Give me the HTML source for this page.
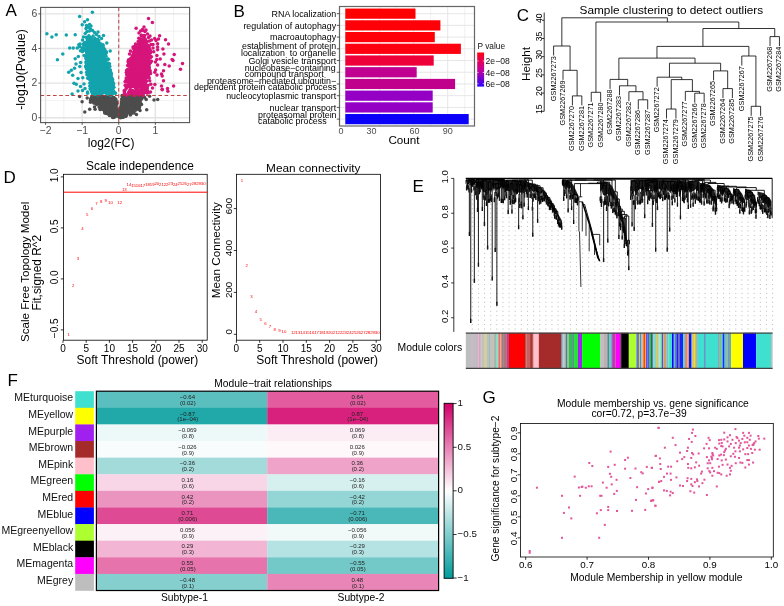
<!DOCTYPE html>
<html><head><meta charset="utf-8"><style>
html,body{margin:0;padding:0;background:#fff;width:784px;height:606px;overflow:hidden}
svg{display:block;font-family:"Liberation Sans", sans-serif;will-change:transform;filter:blur(0.35px)}
</style></head><body>
<svg width="784" height="606" viewBox="0 0 784 606">
<rect x="0" y="0" width="784" height="606" fill="#fff"/>
<text x="5.50" y="16.00" font-size="17" text-anchor="start" fill="#000" >A</text>
<text x="233.50" y="16.80" font-size="17" text-anchor="start" fill="#000" >B</text>
<text x="516.80" y="20.50" font-size="17" text-anchor="start" fill="#000" >C</text>
<text x="3.50" y="182.70" font-size="17" text-anchor="start" fill="#000" >D</text>
<text x="412.50" y="191.60" font-size="17" text-anchor="start" fill="#000" >E</text>
<text x="7.50" y="386.40" font-size="17" text-anchor="start" fill="#000" >F</text>
<text x="482.50" y="402.90" font-size="17" text-anchor="start" fill="#000" >G</text>
<line x1="345.50" y1="6.50" x2="345.50" y2="126.00" stroke="#e4e4e4" stroke-width="0.9" />
<line x1="362.53" y1="6.50" x2="362.53" y2="126.00" stroke="#e4e4e4" stroke-width="0.5" />
<line x1="379.56" y1="6.50" x2="379.56" y2="126.00" stroke="#e4e4e4" stroke-width="0.9" />
<line x1="396.59" y1="6.50" x2="396.59" y2="126.00" stroke="#e4e4e4" stroke-width="0.5" />
<line x1="413.62" y1="6.50" x2="413.62" y2="126.00" stroke="#e4e4e4" stroke-width="0.9" />
<line x1="430.65" y1="6.50" x2="430.65" y2="126.00" stroke="#e4e4e4" stroke-width="0.5" />
<line x1="447.68" y1="6.50" x2="447.68" y2="126.00" stroke="#e4e4e4" stroke-width="0.9" />
<line x1="464.71" y1="6.50" x2="464.71" y2="126.00" stroke="#e4e4e4" stroke-width="0.5" />
<line x1="339.50" y1="13.65" x2="474.50" y2="13.65" stroke="#e4e4e4" stroke-width="0.9" />
<line x1="339.50" y1="25.37" x2="474.50" y2="25.37" stroke="#e4e4e4" stroke-width="0.9" />
<line x1="339.50" y1="37.09" x2="474.50" y2="37.09" stroke="#e4e4e4" stroke-width="0.9" />
<line x1="339.50" y1="48.81" x2="474.50" y2="48.81" stroke="#e4e4e4" stroke-width="0.9" />
<line x1="339.50" y1="60.53" x2="474.50" y2="60.53" stroke="#e4e4e4" stroke-width="0.9" />
<line x1="339.50" y1="72.25" x2="474.50" y2="72.25" stroke="#e4e4e4" stroke-width="0.9" />
<line x1="339.50" y1="83.97" x2="474.50" y2="83.97" stroke="#e4e4e4" stroke-width="0.9" />
<line x1="339.50" y1="95.69" x2="474.50" y2="95.69" stroke="#e4e4e4" stroke-width="0.9" />
<line x1="339.50" y1="107.41" x2="474.50" y2="107.41" stroke="#e4e4e4" stroke-width="0.9" />
<line x1="339.50" y1="119.13" x2="474.50" y2="119.13" stroke="#e4e4e4" stroke-width="0.9" />
<rect x="345.30" y="8.55" width="70.20" height="10.20" fill="#ff0000" stroke="none" stroke-width="1" />
<rect x="345.30" y="20.27" width="95.10" height="10.20" fill="#ff0008" stroke="none" stroke-width="1" />
<rect x="345.30" y="31.99" width="89.50" height="10.20" fill="#ff0008" stroke="none" stroke-width="1" />
<rect x="345.30" y="43.71" width="115.60" height="10.20" fill="#ff0010" stroke="none" stroke-width="1" />
<rect x="345.30" y="55.43" width="88.40" height="10.20" fill="#ee0038" stroke="none" stroke-width="1" />
<rect x="345.30" y="67.15" width="71.40" height="10.20" fill="#bf0090" stroke="none" stroke-width="1" />
<rect x="345.30" y="78.87" width="109.80" height="10.20" fill="#c0008c" stroke="none" stroke-width="1" />
<rect x="345.30" y="90.59" width="87.40" height="10.20" fill="#9400c4" stroke="none" stroke-width="1" />
<rect x="345.30" y="102.31" width="87.40" height="10.20" fill="#9400c4" stroke="none" stroke-width="1" />
<rect x="345.30" y="114.03" width="123.40" height="10.20" fill="#0a00fa" stroke="none" stroke-width="1" />
<rect x="339.50" y="6.50" width="135.00" height="119.50" fill="none" stroke="#666" stroke-width="1.2" />
<line x1="336.80" y1="13.65" x2="339.50" y2="13.65" stroke="#333" stroke-width="0.8" />
<line x1="336.80" y1="25.37" x2="339.50" y2="25.37" stroke="#333" stroke-width="0.8" />
<line x1="336.80" y1="37.09" x2="339.50" y2="37.09" stroke="#333" stroke-width="0.8" />
<line x1="336.80" y1="48.81" x2="339.50" y2="48.81" stroke="#333" stroke-width="0.8" />
<line x1="336.80" y1="60.53" x2="339.50" y2="60.53" stroke="#333" stroke-width="0.8" />
<line x1="336.80" y1="72.25" x2="339.50" y2="72.25" stroke="#333" stroke-width="0.8" />
<line x1="336.80" y1="83.97" x2="339.50" y2="83.97" stroke="#333" stroke-width="0.8" />
<line x1="336.80" y1="95.69" x2="339.50" y2="95.69" stroke="#333" stroke-width="0.8" />
<line x1="336.80" y1="107.41" x2="339.50" y2="107.41" stroke="#333" stroke-width="0.8" />
<line x1="336.80" y1="119.13" x2="339.50" y2="119.13" stroke="#333" stroke-width="0.8" />
<text x="340.90" y="134.30" font-size="9" text-anchor="middle" fill="#4d4d4d" >0</text>
<text x="371.40" y="134.30" font-size="9" text-anchor="middle" fill="#4d4d4d" >30</text>
<text x="414.50" y="134.30" font-size="9" text-anchor="middle" fill="#4d4d4d" >60</text>
<text x="447.80" y="134.30" font-size="9" text-anchor="middle" fill="#4d4d4d" >90</text>
<text x="404.00" y="144.20" font-size="11.7" text-anchor="middle" fill="#000" >Count</text>
<text x="336.20" y="16.85" font-size="8.9" text-anchor="end" fill="#000" >RNA localization</text>
<text x="336.20" y="28.57" font-size="8.9" text-anchor="end" fill="#000" >regulation of autophagy</text>
<text x="336.20" y="40.29" font-size="8.9" text-anchor="end" fill="#000" >macroautophagy</text>
<text x="336.20" y="49.21" font-size="8.9" text-anchor="end" fill="#000" style="white-space:pre">establishment of protein</text>
<text x="336.20" y="55.61" font-size="8.9" text-anchor="end" fill="#000" style="white-space:pre">localization  to organelle</text>
<text x="336.20" y="63.73" font-size="8.9" text-anchor="end" fill="#000" >Golgi vesicle transport</text>
<text x="244.70" y="71.05" font-size="8.9" text-anchor="start" fill="#000" style="white-space:pre">nucleobase−containing</text>
<text x="244.70" y="76.85" font-size="8.9" text-anchor="start" fill="#000" style="white-space:pre">compound transport</text>
<text x="336.20" y="84.17" font-size="8.9" text-anchor="end" fill="#000" style="white-space:pre">proteasome−mediated ubiquitin−</text>
<text x="336.60" y="89.97" font-size="8.9" text-anchor="end" fill="#000" style="white-space:pre">dependent protein catabolic process</text>
<text x="336.20" y="98.89" font-size="8.9" text-anchor="end" fill="#000" >nucleocytoplasmic transport</text>
<text x="336.20" y="110.61" font-size="8.9" text-anchor="end" fill="#000" >nuclear transport</text>
<text x="258.10" y="117.93" font-size="8.9" text-anchor="start" fill="#000" style="white-space:pre">proteasomal protein</text>
<text x="258.10" y="123.73" font-size="8.9" text-anchor="start" fill="#000" style="white-space:pre">catabolic process</text>
<text x="477.50" y="49.40" font-size="8.3" text-anchor="start" fill="#111" >P value</text>
<defs><linearGradient id="pg" x1="0" y1="0" x2="0" y2="1"><stop offset="0" stop-color="#ff0010"/><stop offset="0.5" stop-color="#c8009a"/><stop offset="1" stop-color="#3000ff"/></linearGradient></defs>
<rect x="477.20" y="52.50" width="6.90" height="34.10" fill="url(#pg)" stroke="none" stroke-width="1" />
<line x1="477.20" y1="61.00" x2="478.60" y2="61.00" stroke="#fff" stroke-width="0.6" />
<line x1="482.70" y1="61.00" x2="484.10" y2="61.00" stroke="#fff" stroke-width="0.6" />
<text x="485.60" y="64.10" font-size="8.6" text-anchor="start" fill="#111" >2e−08</text>
<line x1="477.20" y1="72.50" x2="478.60" y2="72.50" stroke="#fff" stroke-width="0.6" />
<line x1="482.70" y1="72.50" x2="484.10" y2="72.50" stroke="#fff" stroke-width="0.6" />
<text x="485.60" y="75.60" font-size="8.6" text-anchor="start" fill="#111" >4e−08</text>
<line x1="477.20" y1="83.70" x2="478.60" y2="83.70" stroke="#fff" stroke-width="0.6" />
<line x1="482.70" y1="83.70" x2="484.10" y2="83.70" stroke="#fff" stroke-width="0.6" />
<text x="485.60" y="86.80" font-size="8.6" text-anchor="start" fill="#111" >6e−08</text>
<text x="671.40" y="13.90" font-size="11.8" text-anchor="middle" fill="#000" >Sample clustering to detect outliers</text>
<line x1="544.20" y1="12.50" x2="544.20" y2="111.30" stroke="#000" stroke-width="0.8" />
<line x1="542.00" y1="20.30" x2="544.20" y2="20.30" stroke="#000" stroke-width="0.8" />
<text transform="translate(541.90,18.30) rotate(-90)" font-size="8.6" text-anchor="middle" fill="#000" >40</text>
<line x1="542.00" y1="38.50" x2="544.20" y2="38.50" stroke="#000" stroke-width="0.8" />
<text transform="translate(541.90,36.50) rotate(-90)" font-size="8.6" text-anchor="middle" fill="#000" >35</text>
<line x1="542.00" y1="56.70" x2="544.20" y2="56.70" stroke="#000" stroke-width="0.8" />
<text transform="translate(541.90,54.70) rotate(-90)" font-size="8.6" text-anchor="middle" fill="#000" >30</text>
<line x1="542.00" y1="74.90" x2="544.20" y2="74.90" stroke="#000" stroke-width="0.8" />
<text transform="translate(541.90,72.90) rotate(-90)" font-size="8.6" text-anchor="middle" fill="#000" >25</text>
<line x1="542.00" y1="93.10" x2="544.20" y2="93.10" stroke="#000" stroke-width="0.8" />
<text transform="translate(541.90,91.10) rotate(-90)" font-size="8.6" text-anchor="middle" fill="#000" >20</text>
<line x1="542.00" y1="111.30" x2="544.20" y2="111.30" stroke="#000" stroke-width="0.8" />
<text transform="translate(541.90,109.30) rotate(-90)" font-size="8.6" text-anchor="middle" fill="#000" >15</text>
<text transform="translate(529.90,64.00) rotate(-90)" font-size="11.8" text-anchor="middle" fill="#000" >Height</text>
<line x1="561.83" y1="17.80" x2="561.83" y2="46.00" stroke="#000" stroke-width="0.8" />
<line x1="553.60" y1="46.00" x2="553.60" y2="55.50" stroke="#000" stroke-width="0.8" />
<text transform="translate(555.50,56.10) rotate(-90)" font-size="7.3" text-anchor="end" fill="#000" >GSM2267273</text>
<line x1="570.07" y1="46.00" x2="570.07" y2="70.30" stroke="#000" stroke-width="0.8" />
<line x1="563.01" y1="70.30" x2="563.01" y2="79.80" stroke="#000" stroke-width="0.8" />
<text transform="translate(564.91,80.40) rotate(-90)" font-size="7.3" text-anchor="end" fill="#000" >GSM2267269</text>
<line x1="577.12" y1="70.30" x2="577.12" y2="95.90" stroke="#000" stroke-width="0.8" />
<line x1="572.42" y1="95.90" x2="572.42" y2="105.40" stroke="#000" stroke-width="0.8" />
<text transform="translate(574.32,106.00) rotate(-90)" font-size="7.3" text-anchor="end" fill="#000" >GSM2267270</text>
<line x1="581.83" y1="95.90" x2="581.83" y2="105.40" stroke="#000" stroke-width="0.8" />
<text transform="translate(583.73,106.00) rotate(-90)" font-size="7.3" text-anchor="end" fill="#000" >GSM2267281</text>
<line x1="572.42" y1="95.90" x2="581.83" y2="95.90" stroke="#000" stroke-width="0.8" />
<line x1="563.01" y1="70.30" x2="577.12" y2="70.30" stroke="#000" stroke-width="0.8" />
<line x1="553.60" y1="46.00" x2="570.07" y2="46.00" stroke="#000" stroke-width="0.8" />
<line x1="667.38" y1="17.80" x2="667.38" y2="22.00" stroke="#000" stroke-width="0.8" />
<line x1="595.94" y1="22.00" x2="595.94" y2="92.30" stroke="#000" stroke-width="0.8" />
<line x1="591.24" y1="92.30" x2="591.24" y2="101.80" stroke="#000" stroke-width="0.8" />
<text transform="translate(593.14,102.40) rotate(-90)" font-size="7.3" text-anchor="end" fill="#000" >GSM2267271</text>
<line x1="600.65" y1="92.30" x2="600.65" y2="101.80" stroke="#000" stroke-width="0.8" />
<text transform="translate(602.55,102.40) rotate(-90)" font-size="7.3" text-anchor="end" fill="#000" >GSM2267280</text>
<line x1="591.24" y1="92.30" x2="600.65" y2="92.30" stroke="#000" stroke-width="0.8" />
<line x1="738.82" y1="22.00" x2="738.82" y2="28.50" stroke="#000" stroke-width="0.8" />
<line x1="702.91" y1="28.50" x2="702.91" y2="46.40" stroke="#000" stroke-width="0.8" />
<line x1="656.96" y1="46.40" x2="656.96" y2="58.10" stroke="#000" stroke-width="0.8" />
<line x1="618.88" y1="58.10" x2="618.88" y2="79.40" stroke="#000" stroke-width="0.8" />
<line x1="610.06" y1="79.40" x2="610.06" y2="88.90" stroke="#000" stroke-width="0.8" />
<text transform="translate(611.96,89.50) rotate(-90)" font-size="7.3" text-anchor="end" fill="#000" >GSM2267288</text>
<line x1="627.70" y1="79.40" x2="627.70" y2="85.80" stroke="#000" stroke-width="0.8" />
<line x1="619.47" y1="85.80" x2="619.47" y2="95.30" stroke="#000" stroke-width="0.8" />
<text transform="translate(621.37,95.90) rotate(-90)" font-size="7.3" text-anchor="end" fill="#000" >GSM2267283</text>
<line x1="635.94" y1="85.80" x2="635.94" y2="91.70" stroke="#000" stroke-width="0.8" />
<line x1="628.88" y1="91.70" x2="628.88" y2="101.20" stroke="#000" stroke-width="0.8" />
<text transform="translate(630.78,101.80) rotate(-90)" font-size="7.3" text-anchor="end" fill="#000" >GSM2267282</text>
<line x1="643.00" y1="91.70" x2="643.00" y2="99.80" stroke="#000" stroke-width="0.8" />
<line x1="638.29" y1="99.80" x2="638.29" y2="109.30" stroke="#000" stroke-width="0.8" />
<text transform="translate(640.19,109.90) rotate(-90)" font-size="7.3" text-anchor="end" fill="#000" >GSM2267286</text>
<line x1="647.70" y1="99.80" x2="647.70" y2="109.30" stroke="#000" stroke-width="0.8" />
<text transform="translate(649.60,109.90) rotate(-90)" font-size="7.3" text-anchor="end" fill="#000" >GSM2267287</text>
<line x1="638.29" y1="99.80" x2="647.70" y2="99.80" stroke="#000" stroke-width="0.8" />
<line x1="628.88" y1="91.70" x2="643.00" y2="91.70" stroke="#000" stroke-width="0.8" />
<line x1="619.47" y1="85.80" x2="635.94" y2="85.80" stroke="#000" stroke-width="0.8" />
<line x1="610.06" y1="79.40" x2="627.70" y2="79.40" stroke="#000" stroke-width="0.8" />
<line x1="695.04" y1="58.10" x2="695.04" y2="63.20" stroke="#000" stroke-width="0.8" />
<line x1="669.46" y1="63.20" x2="669.46" y2="77.20" stroke="#000" stroke-width="0.8" />
<line x1="657.11" y1="77.20" x2="657.11" y2="86.70" stroke="#000" stroke-width="0.8" />
<text transform="translate(659.01,87.30) rotate(-90)" font-size="7.3" text-anchor="end" fill="#000" >GSM2267272</text>
<line x1="681.81" y1="77.20" x2="681.81" y2="79.60" stroke="#000" stroke-width="0.8" />
<line x1="671.23" y1="79.60" x2="671.23" y2="109.00" stroke="#000" stroke-width="0.8" />
<line x1="666.52" y1="109.00" x2="666.52" y2="118.50" stroke="#000" stroke-width="0.8" />
<text transform="translate(668.42,119.10) rotate(-90)" font-size="7.3" text-anchor="end" fill="#000" >GSM2267274</text>
<line x1="675.93" y1="109.00" x2="675.93" y2="118.50" stroke="#000" stroke-width="0.8" />
<text transform="translate(677.83,119.10) rotate(-90)" font-size="7.3" text-anchor="end" fill="#000" >GSM2267279</text>
<line x1="666.52" y1="109.00" x2="675.93" y2="109.00" stroke="#000" stroke-width="0.8" />
<line x1="692.40" y1="79.60" x2="692.40" y2="91.40" stroke="#000" stroke-width="0.8" />
<line x1="685.34" y1="91.40" x2="685.34" y2="100.90" stroke="#000" stroke-width="0.8" />
<text transform="translate(687.24,101.50) rotate(-90)" font-size="7.3" text-anchor="end" fill="#000" >GSM2267277</text>
<line x1="699.46" y1="91.40" x2="699.46" y2="93.20" stroke="#000" stroke-width="0.8" />
<line x1="694.75" y1="93.20" x2="694.75" y2="102.70" stroke="#000" stroke-width="0.8" />
<text transform="translate(696.65,103.30) rotate(-90)" font-size="7.3" text-anchor="end" fill="#000" >GSM2267266</text>
<line x1="704.16" y1="93.20" x2="704.16" y2="102.70" stroke="#000" stroke-width="0.8" />
<text transform="translate(706.06,103.30) rotate(-90)" font-size="7.3" text-anchor="end" fill="#000" >GSM2267278</text>
<line x1="694.75" y1="93.20" x2="704.16" y2="93.20" stroke="#000" stroke-width="0.8" />
<line x1="685.34" y1="91.40" x2="699.46" y2="91.40" stroke="#000" stroke-width="0.8" />
<line x1="671.23" y1="79.60" x2="692.40" y2="79.60" stroke="#000" stroke-width="0.8" />
<line x1="657.11" y1="77.20" x2="681.81" y2="77.20" stroke="#000" stroke-width="0.8" />
<line x1="720.63" y1="63.20" x2="720.63" y2="70.90" stroke="#000" stroke-width="0.8" />
<line x1="713.57" y1="70.90" x2="713.57" y2="80.40" stroke="#000" stroke-width="0.8" />
<text transform="translate(715.47,81.00) rotate(-90)" font-size="7.3" text-anchor="end" fill="#000" >GSM2267265</text>
<line x1="727.68" y1="70.90" x2="727.68" y2="88.60" stroke="#000" stroke-width="0.8" />
<line x1="722.98" y1="88.60" x2="722.98" y2="98.10" stroke="#000" stroke-width="0.8" />
<text transform="translate(724.88,98.70) rotate(-90)" font-size="7.3" text-anchor="end" fill="#000" >GSM2267264</text>
<line x1="732.39" y1="88.60" x2="732.39" y2="98.10" stroke="#000" stroke-width="0.8" />
<text transform="translate(734.29,98.70) rotate(-90)" font-size="7.3" text-anchor="end" fill="#000" >GSM2267285</text>
<line x1="722.98" y1="88.60" x2="732.39" y2="88.60" stroke="#000" stroke-width="0.8" />
<line x1="713.57" y1="70.90" x2="727.68" y2="70.90" stroke="#000" stroke-width="0.8" />
<line x1="669.46" y1="63.20" x2="720.63" y2="63.20" stroke="#000" stroke-width="0.8" />
<line x1="618.88" y1="58.10" x2="695.04" y2="58.10" stroke="#000" stroke-width="0.8" />
<line x1="748.86" y1="46.40" x2="748.86" y2="56.00" stroke="#000" stroke-width="0.8" />
<line x1="741.80" y1="56.00" x2="741.80" y2="65.50" stroke="#000" stroke-width="0.8" />
<text transform="translate(743.70,66.10) rotate(-90)" font-size="7.3" text-anchor="end" fill="#000" >GSM2267267</text>
<line x1="755.91" y1="56.00" x2="755.91" y2="106.30" stroke="#000" stroke-width="0.8" />
<line x1="751.21" y1="106.30" x2="751.21" y2="115.80" stroke="#000" stroke-width="0.8" />
<text transform="translate(753.11,116.40) rotate(-90)" font-size="7.3" text-anchor="end" fill="#000" >GSM2267275</text>
<line x1="760.62" y1="106.30" x2="760.62" y2="115.80" stroke="#000" stroke-width="0.8" />
<text transform="translate(762.52,116.40) rotate(-90)" font-size="7.3" text-anchor="end" fill="#000" >GSM2267276</text>
<line x1="751.21" y1="106.30" x2="760.62" y2="106.30" stroke="#000" stroke-width="0.8" />
<line x1="741.80" y1="56.00" x2="755.91" y2="56.00" stroke="#000" stroke-width="0.8" />
<line x1="656.96" y1="46.40" x2="748.86" y2="46.40" stroke="#000" stroke-width="0.8" />
<line x1="774.74" y1="28.50" x2="774.74" y2="36.60" stroke="#000" stroke-width="0.8" />
<line x1="770.03" y1="36.60" x2="770.03" y2="46.10" stroke="#000" stroke-width="0.8" />
<text transform="translate(771.93,46.70) rotate(-90)" font-size="7.3" text-anchor="end" fill="#000" >GSM2267268</text>
<line x1="779.44" y1="36.60" x2="779.44" y2="46.10" stroke="#000" stroke-width="0.8" />
<text transform="translate(781.34,46.70) rotate(-90)" font-size="7.3" text-anchor="end" fill="#000" >GSM2267284</text>
<line x1="770.03" y1="36.60" x2="779.44" y2="36.60" stroke="#000" stroke-width="0.8" />
<line x1="702.91" y1="28.50" x2="774.74" y2="28.50" stroke="#000" stroke-width="0.8" />
<line x1="595.94" y1="22.00" x2="738.82" y2="22.00" stroke="#000" stroke-width="0.8" />
<line x1="561.83" y1="17.80" x2="667.38" y2="17.80" stroke="#000" stroke-width="0.8" />
<rect x="63.40" y="174.30" width="143.80" height="165.90" fill="none" stroke="#000" stroke-width="0.8" />
<text x="140.00" y="170.30" font-size="11.9" text-anchor="middle" fill="#000" >Scale independence</text>
<line x1="63.40" y1="192.20" x2="207.20" y2="192.20" stroke="#ff0000" stroke-width="1" />
<line x1="60.80" y1="176.90" x2="63.40" y2="176.90" stroke="#000" stroke-width="0.8" />
<text transform="translate(58.30,175.30) rotate(-90)" font-size="10.0" text-anchor="middle" fill="#000" >1.0</text>
<line x1="60.80" y1="227.90" x2="63.40" y2="227.90" stroke="#000" stroke-width="0.8" />
<text transform="translate(58.30,226.30) rotate(-90)" font-size="10.0" text-anchor="middle" fill="#000" >0.5</text>
<line x1="60.80" y1="278.90" x2="63.40" y2="278.90" stroke="#000" stroke-width="0.8" />
<text transform="translate(58.30,277.30) rotate(-90)" font-size="10.0" text-anchor="middle" fill="#000" >0.0</text>
<line x1="60.80" y1="329.90" x2="63.40" y2="329.90" stroke="#000" stroke-width="0.8" />
<text transform="translate(58.30,328.30) rotate(-90)" font-size="10.0" text-anchor="middle" fill="#000" >−0.5</text>
<line x1="63.00" y1="340.20" x2="63.00" y2="342.80" stroke="#000" stroke-width="0.8" />
<text x="63.00" y="351.80" font-size="10.0" text-anchor="middle" fill="#000" >0</text>
<line x1="86.20" y1="340.20" x2="86.20" y2="342.80" stroke="#000" stroke-width="0.8" />
<text x="86.20" y="351.80" font-size="10.0" text-anchor="middle" fill="#000" >5</text>
<line x1="109.40" y1="340.20" x2="109.40" y2="342.80" stroke="#000" stroke-width="0.8" />
<text x="109.40" y="351.80" font-size="10.0" text-anchor="middle" fill="#000" >10</text>
<line x1="132.60" y1="340.20" x2="132.60" y2="342.80" stroke="#000" stroke-width="0.8" />
<text x="132.60" y="351.80" font-size="10.0" text-anchor="middle" fill="#000" >15</text>
<line x1="155.80" y1="340.20" x2="155.80" y2="342.80" stroke="#000" stroke-width="0.8" />
<text x="155.80" y="351.80" font-size="10.0" text-anchor="middle" fill="#000" >20</text>
<line x1="179.00" y1="340.20" x2="179.00" y2="342.80" stroke="#000" stroke-width="0.8" />
<text x="179.00" y="351.80" font-size="10.0" text-anchor="middle" fill="#000" >25</text>
<line x1="202.20" y1="340.20" x2="202.20" y2="342.80" stroke="#000" stroke-width="0.8" />
<text x="202.20" y="351.80" font-size="10.0" text-anchor="middle" fill="#000" >30</text>
<text x="137.40" y="364.20" font-size="12.0" text-anchor="middle" fill="#000" >Soft Threshold (power)</text>
<text transform="translate(29.00,271.80) rotate(-90)" font-size="11.6" text-anchor="middle" fill="#000" >Scale Free Topology Model</text>
<text transform="translate(41.30,272.80) rotate(-90)" font-size="11.9" text-anchor="middle" fill="#000" >Fit,signed R^2</text>
<text x="68.64" y="336.00" font-size="4.3" text-anchor="middle" fill="#ff0000" >1</text>
<text x="73.28" y="286.70" font-size="4.3" text-anchor="middle" fill="#ff0000" >2</text>
<text x="77.92" y="259.90" font-size="4.3" text-anchor="middle" fill="#ff0000" >3</text>
<text x="82.56" y="230.00" font-size="4.3" text-anchor="middle" fill="#ff0000" >4</text>
<text x="87.20" y="216.20" font-size="4.3" text-anchor="middle" fill="#ff0000" >5</text>
<text x="91.84" y="210.40" font-size="4.3" text-anchor="middle" fill="#ff0000" >6</text>
<text x="96.48" y="205.10" font-size="4.3" text-anchor="middle" fill="#ff0000" >7</text>
<text x="101.12" y="203.20" font-size="4.3" text-anchor="middle" fill="#ff0000" >8</text>
<text x="105.76" y="202.20" font-size="4.3" text-anchor="middle" fill="#ff0000" >9</text>
<text x="110.40" y="204.10" font-size="4.3" text-anchor="middle" fill="#ff0000" >10</text>
<text x="119.68" y="204.10" font-size="4.3" text-anchor="middle" fill="#ff0000" >12</text>
<text x="124.32" y="191.30" font-size="4.3" text-anchor="middle" fill="#ff0000" >13</text>
<text x="128.96" y="185.90" font-size="4.3" text-anchor="middle" fill="#ff0000" >14</text>
<text x="133.60" y="187.30" font-size="4.3" text-anchor="middle" fill="#ff0000" >15</text>
<text x="138.24" y="186.90" font-size="4.3" text-anchor="middle" fill="#ff0000" >16</text>
<text x="142.88" y="186.50" font-size="4.3" text-anchor="middle" fill="#ff0000" >17</text>
<text x="147.52" y="185.60" font-size="4.3" text-anchor="middle" fill="#ff0000" >18</text>
<text x="152.16" y="185.90" font-size="4.3" text-anchor="middle" fill="#ff0000" >19</text>
<text x="156.80" y="185.40" font-size="4.3" text-anchor="middle" fill="#ff0000" >20</text>
<text x="161.44" y="186.20" font-size="4.3" text-anchor="middle" fill="#ff0000" >21</text>
<text x="166.08" y="185.90" font-size="4.3" text-anchor="middle" fill="#ff0000" >22</text>
<text x="170.72" y="185.20" font-size="4.3" text-anchor="middle" fill="#ff0000" >23</text>
<text x="175.36" y="185.50" font-size="4.3" text-anchor="middle" fill="#ff0000" >24</text>
<text x="180.00" y="184.60" font-size="4.3" text-anchor="middle" fill="#ff0000" >25</text>
<text x="184.64" y="184.90" font-size="4.3" text-anchor="middle" fill="#ff0000" >26</text>
<text x="189.28" y="185.60" font-size="4.3" text-anchor="middle" fill="#ff0000" >27</text>
<text x="193.92" y="185.40" font-size="4.3" text-anchor="middle" fill="#ff0000" >28</text>
<text x="198.56" y="185.20" font-size="4.3" text-anchor="middle" fill="#ff0000" >29</text>
<text x="203.20" y="185.20" font-size="4.3" text-anchor="middle" fill="#ff0000" >30</text>
<rect x="236.40" y="174.30" width="144.20" height="165.90" fill="none" stroke="#000" stroke-width="0.8" />
<text x="313.30" y="172.30" font-size="11.8" text-anchor="middle" fill="#000" >Mean connectivity</text>
<line x1="233.80" y1="334.30" x2="236.40" y2="334.30" stroke="#000" stroke-width="0.8" />
<text transform="translate(232.00,331.80) rotate(-90)" font-size="9.8" text-anchor="middle" fill="#000" >0</text>
<line x1="233.80" y1="292.40" x2="236.40" y2="292.40" stroke="#000" stroke-width="0.8" />
<text transform="translate(232.00,289.90) rotate(-90)" font-size="9.8" text-anchor="middle" fill="#000" >200</text>
<line x1="233.80" y1="250.50" x2="236.40" y2="250.50" stroke="#000" stroke-width="0.8" />
<text transform="translate(232.00,248.00) rotate(-90)" font-size="9.8" text-anchor="middle" fill="#000" >400</text>
<line x1="233.80" y1="208.60" x2="236.40" y2="208.60" stroke="#000" stroke-width="0.8" />
<text transform="translate(232.00,206.10) rotate(-90)" font-size="9.8" text-anchor="middle" fill="#000" >600</text>
<line x1="236.40" y1="340.20" x2="236.40" y2="342.80" stroke="#000" stroke-width="0.8" />
<text x="236.40" y="351.80" font-size="10.0" text-anchor="middle" fill="#000" >0</text>
<line x1="259.70" y1="340.20" x2="259.70" y2="342.80" stroke="#000" stroke-width="0.8" />
<text x="259.70" y="351.80" font-size="10.0" text-anchor="middle" fill="#000" >5</text>
<line x1="283.00" y1="340.20" x2="283.00" y2="342.80" stroke="#000" stroke-width="0.8" />
<text x="283.00" y="351.80" font-size="10.0" text-anchor="middle" fill="#000" >10</text>
<line x1="306.30" y1="340.20" x2="306.30" y2="342.80" stroke="#000" stroke-width="0.8" />
<text x="306.30" y="351.80" font-size="10.0" text-anchor="middle" fill="#000" >15</text>
<line x1="329.60" y1="340.20" x2="329.60" y2="342.80" stroke="#000" stroke-width="0.8" />
<text x="329.60" y="351.80" font-size="10.0" text-anchor="middle" fill="#000" >20</text>
<line x1="352.90" y1="340.20" x2="352.90" y2="342.80" stroke="#000" stroke-width="0.8" />
<text x="352.90" y="351.80" font-size="10.0" text-anchor="middle" fill="#000" >25</text>
<line x1="376.20" y1="340.20" x2="376.20" y2="342.80" stroke="#000" stroke-width="0.8" />
<text x="376.20" y="351.80" font-size="10.0" text-anchor="middle" fill="#000" >30</text>
<text x="317.20" y="364.20" font-size="12.0" text-anchor="middle" fill="#000" >Soft Threshold (power)</text>
<text transform="translate(220.00,250.20) rotate(-90)" font-size="11.7" text-anchor="middle" fill="#000" >Mean Connectivity</text>
<text x="242.06" y="182.30" font-size="4.3" text-anchor="middle" fill="#ff0000" >1</text>
<text x="246.72" y="267.00" font-size="4.3" text-anchor="middle" fill="#ff0000" >2</text>
<text x="251.38" y="298.00" font-size="4.3" text-anchor="middle" fill="#ff0000" >3</text>
<text x="256.04" y="313.10" font-size="4.3" text-anchor="middle" fill="#ff0000" >4</text>
<text x="260.70" y="321.10" font-size="4.3" text-anchor="middle" fill="#ff0000" >5</text>
<text x="265.36" y="325.40" font-size="4.3" text-anchor="middle" fill="#ff0000" >6</text>
<text x="270.02" y="328.30" font-size="4.3" text-anchor="middle" fill="#ff0000" >7</text>
<text x="274.68" y="330.50" font-size="4.3" text-anchor="middle" fill="#ff0000" >8</text>
<text x="279.34" y="331.50" font-size="4.3" text-anchor="middle" fill="#ff0000" >9</text>
<text x="284.00" y="332.70" font-size="4.3" text-anchor="middle" fill="#ff0000" >10</text>
<text x="293.32" y="334.40" font-size="4.3" text-anchor="middle" fill="#ff0000" >12</text>
<text x="297.98" y="334.40" font-size="4.3" text-anchor="middle" fill="#ff0000" >13</text>
<text x="302.64" y="334.40" font-size="4.3" text-anchor="middle" fill="#ff0000" >14</text>
<text x="307.30" y="334.40" font-size="4.3" text-anchor="middle" fill="#ff0000" >15</text>
<text x="311.96" y="334.40" font-size="4.3" text-anchor="middle" fill="#ff0000" >16</text>
<text x="316.62" y="334.40" font-size="4.3" text-anchor="middle" fill="#ff0000" >17</text>
<text x="321.28" y="334.40" font-size="4.3" text-anchor="middle" fill="#ff0000" >18</text>
<text x="325.94" y="334.40" font-size="4.3" text-anchor="middle" fill="#ff0000" >19</text>
<text x="330.60" y="334.40" font-size="4.3" text-anchor="middle" fill="#ff0000" >20</text>
<text x="335.26" y="334.40" font-size="4.3" text-anchor="middle" fill="#ff0000" >21</text>
<text x="339.92" y="334.40" font-size="4.3" text-anchor="middle" fill="#ff0000" >22</text>
<text x="344.58" y="334.40" font-size="4.3" text-anchor="middle" fill="#ff0000" >23</text>
<text x="349.24" y="334.40" font-size="4.3" text-anchor="middle" fill="#ff0000" >24</text>
<text x="353.90" y="334.40" font-size="4.3" text-anchor="middle" fill="#ff0000" >25</text>
<text x="358.56" y="334.40" font-size="4.3" text-anchor="middle" fill="#ff0000" >26</text>
<text x="363.22" y="334.40" font-size="4.3" text-anchor="middle" fill="#ff0000" >27</text>
<text x="367.88" y="334.40" font-size="4.3" text-anchor="middle" fill="#ff0000" >28</text>
<text x="372.54" y="334.40" font-size="4.3" text-anchor="middle" fill="#ff0000" >29</text>
<text x="377.20" y="334.40" font-size="4.3" text-anchor="middle" fill="#ff0000" >30</text>
<rect x="96.40" y="391.20" width="170.80" height="16.91" fill="#5cbfbf" stroke="none" stroke-width="1" />
<rect x="267.20" y="391.20" width="171.40" height="16.91" fill="#e25c9f" stroke="none" stroke-width="1" />
<rect x="75.20" y="391.20" width="18.70" height="16.91" fill="#40e0d0" stroke="none" stroke-width="1" />
<text x="73.20" y="401.30" font-size="10.5" text-anchor="end" fill="#111" >MEturquoise</text>
<text x="187.40" y="399.00" font-size="6.0" text-anchor="middle" fill="#222" >−0.64</text>
<text x="187.80" y="404.80" font-size="6.0" text-anchor="middle" fill="#222" >(0.02)</text>
<text x="357.30" y="399.00" font-size="6.0" text-anchor="middle" fill="#222" >0.64</text>
<text x="357.80" y="404.80" font-size="6.0" text-anchor="middle" fill="#222" >(0.02)</text>
<rect x="96.40" y="407.81" width="170.80" height="16.91" fill="#21a8a8" stroke="none" stroke-width="1" />
<rect x="267.20" y="407.81" width="171.40" height="16.91" fill="#d8217c" stroke="none" stroke-width="1" />
<rect x="75.20" y="407.81" width="18.70" height="16.91" fill="#ffff00" stroke="none" stroke-width="1" />
<text x="73.20" y="417.91" font-size="10.5" text-anchor="end" fill="#111" >MEyellow</text>
<text x="187.40" y="415.61" font-size="6.0" text-anchor="middle" fill="#222" >−0.87</text>
<text x="187.80" y="421.41" font-size="6.0" text-anchor="middle" fill="#222" >(1e−04)</text>
<text x="357.30" y="415.61" font-size="6.0" text-anchor="middle" fill="#222" >0.87</text>
<text x="357.80" y="421.41" font-size="6.0" text-anchor="middle" fill="#222" >(1e−04)</text>
<rect x="96.40" y="424.42" width="170.80" height="16.91" fill="#edf8f8" stroke="none" stroke-width="1" />
<rect x="267.20" y="424.42" width="171.40" height="16.91" fill="#fcedf5" stroke="none" stroke-width="1" />
<rect x="75.20" y="424.42" width="18.70" height="16.91" fill="#a020f0" stroke="none" stroke-width="1" />
<text x="73.20" y="434.52" font-size="10.5" text-anchor="end" fill="#111" >MEpurple</text>
<text x="187.40" y="432.22" font-size="6.0" text-anchor="middle" fill="#222" >−0.069</text>
<text x="187.80" y="438.02" font-size="6.0" text-anchor="middle" fill="#222" >(0.8)</text>
<text x="357.30" y="432.22" font-size="6.0" text-anchor="middle" fill="#222" >0.069</text>
<text x="357.80" y="438.02" font-size="6.0" text-anchor="middle" fill="#222" >(0.8)</text>
<rect x="96.40" y="441.03" width="170.80" height="16.91" fill="#f8fcfc" stroke="none" stroke-width="1" />
<rect x="267.20" y="441.03" width="171.40" height="16.91" fill="#fef8fb" stroke="none" stroke-width="1" />
<rect x="75.20" y="441.03" width="18.70" height="16.91" fill="#a52a2a" stroke="none" stroke-width="1" />
<text x="73.20" y="451.13" font-size="10.5" text-anchor="end" fill="#111" >MEbrown</text>
<text x="187.40" y="448.83" font-size="6.0" text-anchor="middle" fill="#222" >−0.026</text>
<text x="187.80" y="454.63" font-size="6.0" text-anchor="middle" fill="#222" >(0.9)</text>
<text x="357.30" y="448.83" font-size="6.0" text-anchor="middle" fill="#222" >0.026</text>
<text x="357.80" y="454.63" font-size="6.0" text-anchor="middle" fill="#222" >(0.9)</text>
<rect x="96.40" y="457.64" width="170.80" height="16.91" fill="#a3dbdb" stroke="none" stroke-width="1" />
<rect x="267.20" y="457.64" width="171.40" height="16.91" fill="#efa3c9" stroke="none" stroke-width="1" />
<rect x="75.20" y="457.64" width="18.70" height="16.91" fill="#ffc0cb" stroke="none" stroke-width="1" />
<text x="73.20" y="467.74" font-size="10.5" text-anchor="end" fill="#111" >MEpink</text>
<text x="187.40" y="465.44" font-size="6.0" text-anchor="middle" fill="#222" >−0.36</text>
<text x="187.80" y="471.24" font-size="6.0" text-anchor="middle" fill="#222" >(0.2)</text>
<text x="357.30" y="465.44" font-size="6.0" text-anchor="middle" fill="#222" >0.36</text>
<text x="357.80" y="471.24" font-size="6.0" text-anchor="middle" fill="#222" >(0.2)</text>
<rect x="96.40" y="474.25" width="170.80" height="16.91" fill="#f8d6e7" stroke="none" stroke-width="1" />
<rect x="267.20" y="474.25" width="171.40" height="16.91" fill="#d6efef" stroke="none" stroke-width="1" />
<rect x="75.20" y="474.25" width="18.70" height="16.91" fill="#00ff00" stroke="none" stroke-width="1" />
<text x="73.20" y="484.35" font-size="10.5" text-anchor="end" fill="#111" >MEgreen</text>
<text x="187.40" y="482.05" font-size="6.0" text-anchor="middle" fill="#222" >0.16</text>
<text x="187.80" y="487.85" font-size="6.0" text-anchor="middle" fill="#222" >(0.6)</text>
<text x="357.30" y="482.05" font-size="6.0" text-anchor="middle" fill="#222" >−0.16</text>
<text x="357.80" y="487.85" font-size="6.0" text-anchor="middle" fill="#222" >(0.6)</text>
<rect x="96.40" y="490.86" width="170.80" height="16.91" fill="#ec94c0" stroke="none" stroke-width="1" />
<rect x="267.20" y="490.86" width="171.40" height="16.91" fill="#94d5d5" stroke="none" stroke-width="1" />
<rect x="75.20" y="490.86" width="18.70" height="16.91" fill="#ff0000" stroke="none" stroke-width="1" />
<text x="73.20" y="500.96" font-size="10.5" text-anchor="end" fill="#111" >MEred</text>
<text x="187.40" y="498.66" font-size="6.0" text-anchor="middle" fill="#222" >0.42</text>
<text x="187.80" y="504.46" font-size="6.0" text-anchor="middle" fill="#222" >(0.2)</text>
<text x="357.30" y="498.66" font-size="6.0" text-anchor="middle" fill="#222" >−0.42</text>
<text x="357.80" y="504.46" font-size="6.0" text-anchor="middle" fill="#222" >(0.2)</text>
<rect x="96.40" y="507.47" width="170.80" height="16.91" fill="#df4a94" stroke="none" stroke-width="1" />
<rect x="267.20" y="507.47" width="171.40" height="16.91" fill="#4ab8b8" stroke="none" stroke-width="1" />
<rect x="75.20" y="507.47" width="18.70" height="16.91" fill="#0000ff" stroke="none" stroke-width="1" />
<text x="73.20" y="517.57" font-size="10.5" text-anchor="end" fill="#111" >MEblue</text>
<text x="187.40" y="515.27" font-size="6.0" text-anchor="middle" fill="#222" >0.71</text>
<text x="187.80" y="521.07" font-size="6.0" text-anchor="middle" fill="#222" >(0.006)</text>
<text x="357.30" y="515.27" font-size="6.0" text-anchor="middle" fill="#222" >−0.71</text>
<text x="357.80" y="521.07" font-size="6.0" text-anchor="middle" fill="#222" >(0.006)</text>
<rect x="96.40" y="524.08" width="170.80" height="16.91" fill="#fcf1f7" stroke="none" stroke-width="1" />
<rect x="267.20" y="524.08" width="171.40" height="16.91" fill="#f1f9f9" stroke="none" stroke-width="1" />
<rect x="75.20" y="524.08" width="18.70" height="16.91" fill="#adff2f" stroke="none" stroke-width="1" />
<text x="73.20" y="534.18" font-size="10.5" text-anchor="end" fill="#111" >MEgreenyellow</text>
<text x="187.40" y="531.88" font-size="6.0" text-anchor="middle" fill="#222" >0.056</text>
<text x="187.80" y="537.68" font-size="6.0" text-anchor="middle" fill="#222" >(0.9)</text>
<text x="357.30" y="531.88" font-size="6.0" text-anchor="middle" fill="#222" >−0.056</text>
<text x="357.80" y="537.68" font-size="6.0" text-anchor="middle" fill="#222" >(0.9)</text>
<rect x="96.40" y="540.69" width="170.80" height="16.91" fill="#f2b5d4" stroke="none" stroke-width="1" />
<rect x="267.20" y="540.69" width="171.40" height="16.91" fill="#b5e2e2" stroke="none" stroke-width="1" />
<rect x="75.20" y="540.69" width="18.70" height="16.91" fill="#000000" stroke="none" stroke-width="1" />
<text x="73.20" y="550.79" font-size="10.5" text-anchor="end" fill="#111" >MEblack</text>
<text x="187.40" y="548.49" font-size="6.0" text-anchor="middle" fill="#222" >0.29</text>
<text x="187.80" y="554.29" font-size="6.0" text-anchor="middle" fill="#222" >(0.3)</text>
<text x="357.30" y="548.49" font-size="6.0" text-anchor="middle" fill="#222" >−0.29</text>
<text x="357.80" y="554.29" font-size="6.0" text-anchor="middle" fill="#222" >(0.3)</text>
<rect x="96.40" y="557.30" width="170.80" height="16.91" fill="#e673ac" stroke="none" stroke-width="1" />
<rect x="267.20" y="557.30" width="171.40" height="16.91" fill="#73c8c8" stroke="none" stroke-width="1" />
<rect x="75.20" y="557.30" width="18.70" height="16.91" fill="#ff00ff" stroke="none" stroke-width="1" />
<text x="73.20" y="567.40" font-size="10.5" text-anchor="end" fill="#111" >MEmagenta</text>
<text x="187.40" y="565.10" font-size="6.0" text-anchor="middle" fill="#222" >0.55</text>
<text x="187.80" y="570.90" font-size="6.0" text-anchor="middle" fill="#222" >(0.05)</text>
<text x="357.30" y="565.10" font-size="6.0" text-anchor="middle" fill="#222" >−0.55</text>
<text x="357.80" y="570.90" font-size="6.0" text-anchor="middle" fill="#222" >(0.05)</text>
<rect x="96.40" y="573.91" width="170.80" height="16.91" fill="#85cfcf" stroke="none" stroke-width="1" />
<rect x="267.20" y="573.91" width="171.40" height="16.91" fill="#e985b7" stroke="none" stroke-width="1" />
<rect x="75.20" y="573.91" width="18.70" height="16.91" fill="#bebebe" stroke="none" stroke-width="1" />
<text x="73.20" y="584.01" font-size="10.5" text-anchor="end" fill="#111" >MEgrey</text>
<text x="187.40" y="581.71" font-size="6.0" text-anchor="middle" fill="#222" >−0.48</text>
<text x="187.80" y="587.51" font-size="6.0" text-anchor="middle" fill="#222" >(0.1)</text>
<text x="357.30" y="581.71" font-size="6.0" text-anchor="middle" fill="#222" >0.48</text>
<text x="357.80" y="587.51" font-size="6.0" text-anchor="middle" fill="#222" >(0.1)</text>
<rect x="96.40" y="391.20" width="342.20" height="199.32" fill="none" stroke="#000" stroke-width="1.2" />
<text x="273.00" y="387.30" font-size="10.3" text-anchor="middle" fill="#000" >Module−trait relationships</text>
<text x="184.40" y="601.40" font-size="10.3" text-anchor="middle" fill="#000" >Subtype-1</text>
<text x="361.00" y="601.40" font-size="10.3" text-anchor="middle" fill="#000" >Subtype-2</text>
<defs><linearGradient id="hg" x1="0" y1="0" x2="0" y2="1"><stop offset="0" stop-color="#d20069"/><stop offset="0.5" stop-color="#ffffff"/><stop offset="1" stop-color="#009b9b"/></linearGradient></defs>
<rect x="444.10" y="403.30" width="9.00" height="175.00" fill="url(#hg)" stroke="#000" stroke-width="0.9" />
<line x1="453.10" y1="403.60" x2="456.60" y2="403.60" stroke="#000" stroke-width="0.8" />
<text x="457.60" y="406.20" font-size="9.8" text-anchor="start" fill="#111" >1</text>
<line x1="453.10" y1="447.30" x2="456.60" y2="447.30" stroke="#000" stroke-width="0.8" />
<text x="457.60" y="449.90" font-size="9.8" text-anchor="start" fill="#111" >0.5</text>
<line x1="453.10" y1="490.80" x2="456.60" y2="490.80" stroke="#000" stroke-width="0.8" />
<text x="457.60" y="493.40" font-size="9.8" text-anchor="start" fill="#111" >0</text>
<line x1="453.10" y1="534.50" x2="456.60" y2="534.50" stroke="#000" stroke-width="0.8" />
<text x="457.60" y="537.10" font-size="9.8" text-anchor="start" fill="#111" >−0.5</text>
<line x1="453.10" y1="578.00" x2="456.60" y2="578.00" stroke="#000" stroke-width="0.8" />
<text x="457.60" y="580.60" font-size="9.8" text-anchor="start" fill="#111" >−1</text>
<text x="652.90" y="407.10" font-size="10.3" text-anchor="middle" fill="#000" >Module membership vs. gene significance</text>
<text x="639.10" y="417.10" font-size="10.3" text-anchor="middle" fill="#000" >cor=0.72, p=3.7e−39</text>
<rect x="528.70" y="550.00" width="2.00" height="2.00" fill="#e3559a" stroke="none" stroke-width="1" />
<rect x="528.70" y="551.80" width="2.00" height="2.00" fill="#e3559a" stroke="none" stroke-width="1" />
<rect x="535.90" y="486.70" width="2.00" height="2.00" fill="#e3559a" stroke="none" stroke-width="1" />
<rect x="561.00" y="494.80" width="2.00" height="2.00" fill="#e3559a" stroke="none" stroke-width="1" />
<rect x="561.00" y="536.80" width="2.00" height="2.00" fill="#e3559a" stroke="none" stroke-width="1" />
<rect x="562.90" y="511.90" width="2.00" height="2.00" fill="#e3559a" stroke="none" stroke-width="1" />
<rect x="568.00" y="506.50" width="2.00" height="2.00" fill="#e3559a" stroke="none" stroke-width="1" />
<rect x="570.30" y="517.40" width="2.00" height="2.00" fill="#e3559a" stroke="none" stroke-width="1" />
<rect x="573.70" y="475.60" width="2.00" height="2.00" fill="#e3559a" stroke="none" stroke-width="1" />
<rect x="577.90" y="486.50" width="2.00" height="2.00" fill="#e3559a" stroke="none" stroke-width="1" />
<rect x="579.10" y="494.80" width="2.00" height="2.00" fill="#e3559a" stroke="none" stroke-width="1" />
<rect x="580.70" y="486.00" width="2.00" height="2.00" fill="#e3559a" stroke="none" stroke-width="1" />
<rect x="581.40" y="485.60" width="2.00" height="2.00" fill="#e3559a" stroke="none" stroke-width="1" />
<rect x="584.80" y="486.70" width="2.00" height="2.00" fill="#e3559a" stroke="none" stroke-width="1" />
<rect x="587.80" y="485.30" width="2.00" height="2.00" fill="#e3559a" stroke="none" stroke-width="1" />
<rect x="590.60" y="485.30" width="2.00" height="2.00" fill="#e3559a" stroke="none" stroke-width="1" />
<rect x="588.30" y="462.00" width="2.00" height="2.00" fill="#e3559a" stroke="none" stroke-width="1" />
<rect x="591.30" y="465.00" width="2.00" height="2.00" fill="#e3559a" stroke="none" stroke-width="1" />
<rect x="595.90" y="512.30" width="2.00" height="2.00" fill="#e3559a" stroke="none" stroke-width="1" />
<rect x="598.20" y="536.80" width="2.00" height="2.00" fill="#e3559a" stroke="none" stroke-width="1" />
<rect x="599.20" y="494.80" width="2.00" height="2.00" fill="#e3559a" stroke="none" stroke-width="1" />
<rect x="600.50" y="494.80" width="2.00" height="2.00" fill="#e3559a" stroke="none" stroke-width="1" />
<rect x="599.80" y="509.10" width="2.00" height="2.00" fill="#e3559a" stroke="none" stroke-width="1" />
<rect x="601.90" y="481.60" width="2.00" height="2.00" fill="#e3559a" stroke="none" stroke-width="1" />
<rect x="603.80" y="523.90" width="2.00" height="2.00" fill="#e3559a" stroke="none" stroke-width="1" />
<rect x="605.60" y="486.70" width="2.00" height="2.00" fill="#e3559a" stroke="none" stroke-width="1" />
<rect x="607.20" y="465.90" width="2.00" height="2.00" fill="#e3559a" stroke="none" stroke-width="1" />
<rect x="607.20" y="505.90" width="2.00" height="2.00" fill="#e3559a" stroke="none" stroke-width="1" />
<rect x="607.20" y="509.10" width="2.00" height="2.00" fill="#e3559a" stroke="none" stroke-width="1" />
<rect x="608.90" y="472.80" width="2.00" height="2.00" fill="#e3559a" stroke="none" stroke-width="1" />
<rect x="609.60" y="450.60" width="2.00" height="2.00" fill="#e3559a" stroke="none" stroke-width="1" />
<rect x="610.20" y="475.80" width="2.00" height="2.00" fill="#e3559a" stroke="none" stroke-width="1" />
<rect x="610.70" y="483.40" width="2.00" height="2.00" fill="#e3559a" stroke="none" stroke-width="1" />
<rect x="613.20" y="492.90" width="2.00" height="2.00" fill="#e3559a" stroke="none" stroke-width="1" />
<rect x="613.70" y="463.80" width="2.00" height="2.00" fill="#e3559a" stroke="none" stroke-width="1" />
<rect x="615.60" y="478.80" width="2.00" height="2.00" fill="#e3559a" stroke="none" stroke-width="1" />
<rect x="615.80" y="489.90" width="2.00" height="2.00" fill="#e3559a" stroke="none" stroke-width="1" />
<rect x="616.00" y="510.00" width="2.00" height="2.00" fill="#e3559a" stroke="none" stroke-width="1" />
<rect x="624.10" y="459.00" width="2.00" height="2.00" fill="#e3559a" stroke="none" stroke-width="1" />
<rect x="624.10" y="467.70" width="2.00" height="2.00" fill="#e3559a" stroke="none" stroke-width="1" />
<rect x="626.90" y="456.70" width="2.00" height="2.00" fill="#e3559a" stroke="none" stroke-width="1" />
<rect x="629.40" y="477.00" width="2.00" height="2.00" fill="#e3559a" stroke="none" stroke-width="1" />
<rect x="631.00" y="509.80" width="2.00" height="2.00" fill="#e3559a" stroke="none" stroke-width="1" />
<rect x="634.50" y="467.50" width="2.00" height="2.00" fill="#e3559a" stroke="none" stroke-width="1" />
<rect x="635.00" y="498.90" width="2.00" height="2.00" fill="#e3559a" stroke="none" stroke-width="1" />
<rect x="636.10" y="486.20" width="2.00" height="2.00" fill="#e3559a" stroke="none" stroke-width="1" />
<rect x="640.30" y="471.20" width="2.00" height="2.00" fill="#e3559a" stroke="none" stroke-width="1" />
<rect x="641.70" y="472.40" width="2.00" height="2.00" fill="#e3559a" stroke="none" stroke-width="1" />
<rect x="644.20" y="508.90" width="2.00" height="2.00" fill="#e3559a" stroke="none" stroke-width="1" />
<rect x="644.90" y="492.50" width="2.00" height="2.00" fill="#e3559a" stroke="none" stroke-width="1" />
<rect x="645.80" y="465.90" width="2.00" height="2.00" fill="#e3559a" stroke="none" stroke-width="1" />
<rect x="647.20" y="488.10" width="2.00" height="2.00" fill="#e3559a" stroke="none" stroke-width="1" />
<rect x="650.00" y="499.80" width="2.00" height="2.00" fill="#e3559a" stroke="none" stroke-width="1" />
<rect x="651.80" y="499.20" width="2.00" height="2.00" fill="#e3559a" stroke="none" stroke-width="1" />
<rect x="650.70" y="466.80" width="2.00" height="2.00" fill="#e3559a" stroke="none" stroke-width="1" />
<rect x="651.40" y="486.90" width="2.00" height="2.00" fill="#e3559a" stroke="none" stroke-width="1" />
<rect x="654.40" y="504.70" width="2.00" height="2.00" fill="#e3559a" stroke="none" stroke-width="1" />
<rect x="654.60" y="455.00" width="2.00" height="2.00" fill="#e3559a" stroke="none" stroke-width="1" />
<rect x="657.60" y="426.90" width="2.00" height="2.00" fill="#e3559a" stroke="none" stroke-width="1" />
<rect x="658.10" y="480.90" width="2.00" height="2.00" fill="#e3559a" stroke="none" stroke-width="1" />
<rect x="657.58" y="426.75" width="2.00" height="2.00" fill="#e3559a" stroke="none" stroke-width="1" />
<rect x="691.88" y="428.56" width="2.00" height="2.00" fill="#e3559a" stroke="none" stroke-width="1" />
<rect x="734.42" y="428.07" width="2.00" height="2.00" fill="#e3559a" stroke="none" stroke-width="1" />
<rect x="691.05" y="431.86" width="2.00" height="2.00" fill="#e3559a" stroke="none" stroke-width="1" />
<rect x="694.35" y="435.00" width="2.00" height="2.00" fill="#e3559a" stroke="none" stroke-width="1" />
<rect x="723.21" y="431.70" width="2.00" height="2.00" fill="#e3559a" stroke="none" stroke-width="1" />
<rect x="742.17" y="431.86" width="2.00" height="2.00" fill="#e3559a" stroke="none" stroke-width="1" />
<rect x="747.94" y="431.86" width="2.00" height="2.00" fill="#e3559a" stroke="none" stroke-width="1" />
<rect x="671.76" y="436.81" width="2.00" height="2.00" fill="#e3559a" stroke="none" stroke-width="1" />
<rect x="688.08" y="437.96" width="2.00" height="2.00" fill="#e3559a" stroke="none" stroke-width="1" />
<rect x="707.54" y="436.81" width="2.00" height="2.00" fill="#e3559a" stroke="none" stroke-width="1" />
<rect x="708.70" y="439.12" width="2.00" height="2.00" fill="#e3559a" stroke="none" stroke-width="1" />
<rect x="728.98" y="434.17" width="2.00" height="2.00" fill="#e3559a" stroke="none" stroke-width="1" />
<rect x="726.51" y="436.32" width="2.00" height="2.00" fill="#e3559a" stroke="none" stroke-width="1" />
<rect x="735.58" y="435.99" width="2.00" height="2.00" fill="#e3559a" stroke="none" stroke-width="1" />
<rect x="717.93" y="439.12" width="2.00" height="2.00" fill="#e3559a" stroke="none" stroke-width="1" />
<rect x="720.24" y="438.79" width="2.00" height="2.00" fill="#e3559a" stroke="none" stroke-width="1" />
<rect x="723.21" y="438.46" width="2.00" height="2.00" fill="#e3559a" stroke="none" stroke-width="1" />
<rect x="741.35" y="437.96" width="2.00" height="2.00" fill="#e3559a" stroke="none" stroke-width="1" />
<rect x="746.30" y="436.81" width="2.00" height="2.00" fill="#e3559a" stroke="none" stroke-width="1" />
<rect x="748.77" y="438.79" width="2.00" height="2.00" fill="#e3559a" stroke="none" stroke-width="1" />
<rect x="757.34" y="435.00" width="2.00" height="2.00" fill="#e3559a" stroke="none" stroke-width="1" />
<rect x="763.28" y="437.63" width="2.00" height="2.00" fill="#e3559a" stroke="none" stroke-width="1" />
<rect x="757.84" y="437.63" width="2.00" height="2.00" fill="#e3559a" stroke="none" stroke-width="1" />
<rect x="674.56" y="444.07" width="2.00" height="2.00" fill="#e3559a" stroke="none" stroke-width="1" />
<rect x="690.72" y="440.93" width="2.00" height="2.00" fill="#e3559a" stroke="none" stroke-width="1" />
<rect x="705.56" y="442.91" width="2.00" height="2.00" fill="#e3559a" stroke="none" stroke-width="1" />
<rect x="718.26" y="442.58" width="2.00" height="2.00" fill="#e3559a" stroke="none" stroke-width="1" />
<rect x="720.73" y="442.09" width="2.00" height="2.00" fill="#e3559a" stroke="none" stroke-width="1" />
<rect x="729.80" y="442.91" width="2.00" height="2.00" fill="#e3559a" stroke="none" stroke-width="1" />
<rect x="734.75" y="442.09" width="2.00" height="2.00" fill="#e3559a" stroke="none" stroke-width="1" />
<rect x="739.70" y="442.09" width="2.00" height="2.00" fill="#e3559a" stroke="none" stroke-width="1" />
<rect x="743.82" y="441.26" width="2.00" height="2.00" fill="#e3559a" stroke="none" stroke-width="1" />
<rect x="752.07" y="443.74" width="2.00" height="2.00" fill="#e3559a" stroke="none" stroke-width="1" />
<rect x="754.54" y="440.44" width="2.00" height="2.00" fill="#e3559a" stroke="none" stroke-width="1" />
<rect x="746.30" y="441.26" width="2.00" height="2.00" fill="#e3559a" stroke="none" stroke-width="1" />
<rect x="663.84" y="446.70" width="2.00" height="2.00" fill="#e3559a" stroke="none" stroke-width="1" />
<rect x="686.93" y="446.70" width="2.00" height="2.00" fill="#e3559a" stroke="none" stroke-width="1" />
<rect x="703.09" y="447.36" width="2.00" height="2.00" fill="#e3559a" stroke="none" stroke-width="1" />
<rect x="708.04" y="447.36" width="2.00" height="2.00" fill="#e3559a" stroke="none" stroke-width="1" />
<rect x="714.14" y="446.70" width="2.00" height="2.00" fill="#e3559a" stroke="none" stroke-width="1" />
<rect x="715.79" y="447.86" width="2.00" height="2.00" fill="#e3559a" stroke="none" stroke-width="1" />
<rect x="720.24" y="445.06" width="2.00" height="2.00" fill="#e3559a" stroke="none" stroke-width="1" />
<rect x="721.56" y="445.39" width="2.00" height="2.00" fill="#e3559a" stroke="none" stroke-width="1" />
<rect x="724.86" y="447.86" width="2.00" height="2.00" fill="#e3559a" stroke="none" stroke-width="1" />
<rect x="728.16" y="445.39" width="2.00" height="2.00" fill="#e3559a" stroke="none" stroke-width="1" />
<rect x="733.10" y="446.70" width="2.00" height="2.00" fill="#e3559a" stroke="none" stroke-width="1" />
<rect x="738.05" y="446.70" width="2.00" height="2.00" fill="#e3559a" stroke="none" stroke-width="1" />
<rect x="742.17" y="448.35" width="2.00" height="2.00" fill="#e3559a" stroke="none" stroke-width="1" />
<rect x="746.30" y="447.03" width="2.00" height="2.00" fill="#e3559a" stroke="none" stroke-width="1" />
<rect x="749.92" y="447.86" width="2.00" height="2.00" fill="#e3559a" stroke="none" stroke-width="1" />
<rect x="753.88" y="448.68" width="2.00" height="2.00" fill="#e3559a" stroke="none" stroke-width="1" />
<rect x="758.66" y="448.68" width="2.00" height="2.00" fill="#e3559a" stroke="none" stroke-width="1" />
<rect x="679.01" y="451.65" width="2.00" height="2.00" fill="#e3559a" stroke="none" stroke-width="1" />
<rect x="686.10" y="450.00" width="2.00" height="2.00" fill="#e3559a" stroke="none" stroke-width="1" />
<rect x="691.05" y="451.98" width="2.00" height="2.00" fill="#e3559a" stroke="none" stroke-width="1" />
<rect x="692.21" y="453.30" width="2.00" height="2.00" fill="#e3559a" stroke="none" stroke-width="1" />
<rect x="697.65" y="452.48" width="2.00" height="2.00" fill="#e3559a" stroke="none" stroke-width="1" />
<rect x="711.66" y="453.30" width="2.00" height="2.00" fill="#e3559a" stroke="none" stroke-width="1" />
<rect x="718.26" y="454.46" width="2.00" height="2.00" fill="#e3559a" stroke="none" stroke-width="1" />
<rect x="719.91" y="453.63" width="2.00" height="2.00" fill="#e3559a" stroke="none" stroke-width="1" />
<rect x="722.88" y="454.13" width="2.00" height="2.00" fill="#e3559a" stroke="none" stroke-width="1" />
<rect x="732.28" y="452.81" width="2.00" height="2.00" fill="#e3559a" stroke="none" stroke-width="1" />
<rect x="734.42" y="450.33" width="2.00" height="2.00" fill="#e3559a" stroke="none" stroke-width="1" />
<rect x="738.87" y="450.33" width="2.00" height="2.00" fill="#e3559a" stroke="none" stroke-width="1" />
<rect x="744.32" y="453.14" width="2.00" height="2.00" fill="#e3559a" stroke="none" stroke-width="1" />
<rect x="747.12" y="453.14" width="2.00" height="2.00" fill="#e3559a" stroke="none" stroke-width="1" />
<rect x="751.24" y="451.98" width="2.00" height="2.00" fill="#e3559a" stroke="none" stroke-width="1" />
<rect x="654.94" y="454.78" width="2.00" height="2.00" fill="#e3559a" stroke="none" stroke-width="1" />
<rect x="658.89" y="457.42" width="2.00" height="2.00" fill="#e3559a" stroke="none" stroke-width="1" />
<rect x="676.21" y="460.23" width="2.00" height="2.00" fill="#e3559a" stroke="none" stroke-width="1" />
<rect x="681.16" y="458.08" width="2.00" height="2.00" fill="#e3559a" stroke="none" stroke-width="1" />
<rect x="683.30" y="456.10" width="2.00" height="2.00" fill="#e3559a" stroke="none" stroke-width="1" />
<rect x="690.23" y="456.93" width="2.00" height="2.00" fill="#e3559a" stroke="none" stroke-width="1" />
<rect x="705.89" y="456.10" width="2.00" height="2.00" fill="#e3559a" stroke="none" stroke-width="1" />
<rect x="708.04" y="459.40" width="2.00" height="2.00" fill="#e3559a" stroke="none" stroke-width="1" />
<rect x="710.84" y="456.93" width="2.00" height="2.00" fill="#e3559a" stroke="none" stroke-width="1" />
<rect x="716.61" y="458.08" width="2.00" height="2.00" fill="#e3559a" stroke="none" stroke-width="1" />
<rect x="720.73" y="459.40" width="2.00" height="2.00" fill="#e3559a" stroke="none" stroke-width="1" />
<rect x="724.86" y="458.58" width="2.00" height="2.00" fill="#e3559a" stroke="none" stroke-width="1" />
<rect x="729.80" y="455.28" width="2.00" height="2.00" fill="#e3559a" stroke="none" stroke-width="1" />
<rect x="733.93" y="455.77" width="2.00" height="2.00" fill="#e3559a" stroke="none" stroke-width="1" />
<rect x="738.05" y="456.93" width="2.00" height="2.00" fill="#e3559a" stroke="none" stroke-width="1" />
<rect x="746.30" y="459.07" width="2.00" height="2.00" fill="#e3559a" stroke="none" stroke-width="1" />
<rect x="747.94" y="459.07" width="2.00" height="2.00" fill="#e3559a" stroke="none" stroke-width="1" />
<rect x="659.22" y="463.03" width="2.00" height="2.00" fill="#e3559a" stroke="none" stroke-width="1" />
<rect x="686.93" y="463.03" width="2.00" height="2.00" fill="#e3559a" stroke="none" stroke-width="1" />
<rect x="695.17" y="461.38" width="2.00" height="2.00" fill="#e3559a" stroke="none" stroke-width="1" />
<rect x="698.14" y="464.68" width="2.00" height="2.00" fill="#e3559a" stroke="none" stroke-width="1" />
<rect x="706.72" y="462.21" width="2.00" height="2.00" fill="#e3559a" stroke="none" stroke-width="1" />
<rect x="709.19" y="462.21" width="2.00" height="2.00" fill="#e3559a" stroke="none" stroke-width="1" />
<rect x="721.56" y="463.85" width="2.00" height="2.00" fill="#e3559a" stroke="none" stroke-width="1" />
<rect x="726.51" y="463.53" width="2.00" height="2.00" fill="#e3559a" stroke="none" stroke-width="1" />
<rect x="730.63" y="464.84" width="2.00" height="2.00" fill="#e3559a" stroke="none" stroke-width="1" />
<rect x="734.75" y="462.21" width="2.00" height="2.00" fill="#e3559a" stroke="none" stroke-width="1" />
<rect x="739.37" y="461.55" width="2.00" height="2.00" fill="#e3559a" stroke="none" stroke-width="1" />
<rect x="741.35" y="461.88" width="2.00" height="2.00" fill="#e3559a" stroke="none" stroke-width="1" />
<rect x="747.94" y="463.53" width="2.00" height="2.00" fill="#e3559a" stroke="none" stroke-width="1" />
<rect x="752.07" y="461.55" width="2.00" height="2.00" fill="#e3559a" stroke="none" stroke-width="1" />
<rect x="650.98" y="466.82" width="2.00" height="2.00" fill="#e3559a" stroke="none" stroke-width="1" />
<rect x="659.72" y="467.98" width="2.00" height="2.00" fill="#e3559a" stroke="none" stroke-width="1" />
<rect x="667.14" y="465.67" width="2.00" height="2.00" fill="#e3559a" stroke="none" stroke-width="1" />
<rect x="670.11" y="465.67" width="2.00" height="2.00" fill="#e3559a" stroke="none" stroke-width="1" />
<rect x="687.26" y="466.82" width="2.00" height="2.00" fill="#e3559a" stroke="none" stroke-width="1" />
<rect x="690.23" y="467.32" width="2.00" height="2.00" fill="#e3559a" stroke="none" stroke-width="1" />
<rect x="693.85" y="466.33" width="2.00" height="2.00" fill="#e3559a" stroke="none" stroke-width="1" />
<rect x="706.72" y="467.32" width="2.00" height="2.00" fill="#e3559a" stroke="none" stroke-width="1" />
<rect x="708.37" y="470.12" width="2.00" height="2.00" fill="#e3559a" stroke="none" stroke-width="1" />
<rect x="711.34" y="466.82" width="2.00" height="2.00" fill="#e3559a" stroke="none" stroke-width="1" />
<rect x="712.98" y="470.12" width="2.00" height="2.00" fill="#e3559a" stroke="none" stroke-width="1" />
<rect x="717.93" y="465.67" width="2.00" height="2.00" fill="#e3559a" stroke="none" stroke-width="1" />
<rect x="728.98" y="466.82" width="2.00" height="2.00" fill="#e3559a" stroke="none" stroke-width="1" />
<rect x="744.32" y="466.49" width="2.00" height="2.00" fill="#e3559a" stroke="none" stroke-width="1" />
<rect x="665.99" y="472.59" width="2.00" height="2.00" fill="#e3559a" stroke="none" stroke-width="1" />
<rect x="669.61" y="472.59" width="2.00" height="2.00" fill="#e3559a" stroke="none" stroke-width="1" />
<rect x="700.12" y="472.59" width="2.00" height="2.00" fill="#e3559a" stroke="none" stroke-width="1" />
<rect x="700.95" y="470.62" width="2.00" height="2.00" fill="#e3559a" stroke="none" stroke-width="1" />
<rect x="709.19" y="471.44" width="2.00" height="2.00" fill="#e3559a" stroke="none" stroke-width="1" />
<rect x="711.34" y="474.74" width="2.00" height="2.00" fill="#e3559a" stroke="none" stroke-width="1" />
<rect x="716.61" y="471.77" width="2.00" height="2.00" fill="#e3559a" stroke="none" stroke-width="1" />
<rect x="718.26" y="472.10" width="2.00" height="2.00" fill="#e3559a" stroke="none" stroke-width="1" />
<rect x="720.24" y="473.42" width="2.00" height="2.00" fill="#e3559a" stroke="none" stroke-width="1" />
<rect x="725.68" y="474.74" width="2.00" height="2.00" fill="#e3559a" stroke="none" stroke-width="1" />
<rect x="729.80" y="469.79" width="2.00" height="2.00" fill="#e3559a" stroke="none" stroke-width="1" />
<rect x="728.98" y="473.42" width="2.00" height="2.00" fill="#e3559a" stroke="none" stroke-width="1" />
<rect x="663.02" y="475.89" width="2.00" height="2.00" fill="#e3559a" stroke="none" stroke-width="1" />
<rect x="675.39" y="476.39" width="2.00" height="2.00" fill="#e3559a" stroke="none" stroke-width="1" />
<rect x="686.60" y="477.21" width="2.00" height="2.00" fill="#e3559a" stroke="none" stroke-width="1" />
<rect x="690.23" y="477.87" width="2.00" height="2.00" fill="#e3559a" stroke="none" stroke-width="1" />
<rect x="696.00" y="478.37" width="2.00" height="2.00" fill="#e3559a" stroke="none" stroke-width="1" />
<rect x="696.33" y="480.02" width="2.00" height="2.00" fill="#e3559a" stroke="none" stroke-width="1" />
<rect x="703.42" y="478.70" width="2.00" height="2.00" fill="#e3559a" stroke="none" stroke-width="1" />
<rect x="658.07" y="480.84" width="2.00" height="2.00" fill="#e3559a" stroke="none" stroke-width="1" />
<rect x="660.21" y="480.02" width="2.00" height="2.00" fill="#e3559a" stroke="none" stroke-width="1" />
<rect x="669.94" y="478.86" width="2.00" height="2.00" fill="#e3559a" stroke="none" stroke-width="1" />
<rect x="686.10" y="480.02" width="2.00" height="2.00" fill="#e3559a" stroke="none" stroke-width="1" />
<rect x="693.85" y="481.17" width="2.00" height="2.00" fill="#e3559a" stroke="none" stroke-width="1" />
<rect x="701.44" y="482.16" width="2.00" height="2.00" fill="#e3559a" stroke="none" stroke-width="1" />
<rect x="679.01" y="484.47" width="2.00" height="2.00" fill="#e3559a" stroke="none" stroke-width="1" />
<rect x="681.98" y="484.96" width="2.00" height="2.00" fill="#e3559a" stroke="none" stroke-width="1" />
<rect x="690.23" y="483.31" width="2.00" height="2.00" fill="#e3559a" stroke="none" stroke-width="1" />
<rect x="691.55" y="484.96" width="2.00" height="2.00" fill="#e3559a" stroke="none" stroke-width="1" />
<rect x="697.98" y="485.46" width="2.00" height="2.00" fill="#e3559a" stroke="none" stroke-width="1" />
<rect x="715.79" y="485.46" width="2.00" height="2.00" fill="#e3559a" stroke="none" stroke-width="1" />
<rect x="651.47" y="486.61" width="2.00" height="2.00" fill="#e3559a" stroke="none" stroke-width="1" />
<rect x="663.02" y="489.42" width="2.00" height="2.00" fill="#e3559a" stroke="none" stroke-width="1" />
<rect x="665.82" y="489.91" width="2.00" height="2.00" fill="#e3559a" stroke="none" stroke-width="1" />
<rect x="669.61" y="490.73" width="2.00" height="2.00" fill="#e3559a" stroke="none" stroke-width="1" />
<rect x="671.76" y="492.05" width="2.00" height="2.00" fill="#e3559a" stroke="none" stroke-width="1" />
<rect x="669.12" y="494.36" width="2.00" height="2.00" fill="#e3559a" stroke="none" stroke-width="1" />
<rect x="689.40" y="490.24" width="2.00" height="2.00" fill="#e3559a" stroke="none" stroke-width="1" />
<rect x="693.20" y="491.56" width="2.00" height="2.00" fill="#e3559a" stroke="none" stroke-width="1" />
<rect x="705.89" y="494.03" width="2.00" height="2.00" fill="#e3559a" stroke="none" stroke-width="1" />
<rect x="650.65" y="499.80" width="2.00" height="2.00" fill="#e3559a" stroke="none" stroke-width="1" />
<rect x="652.30" y="499.31" width="2.00" height="2.00" fill="#e3559a" stroke="none" stroke-width="1" />
<rect x="654.44" y="504.75" width="2.00" height="2.00" fill="#e3559a" stroke="none" stroke-width="1" />
<rect x="711.34" y="451.98" width="2.00" height="2.00" fill="#e3559a" stroke="none" stroke-width="1" />
<rect x="710.35" y="455.61" width="2.00" height="2.00" fill="#e3559a" stroke="none" stroke-width="1" />
<rect x="711.01" y="458.25" width="2.00" height="2.00" fill="#e3559a" stroke="none" stroke-width="1" />
<rect x="712.16" y="454.46" width="2.00" height="2.00" fill="#e3559a" stroke="none" stroke-width="1" />
<rect x="751.57" y="444.07" width="2.00" height="2.00" fill="#e3559a" stroke="none" stroke-width="1" />
<rect x="752.56" y="443.41" width="2.00" height="2.00" fill="#e3559a" stroke="none" stroke-width="1" />
<rect x="753.22" y="442.09" width="2.00" height="2.00" fill="#e3559a" stroke="none" stroke-width="1" />
<rect x="723.21" y="451.16" width="2.00" height="2.00" fill="#e3559a" stroke="none" stroke-width="1" />
<rect x="724.03" y="449.51" width="2.00" height="2.00" fill="#e3559a" stroke="none" stroke-width="1" />
<rect x="731.45" y="438.79" width="2.00" height="2.00" fill="#e3559a" stroke="none" stroke-width="1" />
<rect x="736.40" y="437.14" width="2.00" height="2.00" fill="#e3559a" stroke="none" stroke-width="1" />
<rect x="738.05" y="439.61" width="2.00" height="2.00" fill="#e3559a" stroke="none" stroke-width="1" />
<rect x="743.33" y="434.67" width="2.00" height="2.00" fill="#e3559a" stroke="none" stroke-width="1" />
<rect x="749.59" y="434.67" width="2.00" height="2.00" fill="#e3559a" stroke="none" stroke-width="1" />
<rect x="726.51" y="440.44" width="2.00" height="2.00" fill="#e3559a" stroke="none" stroke-width="1" />
<rect x="738.87" y="444.56" width="2.00" height="2.00" fill="#e3559a" stroke="none" stroke-width="1" />
<rect x="747.94" y="444.56" width="2.00" height="2.00" fill="#e3559a" stroke="none" stroke-width="1" />
<rect x="520.40" y="423.50" width="252.90" height="133.50" fill="none" stroke="#000" stroke-width="0.8" />
<line x1="517.60" y1="537.80" x2="520.40" y2="537.80" stroke="#000" stroke-width="0.8" />
<text transform="translate(516.80,538.40) rotate(-90)" font-size="9.8" text-anchor="middle" fill="#000" >0.4</text>
<line x1="517.60" y1="516.80" x2="520.40" y2="516.80" stroke="#000" stroke-width="0.8" />
<text transform="translate(516.80,517.40) rotate(-90)" font-size="9.8" text-anchor="middle" fill="#000" >0.5</text>
<line x1="517.60" y1="495.80" x2="520.40" y2="495.80" stroke="#000" stroke-width="0.8" />
<text transform="translate(516.80,496.40) rotate(-90)" font-size="9.8" text-anchor="middle" fill="#000" >0.6</text>
<line x1="517.60" y1="474.80" x2="520.40" y2="474.80" stroke="#000" stroke-width="0.8" />
<text transform="translate(516.80,475.40) rotate(-90)" font-size="9.8" text-anchor="middle" fill="#000" >0.7</text>
<line x1="517.60" y1="453.80" x2="520.40" y2="453.80" stroke="#000" stroke-width="0.8" />
<text transform="translate(516.80,454.40) rotate(-90)" font-size="9.8" text-anchor="middle" fill="#000" >0.8</text>
<line x1="517.60" y1="432.80" x2="520.40" y2="432.80" stroke="#000" stroke-width="0.8" />
<text transform="translate(516.80,433.40) rotate(-90)" font-size="9.8" text-anchor="middle" fill="#000" >0.9</text>
<line x1="525.70" y1="557.00" x2="525.70" y2="559.80" stroke="#000" stroke-width="0.8" />
<text x="525.70" y="568.20" font-size="9.8" text-anchor="middle" fill="#000" >0.6</text>
<line x1="587.10" y1="557.00" x2="587.10" y2="559.80" stroke="#000" stroke-width="0.8" />
<text x="587.10" y="568.20" font-size="9.8" text-anchor="middle" fill="#000" >0.7</text>
<line x1="648.50" y1="557.00" x2="648.50" y2="559.80" stroke="#000" stroke-width="0.8" />
<text x="648.50" y="568.20" font-size="9.8" text-anchor="middle" fill="#000" >0.8</text>
<line x1="709.90" y1="557.00" x2="709.90" y2="559.80" stroke="#000" stroke-width="0.8" />
<text x="709.90" y="568.20" font-size="9.8" text-anchor="middle" fill="#000" >0.9</text>
<line x1="771.30" y1="557.00" x2="771.30" y2="559.80" stroke="#000" stroke-width="0.8" />
<text x="771.30" y="568.20" font-size="9.8" text-anchor="middle" fill="#000" >1.0</text>
<text x="656.30" y="580.90" font-size="10.3" text-anchor="middle" fill="#000" >Module Membership in yellow module</text>
<text transform="translate(498.60,488.50) rotate(-90)" font-size="10.2" text-anchor="middle" fill="#000" >Gene significance for subtype−2</text>
<g>
<clipPath id="aclip"><rect x="40.6" y="7.4" width="149.0" height="115.19999999999999"/></clipPath>
<g clip-path="url(#aclip)">
<line x1="63.85" y1="7.40" x2="63.85" y2="122.60" stroke="#f0f0f0" stroke-width="0.9" />
<line x1="100.45" y1="7.40" x2="100.45" y2="122.60" stroke="#f0f0f0" stroke-width="0.9" />
<line x1="137.05" y1="7.40" x2="137.05" y2="122.60" stroke="#f0f0f0" stroke-width="0.9" />
<line x1="173.65" y1="7.40" x2="173.65" y2="122.60" stroke="#f0f0f0" stroke-width="0.9" />
<line x1="40.60" y1="100.40" x2="189.60" y2="100.40" stroke="#f0f0f0" stroke-width="0.9" />
<line x1="40.60" y1="65.80" x2="189.60" y2="65.80" stroke="#f0f0f0" stroke-width="0.9" />
<line x1="40.60" y1="31.20" x2="189.60" y2="31.20" stroke="#f0f0f0" stroke-width="0.9" />
<line x1="45.55" y1="7.40" x2="45.55" y2="122.60" stroke="#e3e3e3" stroke-width="1.4" />
<line x1="82.15" y1="7.40" x2="82.15" y2="122.60" stroke="#e3e3e3" stroke-width="1.4" />
<line x1="118.75" y1="7.40" x2="118.75" y2="122.60" stroke="#e3e3e3" stroke-width="1.4" />
<line x1="155.35" y1="7.40" x2="155.35" y2="122.60" stroke="#e3e3e3" stroke-width="1.4" />
<line x1="40.60" y1="117.70" x2="189.60" y2="117.70" stroke="#e3e3e3" stroke-width="1.4" />
<line x1="40.60" y1="83.10" x2="189.60" y2="83.10" stroke="#e3e3e3" stroke-width="1.4" />
<line x1="40.60" y1="48.50" x2="189.60" y2="48.50" stroke="#e3e3e3" stroke-width="1.4" />
<line x1="40.60" y1="13.90" x2="189.60" y2="13.90" stroke="#e3e3e3" stroke-width="1.4" />
<polygon points="95.1,97.1 116.1,97.1 118.1,109.0 118.6,109.0 121.5,97.1 140.0,97.1 139.5,100.5 138.1,105.4 134.7,110.3 130.2,113.2 124.4,115.7 118.3,116.9 112.7,115.7 106.8,112.7 101.0,106.4 97.1,104.5 94.6,101.5" fill="#4d4d4d"/>
<g fill="#4d4d4d"><circle cx="103.2" cy="108.2" r="1.75"/><circle cx="110.3" cy="109.6" r="1.75"/><circle cx="123.9" cy="97.0" r="1.75"/><circle cx="104.3" cy="101.0" r="1.75"/><circle cx="135.2" cy="106.6" r="1.75"/><circle cx="124.6" cy="99.0" r="1.75"/><circle cx="124.4" cy="115.7" r="1.75"/><circle cx="118.4" cy="112.8" r="1.75"/><circle cx="126.4" cy="97.0" r="1.75"/><circle cx="131.0" cy="109.3" r="1.75"/><circle cx="106.6" cy="96.2" r="1.75"/><circle cx="136.7" cy="106.5" r="1.75"/><circle cx="111.6" cy="114.2" r="1.75"/><circle cx="114.2" cy="117.3" r="1.75"/><circle cx="137.4" cy="97.8" r="1.75"/><circle cx="97.8" cy="100.6" r="1.75"/><circle cx="124.0" cy="102.5" r="1.75"/><circle cx="109.2" cy="109.1" r="1.75"/><circle cx="121.7" cy="116.6" r="1.75"/><circle cx="126.3" cy="99.3" r="1.75"/><circle cx="138.8" cy="108.8" r="1.75"/><circle cx="128.6" cy="100.4" r="1.75"/><circle cx="134.9" cy="108.9" r="1.75"/><circle cx="105.7" cy="97.0" r="1.75"/><circle cx="112.4" cy="99.0" r="1.75"/><circle cx="106.2" cy="113.4" r="1.75"/><circle cx="137.1" cy="96.5" r="1.75"/><circle cx="123.3" cy="96.5" r="1.75"/><circle cx="128.9" cy="103.2" r="1.75"/><circle cx="107.0" cy="97.3" r="1.75"/><circle cx="122.5" cy="96.2" r="1.75"/><circle cx="101.0" cy="105.0" r="1.75"/><circle cx="123.1" cy="99.1" r="1.75"/><circle cx="138.4" cy="104.3" r="1.75"/><circle cx="115.1" cy="107.6" r="1.75"/><circle cx="124.9" cy="109.4" r="1.75"/><circle cx="120.4" cy="109.9" r="1.75"/><circle cx="113.5" cy="112.3" r="1.75"/><circle cx="103.2" cy="102.5" r="1.75"/><circle cx="112.7" cy="109.0" r="1.75"/><circle cx="124.3" cy="96.9" r="1.75"/><circle cx="124.0" cy="106.4" r="1.75"/><circle cx="126.8" cy="103.7" r="1.75"/><circle cx="128.3" cy="112.7" r="1.75"/><circle cx="91.7" cy="96.9" r="1.75"/><circle cx="103.9" cy="106.1" r="1.75"/><circle cx="122.1" cy="103.0" r="1.75"/><circle cx="109.9" cy="102.8" r="1.75"/><circle cx="110.2" cy="109.4" r="1.75"/><circle cx="106.5" cy="104.3" r="1.75"/><circle cx="131.7" cy="96.1" r="1.75"/><circle cx="120.9" cy="112.6" r="1.75"/><circle cx="107.1" cy="100.7" r="1.75"/><circle cx="133.4" cy="101.1" r="1.75"/><circle cx="100.5" cy="105.6" r="1.75"/><circle cx="127.8" cy="97.9" r="1.75"/><circle cx="107.7" cy="103.3" r="1.75"/><circle cx="135.0" cy="105.7" r="1.75"/><circle cx="136.2" cy="99.4" r="1.75"/><circle cx="108.5" cy="110.7" r="1.75"/><circle cx="137.8" cy="106.0" r="1.75"/><circle cx="102.5" cy="98.3" r="1.75"/><circle cx="100.3" cy="102.0" r="1.75"/><circle cx="133.6" cy="110.5" r="1.75"/><circle cx="133.6" cy="103.5" r="1.75"/><circle cx="97.4" cy="102.3" r="1.75"/><circle cx="132.9" cy="101.8" r="1.75"/><circle cx="109.0" cy="105.2" r="1.75"/><circle cx="112.9" cy="105.0" r="1.75"/><circle cx="139.7" cy="99.1" r="1.75"/><circle cx="113.7" cy="117.6" r="1.75"/><circle cx="140.0" cy="100.7" r="1.75"/><circle cx="130.3" cy="115.0" r="1.75"/><circle cx="125.9" cy="107.6" r="1.75"/><circle cx="105.9" cy="103.4" r="1.75"/><circle cx="102.6" cy="97.1" r="1.75"/><circle cx="121.9" cy="102.2" r="1.75"/><circle cx="133.8" cy="96.6" r="1.75"/><circle cx="138.5" cy="108.9" r="1.75"/><circle cx="99.7" cy="102.5" r="1.75"/><circle cx="125.9" cy="107.7" r="1.75"/><circle cx="112.6" cy="117.4" r="1.75"/><circle cx="123.2" cy="103.5" r="1.75"/><circle cx="116.0" cy="113.7" r="1.75"/><circle cx="109.3" cy="100.1" r="1.75"/><circle cx="119.0" cy="114.5" r="1.75"/><circle cx="134.5" cy="95.7" r="1.75"/><circle cx="124.1" cy="115.6" r="1.75"/><circle cx="93.2" cy="101.8" r="1.75"/><circle cx="104.8" cy="107.8" r="1.75"/><circle cx="113.1" cy="106.5" r="1.75"/><circle cx="132.0" cy="95.5" r="1.75"/><circle cx="93.4" cy="98.5" r="1.75"/><circle cx="97.2" cy="97.1" r="1.75"/><circle cx="107.4" cy="102.8" r="1.75"/><circle cx="109.3" cy="110.6" r="1.75"/><circle cx="121.8" cy="103.9" r="1.75"/><circle cx="100.7" cy="103.2" r="1.75"/><circle cx="128.7" cy="104.4" r="1.75"/><circle cx="94.8" cy="99.7" r="1.75"/><circle cx="110.4" cy="109.6" r="1.75"/><circle cx="132.3" cy="104.4" r="1.75"/><circle cx="133.3" cy="110.0" r="1.75"/><circle cx="113.5" cy="104.2" r="1.75"/><circle cx="117.0" cy="111.9" r="1.75"/><circle cx="113.0" cy="111.7" r="1.75"/><circle cx="115.1" cy="101.2" r="1.75"/><circle cx="119.1" cy="111.7" r="1.75"/><circle cx="113.2" cy="116.0" r="1.75"/><circle cx="140.5" cy="104.2" r="1.75"/><circle cx="104.5" cy="106.3" r="1.75"/><circle cx="125.9" cy="116.2" r="1.75"/><circle cx="132.8" cy="111.1" r="1.75"/><circle cx="129.7" cy="108.6" r="1.75"/><circle cx="90.8" cy="98.8" r="1.75"/><circle cx="131.8" cy="96.5" r="1.75"/><circle cx="95.4" cy="97.8" r="1.75"/><circle cx="137.5" cy="99.7" r="1.75"/><circle cx="126.5" cy="115.0" r="1.75"/><circle cx="133.2" cy="96.3" r="1.75"/><circle cx="131.5" cy="107.4" r="1.75"/><circle cx="128.7" cy="98.0" r="1.75"/><circle cx="93.8" cy="103.1" r="1.75"/><circle cx="120.6" cy="114.8" r="1.75"/><circle cx="103.4" cy="99.7" r="1.75"/><circle cx="103.8" cy="109.9" r="1.75"/><circle cx="130.7" cy="104.7" r="1.75"/><circle cx="110.1" cy="104.7" r="1.75"/><circle cx="109.2" cy="105.2" r="1.75"/><circle cx="130.4" cy="99.2" r="1.75"/><circle cx="127.4" cy="113.1" r="1.75"/><circle cx="126.5" cy="107.5" r="1.75"/><circle cx="116.3" cy="110.5" r="1.75"/><circle cx="138.4" cy="99.0" r="1.75"/><circle cx="139.4" cy="107.6" r="1.75"/><circle cx="114.2" cy="112.3" r="1.75"/><circle cx="100.4" cy="101.7" r="1.75"/><circle cx="101.1" cy="109.1" r="1.75"/><circle cx="107.3" cy="100.9" r="1.75"/><circle cx="106.3" cy="111.9" r="1.75"/><circle cx="112.6" cy="115.4" r="1.75"/><circle cx="121.7" cy="101.7" r="1.75"/><circle cx="102.1" cy="96.0" r="1.75"/><circle cx="116.1" cy="104.4" r="1.75"/><circle cx="99.7" cy="103.9" r="1.75"/><circle cx="107.7" cy="113.5" r="1.75"/><circle cx="116.1" cy="109.5" r="1.75"/><circle cx="115.5" cy="114.9" r="1.75"/><circle cx="134.4" cy="108.5" r="1.75"/><circle cx="116.2" cy="112.3" r="1.75"/><circle cx="136.2" cy="104.8" r="1.75"/><circle cx="115.5" cy="100.8" r="1.75"/><circle cx="136.1" cy="101.1" r="1.75"/><circle cx="100.6" cy="101.5" r="1.75"/><circle cx="107.2" cy="105.4" r="1.75"/><circle cx="129.4" cy="97.5" r="1.75"/><circle cx="106.1" cy="103.8" r="1.75"/><circle cx="121.5" cy="111.2" r="1.75"/><circle cx="113.8" cy="106.8" r="1.75"/><circle cx="101.7" cy="109.1" r="1.75"/><circle cx="141.5" cy="104.6" r="1.75"/><circle cx="105.2" cy="111.0" r="1.75"/><circle cx="139.0" cy="97.8" r="1.75"/><circle cx="140.8" cy="104.2" r="1.75"/><circle cx="131.7" cy="113.1" r="1.75"/><circle cx="106.3" cy="111.2" r="1.75"/><circle cx="125.4" cy="114.3" r="1.75"/><circle cx="104.7" cy="113.1" r="1.75"/><circle cx="116.9" cy="103.7" r="1.75"/><circle cx="128.8" cy="111.3" r="1.75"/><circle cx="125.0" cy="110.2" r="1.75"/><circle cx="125.5" cy="98.4" r="1.75"/><circle cx="140.3" cy="98.8" r="1.75"/><circle cx="108.2" cy="112.3" r="1.75"/><circle cx="122.4" cy="108.4" r="1.75"/><circle cx="125.1" cy="106.2" r="1.75"/><circle cx="107.2" cy="99.6" r="1.75"/><circle cx="130.8" cy="108.2" r="1.75"/><circle cx="130.0" cy="103.9" r="1.75"/><circle cx="104.7" cy="104.4" r="1.75"/><circle cx="137.1" cy="96.5" r="1.75"/><circle cx="131.6" cy="103.8" r="1.75"/><circle cx="108.3" cy="104.9" r="1.75"/><circle cx="119.4" cy="113.5" r="1.75"/><circle cx="109.3" cy="115.2" r="1.75"/><circle cx="96.5" cy="101.8" r="1.75"/><circle cx="95.8" cy="98.1" r="1.75"/><circle cx="132.1" cy="112.4" r="1.75"/><circle cx="100.4" cy="99.9" r="1.75"/><circle cx="112.7" cy="112.8" r="1.75"/><circle cx="134.1" cy="112.9" r="1.75"/><circle cx="122.1" cy="98.9" r="1.75"/><circle cx="111.8" cy="100.0" r="1.75"/><circle cx="101.3" cy="101.3" r="1.75"/><circle cx="132.2" cy="96.2" r="1.75"/><circle cx="141.2" cy="104.4" r="1.75"/><circle cx="120.0" cy="109.1" r="1.75"/><circle cx="127.2" cy="102.5" r="1.75"/><circle cx="136.4" cy="106.8" r="1.75"/><circle cx="122.6" cy="112.4" r="1.75"/><circle cx="125.8" cy="107.0" r="1.75"/><circle cx="100.8" cy="107.8" r="1.75"/><circle cx="125.0" cy="105.9" r="1.75"/><circle cx="120.7" cy="117.8" r="1.75"/><circle cx="138.1" cy="98.7" r="1.75"/><circle cx="132.8" cy="110.0" r="1.75"/><circle cx="103.0" cy="97.3" r="1.75"/><circle cx="119.3" cy="117.2" r="1.75"/><circle cx="127.6" cy="98.6" r="1.75"/><circle cx="136.3" cy="109.5" r="1.75"/><circle cx="130.0" cy="103.5" r="1.75"/><circle cx="136.5" cy="105.7" r="1.75"/><circle cx="130.9" cy="106.8" r="1.75"/><circle cx="96.3" cy="96.5" r="1.75"/><circle cx="94.7" cy="100.2" r="1.75"/><circle cx="99.1" cy="107.1" r="1.75"/><circle cx="127.8" cy="108.0" r="1.75"/><circle cx="113.0" cy="110.6" r="1.75"/><circle cx="106.8" cy="106.3" r="1.75"/><circle cx="130.9" cy="104.9" r="1.75"/><circle cx="128.9" cy="104.0" r="1.75"/><circle cx="110.3" cy="107.8" r="1.75"/><circle cx="122.4" cy="100.7" r="1.75"/><circle cx="90.6" cy="100.4" r="1.75"/><circle cx="132.3" cy="98.8" r="1.75"/><circle cx="115.1" cy="100.1" r="1.75"/><circle cx="101.7" cy="99.5" r="1.75"/><circle cx="112.1" cy="99.4" r="1.75"/><circle cx="92.0" cy="98.1" r="1.75"/><circle cx="99.5" cy="106.9" r="1.75"/><circle cx="93.7" cy="96.0" r="1.75"/><circle cx="114.4" cy="105.0" r="1.75"/><circle cx="128.1" cy="96.7" r="1.75"/><circle cx="112.0" cy="104.7" r="1.75"/><circle cx="102.2" cy="97.7" r="1.75"/><circle cx="115.8" cy="99.3" r="1.75"/><circle cx="123.7" cy="103.6" r="1.75"/><circle cx="97.1" cy="96.7" r="1.75"/><circle cx="129.4" cy="101.9" r="1.75"/><circle cx="132.6" cy="106.3" r="1.75"/><circle cx="140.3" cy="102.5" r="1.75"/><circle cx="103.8" cy="101.7" r="1.75"/><circle cx="134.0" cy="110.2" r="1.75"/><circle cx="108.9" cy="97.7" r="1.75"/><circle cx="122.1" cy="95.6" r="1.75"/><circle cx="92.1" cy="97.6" r="1.75"/><circle cx="99.6" cy="96.4" r="1.75"/><circle cx="138.6" cy="100.2" r="1.75"/><circle cx="140.7" cy="96.3" r="1.75"/><circle cx="106.8" cy="109.6" r="1.75"/><circle cx="141.0" cy="97.5" r="1.75"/><circle cx="96.6" cy="104.6" r="1.75"/><circle cx="108.3" cy="111.3" r="1.75"/><circle cx="140.1" cy="99.6" r="1.75"/><circle cx="130.0" cy="112.6" r="1.75"/><circle cx="135.1" cy="108.4" r="1.75"/><circle cx="139.8" cy="104.0" r="1.75"/><circle cx="112.6" cy="100.8" r="1.75"/><circle cx="132.1" cy="106.7" r="1.75"/><circle cx="104.9" cy="99.5" r="1.75"/><circle cx="129.0" cy="109.6" r="1.75"/><circle cx="128.4" cy="104.5" r="1.75"/><circle cx="128.5" cy="96.0" r="1.75"/><circle cx="115.4" cy="113.2" r="1.75"/><circle cx="126.7" cy="97.8" r="1.75"/><circle cx="124.8" cy="116.0" r="1.75"/><circle cx="137.1" cy="106.0" r="1.75"/><circle cx="108.3" cy="104.1" r="1.75"/><circle cx="141.5" cy="97.9" r="1.75"/><circle cx="103.4" cy="96.6" r="1.75"/><circle cx="102.3" cy="108.6" r="1.75"/><circle cx="112.9" cy="113.7" r="1.75"/><circle cx="122.8" cy="113.9" r="1.75"/><circle cx="100.0" cy="97.3" r="1.75"/><circle cx="134.6" cy="98.1" r="1.75"/><circle cx="123.4" cy="110.5" r="1.75"/><circle cx="109.0" cy="109.6" r="1.75"/><circle cx="114.3" cy="98.1" r="1.75"/><circle cx="135.1" cy="109.3" r="1.75"/><circle cx="134.0" cy="100.3" r="1.75"/><circle cx="129.4" cy="97.3" r="1.75"/><circle cx="109.0" cy="106.8" r="1.75"/><circle cx="129.8" cy="105.4" r="1.75"/><circle cx="125.1" cy="109.6" r="1.75"/><circle cx="101.9" cy="103.7" r="1.75"/><circle cx="113.5" cy="97.5" r="1.75"/><circle cx="102.1" cy="99.4" r="1.75"/><circle cx="123.2" cy="117.2" r="1.75"/><circle cx="131.8" cy="105.0" r="1.75"/><circle cx="100.4" cy="97.7" r="1.75"/><circle cx="129.1" cy="102.4" r="1.75"/><circle cx="118.2" cy="110.4" r="1.75"/><circle cx="105.2" cy="105.6" r="1.75"/><circle cx="108.9" cy="112.8" r="1.75"/><circle cx="130.4" cy="102.2" r="1.75"/><circle cx="96.0" cy="102.5" r="1.75"/><circle cx="112.5" cy="97.3" r="1.75"/><circle cx="110.4" cy="99.3" r="1.75"/><circle cx="107.2" cy="106.3" r="1.75"/><circle cx="109.7" cy="115.4" r="1.75"/><circle cx="105.7" cy="106.3" r="1.75"/><circle cx="106.4" cy="101.2" r="1.75"/><circle cx="133.6" cy="95.7" r="1.75"/><circle cx="93.2" cy="100.3" r="1.75"/><circle cx="131.6" cy="106.4" r="1.75"/><circle cx="142.8" cy="96.3" r="1.75"/><circle cx="100.4" cy="95.8" r="1.75"/><circle cx="113.6" cy="103.4" r="1.75"/><circle cx="95.5" cy="102.8" r="1.75"/><circle cx="112.8" cy="101.6" r="1.75"/><circle cx="124.0" cy="111.2" r="1.75"/><circle cx="103.7" cy="98.7" r="1.75"/><circle cx="131.0" cy="113.9" r="1.75"/><circle cx="117.7" cy="114.9" r="1.75"/><circle cx="99.5" cy="95.9" r="1.75"/><circle cx="124.8" cy="116.4" r="1.75"/><circle cx="138.9" cy="106.4" r="1.75"/><circle cx="134.0" cy="109.5" r="1.75"/><circle cx="112.6" cy="107.6" r="1.75"/><circle cx="99.6" cy="99.8" r="1.75"/><circle cx="109.3" cy="106.1" r="1.75"/><circle cx="133.4" cy="106.0" r="1.75"/><circle cx="141.7" cy="99.1" r="1.75"/><circle cx="107.3" cy="107.7" r="1.75"/><circle cx="112.5" cy="115.3" r="1.75"/><circle cx="123.2" cy="96.2" r="1.75"/><circle cx="121.2" cy="108.3" r="1.75"/><circle cx="116.5" cy="102.0" r="1.75"/><circle cx="110.3" cy="107.5" r="1.75"/><circle cx="124.9" cy="100.0" r="1.75"/><circle cx="139.7" cy="99.7" r="1.75"/><circle cx="111.0" cy="114.8" r="1.75"/><circle cx="107.4" cy="101.8" r="1.75"/><circle cx="107.4" cy="104.6" r="1.75"/><circle cx="105.6" cy="98.6" r="1.75"/><circle cx="94.7" cy="100.9" r="1.75"/><circle cx="101.2" cy="97.4" r="1.75"/><circle cx="118.6" cy="112.8" r="1.75"/><circle cx="135.3" cy="110.2" r="1.75"/><circle cx="134.2" cy="95.6" r="1.75"/><circle cx="94.2" cy="101.7" r="1.75"/><circle cx="116.3" cy="101.7" r="1.75"/><circle cx="126.5" cy="110.6" r="1.75"/><circle cx="98.1" cy="96.8" r="1.75"/><circle cx="131.1" cy="99.6" r="1.75"/><circle cx="137.2" cy="96.6" r="1.75"/><circle cx="110.9" cy="98.0" r="1.75"/><circle cx="105.5" cy="98.6" r="1.75"/><circle cx="98.3" cy="98.5" r="1.75"/><circle cx="94.6" cy="100.0" r="1.75"/><circle cx="116.4" cy="111.9" r="1.75"/><circle cx="107.2" cy="96.0" r="1.75"/><circle cx="108.9" cy="112.9" r="1.75"/><circle cx="132.3" cy="108.8" r="1.75"/><circle cx="115.3" cy="108.0" r="1.75"/><circle cx="114.1" cy="108.0" r="1.75"/><circle cx="135.0" cy="100.2" r="1.75"/><circle cx="122.2" cy="117.2" r="1.75"/><circle cx="135.8" cy="99.7" r="1.75"/><circle cx="99.5" cy="101.7" r="1.75"/><circle cx="101.3" cy="96.7" r="1.75"/><circle cx="137.1" cy="98.2" r="1.75"/><circle cx="127.1" cy="107.7" r="1.75"/><circle cx="131.4" cy="97.7" r="1.75"/><circle cx="107.8" cy="107.3" r="1.75"/><circle cx="110.4" cy="102.9" r="1.75"/><circle cx="109.6" cy="109.5" r="1.75"/><circle cx="104.9" cy="98.4" r="1.75"/><circle cx="117.2" cy="112.6" r="1.75"/><circle cx="108.7" cy="110.5" r="1.75"/><circle cx="114.7" cy="106.6" r="1.75"/><circle cx="118.9" cy="115.9" r="1.75"/><circle cx="114.1" cy="109.9" r="1.75"/><circle cx="110.1" cy="100.5" r="1.75"/><circle cx="119.8" cy="116.1" r="1.75"/><circle cx="113.5" cy="115.7" r="1.75"/><circle cx="128.5" cy="103.9" r="1.75"/><circle cx="106.6" cy="107.3" r="1.75"/><circle cx="111.8" cy="104.2" r="1.75"/><circle cx="125.3" cy="115.9" r="1.75"/><circle cx="121.7" cy="98.9" r="1.75"/><circle cx="102.2" cy="104.1" r="1.75"/><circle cx="123.3" cy="98.8" r="1.75"/><circle cx="94.9" cy="103.0" r="1.75"/><circle cx="105.6" cy="96.2" r="1.75"/><circle cx="119.3" cy="117.0" r="1.75"/><circle cx="119.0" cy="112.7" r="1.75"/><circle cx="139.3" cy="105.8" r="1.75"/><circle cx="126.9" cy="98.3" r="1.75"/><circle cx="137.5" cy="104.3" r="1.75"/><circle cx="115.9" cy="116.2" r="1.75"/><circle cx="105.8" cy="99.9" r="1.75"/><circle cx="134.5" cy="109.5" r="1.75"/><circle cx="95.0" cy="96.2" r="1.75"/><circle cx="109.3" cy="95.7" r="1.75"/><circle cx="135.0" cy="99.8" r="1.75"/><circle cx="105.1" cy="104.6" r="1.75"/><circle cx="124.1" cy="110.9" r="1.75"/><circle cx="113.8" cy="97.8" r="1.75"/><circle cx="94.0" cy="95.7" r="1.75"/><circle cx="116.1" cy="105.3" r="1.75"/><circle cx="108.2" cy="105.3" r="1.75"/><circle cx="121.6" cy="116.1" r="1.75"/><circle cx="101.3" cy="104.6" r="1.75"/><circle cx="95.1" cy="100.9" r="1.75"/><circle cx="115.5" cy="115.5" r="1.75"/><circle cx="123.6" cy="103.8" r="1.75"/><circle cx="101.4" cy="96.9" r="1.75"/><circle cx="113.6" cy="102.8" r="1.75"/><circle cx="140.6" cy="98.3" r="1.75"/><circle cx="139.3" cy="104.8" r="1.75"/><circle cx="101.8" cy="99.8" r="1.75"/><circle cx="111.0" cy="115.3" r="1.75"/><circle cx="135.0" cy="96.8" r="1.75"/><circle cx="111.9" cy="104.6" r="1.75"/><circle cx="100.0" cy="101.3" r="1.75"/><circle cx="104.6" cy="111.7" r="1.75"/><circle cx="108.7" cy="98.1" r="1.75"/><circle cx="102.3" cy="105.8" r="1.75"/><circle cx="127.9" cy="100.5" r="1.75"/></g>
<g fill="#4d4d4d"><circle cx="79.6" cy="96.6" r="1.75"/><circle cx="82.1" cy="101.8" r="1.75"/><circle cx="84.8" cy="112.1" r="1.75"/><circle cx="89.7" cy="109.2" r="1.75"/><circle cx="91.1" cy="98.9" r="1.75"/><circle cx="90.5" cy="102.3" r="1.75"/><circle cx="94.5" cy="106.9" r="1.75"/><circle cx="95.1" cy="109.2" r="1.75"/><circle cx="146.7" cy="109.8" r="1.75"/><circle cx="146.2" cy="99.5" r="1.75"/><circle cx="149.6" cy="96.3" r="1.75"/><circle cx="154.0" cy="100.1" r="1.75"/><circle cx="157.7" cy="99.5" r="1.75"/><circle cx="136.4" cy="114.4" r="1.75"/><circle cx="87.2" cy="98.0" r="1.75"/><circle cx="92.5" cy="97.5" r="1.75"/><circle cx="144.6" cy="97.6" r="1.75"/><circle cx="140.0" cy="110.5" r="1.75"/><circle cx="100.0" cy="109.5" r="1.75"/></g>
<polygon points="93.5,88.5 112.2,88.5 111.5,84.9 110.0,77.7 108.4,70.1 106.8,62.5 105.5,56.1 103.2,50.1 100.0,44.9 96.0,42.9 93.2,40.1 90.8,39.3 89.0,40.5 87.4,43.3 86.6,46.1 84.4,50.3 86.0,56.6 87.0,61.9 88.0,68.2 89.2,75.6 91.2,83.0" fill="#13a3ad"/>
<g fill="#13a3ad"><circle cx="89.7" cy="40.3" r="1.75"/><circle cx="95.2" cy="43.5" r="1.75"/><circle cx="113.4" cy="83.2" r="1.75"/><circle cx="100.1" cy="51.0" r="1.75"/><circle cx="87.5" cy="40.5" r="1.75"/><circle cx="110.3" cy="83.6" r="1.75"/><circle cx="92.3" cy="72.6" r="1.75"/><circle cx="106.9" cy="86.6" r="1.75"/><circle cx="102.5" cy="75.3" r="1.75"/><circle cx="99.1" cy="44.9" r="1.75"/><circle cx="97.9" cy="39.5" r="1.75"/><circle cx="113.9" cy="87.2" r="1.75"/><circle cx="100.5" cy="52.5" r="1.75"/><circle cx="112.1" cy="86.2" r="1.75"/><circle cx="99.1" cy="59.5" r="1.75"/><circle cx="102.3" cy="60.5" r="1.75"/><circle cx="87.1" cy="52.8" r="1.75"/><circle cx="91.2" cy="66.9" r="1.75"/><circle cx="97.9" cy="55.1" r="1.75"/><circle cx="95.8" cy="46.5" r="1.75"/><circle cx="103.5" cy="51.0" r="1.75"/><circle cx="93.8" cy="79.9" r="1.75"/><circle cx="92.6" cy="68.3" r="1.75"/><circle cx="83.6" cy="48.1" r="1.75"/><circle cx="108.1" cy="71.8" r="1.75"/><circle cx="89.7" cy="54.4" r="1.75"/><circle cx="87.7" cy="62.2" r="1.75"/><circle cx="112.6" cy="92.7" r="1.75"/><circle cx="107.0" cy="93.0" r="1.75"/><circle cx="95.7" cy="92.0" r="1.75"/><circle cx="103.0" cy="84.3" r="1.75"/><circle cx="91.7" cy="45.8" r="1.75"/><circle cx="96.9" cy="42.4" r="1.75"/><circle cx="94.7" cy="93.2" r="1.75"/><circle cx="91.6" cy="40.0" r="1.75"/><circle cx="88.7" cy="37.6" r="1.75"/><circle cx="83.4" cy="44.4" r="1.75"/><circle cx="85.7" cy="66.5" r="1.75"/><circle cx="108.4" cy="59.2" r="1.75"/><circle cx="89.9" cy="59.3" r="1.75"/><circle cx="90.1" cy="88.7" r="1.75"/><circle cx="82.6" cy="49.6" r="1.75"/><circle cx="89.9" cy="46.8" r="1.75"/><circle cx="86.4" cy="37.2" r="1.75"/><circle cx="108.9" cy="79.8" r="1.75"/><circle cx="112.7" cy="90.9" r="1.75"/><circle cx="93.2" cy="74.4" r="1.75"/><circle cx="109.2" cy="73.5" r="1.75"/><circle cx="109.8" cy="66.5" r="1.75"/><circle cx="104.2" cy="76.2" r="1.75"/><circle cx="115.2" cy="93.1" r="1.75"/><circle cx="83.6" cy="44.3" r="1.75"/><circle cx="103.5" cy="69.0" r="1.75"/><circle cx="107.4" cy="91.0" r="1.75"/><circle cx="109.6" cy="82.2" r="1.75"/><circle cx="104.8" cy="54.3" r="1.75"/><circle cx="112.4" cy="81.6" r="1.75"/><circle cx="97.9" cy="66.4" r="1.75"/><circle cx="102.1" cy="64.1" r="1.75"/><circle cx="86.3" cy="56.3" r="1.75"/><circle cx="108.1" cy="66.2" r="1.75"/><circle cx="100.4" cy="57.4" r="1.75"/><circle cx="89.6" cy="63.9" r="1.75"/><circle cx="96.6" cy="86.8" r="1.75"/><circle cx="92.0" cy="85.4" r="1.75"/><circle cx="96.2" cy="83.1" r="1.75"/><circle cx="87.6" cy="43.2" r="1.75"/><circle cx="98.7" cy="54.8" r="1.75"/><circle cx="100.3" cy="89.6" r="1.75"/><circle cx="92.3" cy="67.5" r="1.75"/><circle cx="98.4" cy="78.0" r="1.75"/><circle cx="90.0" cy="86.1" r="1.75"/><circle cx="93.9" cy="81.2" r="1.75"/><circle cx="105.0" cy="71.5" r="1.75"/><circle cx="92.4" cy="90.1" r="1.75"/><circle cx="97.7" cy="90.1" r="1.75"/><circle cx="92.1" cy="87.4" r="1.75"/><circle cx="108.8" cy="71.7" r="1.75"/><circle cx="96.8" cy="42.7" r="1.75"/><circle cx="84.4" cy="42.9" r="1.75"/><circle cx="101.5" cy="55.6" r="1.75"/><circle cx="95.5" cy="91.6" r="1.75"/><circle cx="87.7" cy="74.2" r="1.75"/><circle cx="92.8" cy="52.5" r="1.75"/><circle cx="109.3" cy="83.6" r="1.75"/><circle cx="101.8" cy="64.5" r="1.75"/><circle cx="101.4" cy="91.7" r="1.75"/><circle cx="107.9" cy="93.6" r="1.75"/><circle cx="104.9" cy="79.8" r="1.75"/><circle cx="102.9" cy="85.1" r="1.75"/><circle cx="92.0" cy="91.1" r="1.75"/><circle cx="95.6" cy="70.8" r="1.75"/><circle cx="92.2" cy="48.2" r="1.75"/><circle cx="92.8" cy="72.5" r="1.75"/><circle cx="95.4" cy="58.6" r="1.75"/><circle cx="87.9" cy="67.2" r="1.75"/><circle cx="105.6" cy="71.8" r="1.75"/><circle cx="94.1" cy="92.5" r="1.75"/><circle cx="102.5" cy="53.2" r="1.75"/><circle cx="84.7" cy="49.9" r="1.75"/><circle cx="112.5" cy="81.8" r="1.75"/><circle cx="86.7" cy="48.7" r="1.75"/><circle cx="91.9" cy="92.3" r="1.75"/><circle cx="105.1" cy="67.6" r="1.75"/><circle cx="99.7" cy="43.7" r="1.75"/><circle cx="92.5" cy="41.5" r="1.75"/><circle cx="91.5" cy="88.7" r="1.75"/><circle cx="105.9" cy="79.0" r="1.75"/><circle cx="104.2" cy="92.6" r="1.75"/><circle cx="112.0" cy="78.2" r="1.75"/><circle cx="100.9" cy="76.7" r="1.75"/><circle cx="106.6" cy="68.0" r="1.75"/><circle cx="98.9" cy="43.5" r="1.75"/><circle cx="83.9" cy="44.3" r="1.75"/><circle cx="95.1" cy="76.0" r="1.75"/><circle cx="94.9" cy="60.0" r="1.75"/><circle cx="86.8" cy="43.6" r="1.75"/><circle cx="110.9" cy="84.6" r="1.75"/><circle cx="89.6" cy="68.0" r="1.75"/><circle cx="98.0" cy="78.2" r="1.75"/><circle cx="113.5" cy="91.6" r="1.75"/><circle cx="94.7" cy="86.1" r="1.75"/><circle cx="110.4" cy="70.1" r="1.75"/><circle cx="103.9" cy="89.2" r="1.75"/><circle cx="103.4" cy="49.7" r="1.75"/><circle cx="111.3" cy="74.7" r="1.75"/><circle cx="92.2" cy="89.1" r="1.75"/><circle cx="103.2" cy="54.9" r="1.75"/><circle cx="110.4" cy="88.8" r="1.75"/><circle cx="112.5" cy="88.3" r="1.75"/><circle cx="104.3" cy="77.0" r="1.75"/><circle cx="102.5" cy="66.4" r="1.75"/><circle cx="98.8" cy="67.6" r="1.75"/><circle cx="102.2" cy="49.4" r="1.75"/><circle cx="88.5" cy="38.4" r="1.75"/><circle cx="108.6" cy="89.9" r="1.75"/><circle cx="110.8" cy="72.3" r="1.75"/><circle cx="98.1" cy="42.9" r="1.75"/><circle cx="94.0" cy="88.7" r="1.75"/><circle cx="107.5" cy="84.2" r="1.75"/><circle cx="91.8" cy="57.9" r="1.75"/><circle cx="95.8" cy="94.0" r="1.75"/><circle cx="107.7" cy="87.1" r="1.75"/><circle cx="91.9" cy="76.5" r="1.75"/><circle cx="108.9" cy="77.3" r="1.75"/><circle cx="96.7" cy="44.8" r="1.75"/><circle cx="107.7" cy="59.0" r="1.75"/><circle cx="103.3" cy="85.8" r="1.75"/><circle cx="92.6" cy="72.1" r="1.75"/><circle cx="90.4" cy="65.4" r="1.75"/><circle cx="82.5" cy="50.2" r="1.75"/><circle cx="91.5" cy="90.2" r="1.75"/><circle cx="87.3" cy="39.7" r="1.75"/><circle cx="104.7" cy="88.8" r="1.75"/><circle cx="98.8" cy="41.0" r="1.75"/><circle cx="93.3" cy="62.0" r="1.75"/><circle cx="90.0" cy="85.9" r="1.75"/><circle cx="91.8" cy="68.9" r="1.75"/><circle cx="104.4" cy="89.8" r="1.75"/><circle cx="87.7" cy="78.2" r="1.75"/><circle cx="87.8" cy="46.7" r="1.75"/><circle cx="92.9" cy="94.4" r="1.75"/><circle cx="102.6" cy="56.4" r="1.75"/><circle cx="104.7" cy="85.9" r="1.75"/><circle cx="85.1" cy="46.3" r="1.75"/><circle cx="86.3" cy="63.4" r="1.75"/><circle cx="100.5" cy="67.2" r="1.75"/><circle cx="94.1" cy="79.7" r="1.75"/><circle cx="110.6" cy="80.6" r="1.75"/><circle cx="89.1" cy="48.7" r="1.75"/><circle cx="101.4" cy="46.0" r="1.75"/><circle cx="103.2" cy="55.2" r="1.75"/><circle cx="94.1" cy="77.5" r="1.75"/><circle cx="93.6" cy="94.4" r="1.75"/><circle cx="88.9" cy="35.7" r="1.75"/><circle cx="106.9" cy="91.7" r="1.75"/><circle cx="92.1" cy="78.2" r="1.75"/><circle cx="95.1" cy="42.6" r="1.75"/><circle cx="94.5" cy="62.5" r="1.75"/><circle cx="93.9" cy="61.5" r="1.75"/><circle cx="108.7" cy="79.0" r="1.75"/><circle cx="96.0" cy="41.1" r="1.75"/><circle cx="91.8" cy="68.3" r="1.75"/><circle cx="87.8" cy="71.8" r="1.75"/><circle cx="102.3" cy="70.9" r="1.75"/><circle cx="96.7" cy="83.2" r="1.75"/><circle cx="87.8" cy="51.6" r="1.75"/><circle cx="96.6" cy="53.3" r="1.75"/><circle cx="93.5" cy="75.6" r="1.75"/><circle cx="100.4" cy="93.0" r="1.75"/><circle cx="93.1" cy="67.1" r="1.75"/><circle cx="100.4" cy="56.5" r="1.75"/><circle cx="97.8" cy="41.3" r="1.75"/><circle cx="106.2" cy="70.7" r="1.75"/><circle cx="102.5" cy="67.4" r="1.75"/><circle cx="90.6" cy="37.5" r="1.75"/><circle cx="98.0" cy="87.3" r="1.75"/><circle cx="88.8" cy="63.1" r="1.75"/><circle cx="91.3" cy="76.5" r="1.75"/><circle cx="91.5" cy="59.6" r="1.75"/><circle cx="111.1" cy="86.0" r="1.75"/><circle cx="110.8" cy="92.8" r="1.75"/><circle cx="113.4" cy="90.8" r="1.75"/><circle cx="99.5" cy="60.1" r="1.75"/><circle cx="104.7" cy="72.8" r="1.75"/><circle cx="99.2" cy="67.8" r="1.75"/><circle cx="96.6" cy="42.3" r="1.75"/><circle cx="92.8" cy="54.9" r="1.75"/><circle cx="91.1" cy="70.1" r="1.75"/><circle cx="100.4" cy="60.1" r="1.75"/><circle cx="92.1" cy="56.1" r="1.75"/><circle cx="107.8" cy="66.3" r="1.75"/><circle cx="100.1" cy="49.2" r="1.75"/><circle cx="98.2" cy="74.1" r="1.75"/><circle cx="100.4" cy="69.7" r="1.75"/><circle cx="101.3" cy="45.9" r="1.75"/><circle cx="106.7" cy="92.7" r="1.75"/><circle cx="97.2" cy="54.5" r="1.75"/><circle cx="92.0" cy="53.5" r="1.75"/><circle cx="91.9" cy="53.4" r="1.75"/><circle cx="88.8" cy="63.8" r="1.75"/><circle cx="91.6" cy="56.7" r="1.75"/><circle cx="104.5" cy="53.4" r="1.75"/><circle cx="111.5" cy="83.0" r="1.75"/><circle cx="92.9" cy="85.3" r="1.75"/><circle cx="87.6" cy="39.9" r="1.75"/><circle cx="100.8" cy="47.7" r="1.75"/><circle cx="95.2" cy="48.9" r="1.75"/><circle cx="96.8" cy="79.0" r="1.75"/><circle cx="91.6" cy="39.5" r="1.75"/><circle cx="107.1" cy="68.3" r="1.75"/><circle cx="93.6" cy="76.0" r="1.75"/><circle cx="107.8" cy="69.2" r="1.75"/><circle cx="98.5" cy="91.6" r="1.75"/><circle cx="96.5" cy="78.9" r="1.75"/><circle cx="95.1" cy="39.3" r="1.75"/><circle cx="94.9" cy="47.0" r="1.75"/><circle cx="82.4" cy="51.6" r="1.75"/><circle cx="85.9" cy="62.1" r="1.75"/><circle cx="107.1" cy="80.6" r="1.75"/><circle cx="104.7" cy="88.7" r="1.75"/><circle cx="95.2" cy="90.2" r="1.75"/><circle cx="112.1" cy="94.3" r="1.75"/><circle cx="110.3" cy="77.7" r="1.75"/><circle cx="96.6" cy="78.1" r="1.75"/><circle cx="103.1" cy="90.8" r="1.75"/><circle cx="91.4" cy="54.6" r="1.75"/><circle cx="103.3" cy="75.4" r="1.75"/><circle cx="89.8" cy="45.3" r="1.75"/><circle cx="98.1" cy="87.9" r="1.75"/><circle cx="93.8" cy="59.9" r="1.75"/><circle cx="96.0" cy="85.9" r="1.75"/><circle cx="108.0" cy="62.9" r="1.75"/><circle cx="86.4" cy="56.1" r="1.75"/><circle cx="90.7" cy="78.1" r="1.75"/><circle cx="101.1" cy="74.6" r="1.75"/><circle cx="109.0" cy="93.7" r="1.75"/><circle cx="93.6" cy="65.3" r="1.75"/><circle cx="107.7" cy="82.4" r="1.75"/><circle cx="112.7" cy="79.7" r="1.75"/><circle cx="104.7" cy="49.6" r="1.75"/><circle cx="103.1" cy="45.5" r="1.75"/><circle cx="109.9" cy="85.6" r="1.75"/><circle cx="101.4" cy="50.8" r="1.75"/><circle cx="96.8" cy="78.4" r="1.75"/><circle cx="103.6" cy="47.8" r="1.75"/><circle cx="102.8" cy="44.7" r="1.75"/><circle cx="93.6" cy="69.3" r="1.75"/><circle cx="101.5" cy="77.5" r="1.75"/><circle cx="90.2" cy="39.9" r="1.75"/><circle cx="106.2" cy="88.0" r="1.75"/><circle cx="94.8" cy="46.7" r="1.75"/><circle cx="90.1" cy="64.1" r="1.75"/><circle cx="94.9" cy="38.3" r="1.75"/><circle cx="111.0" cy="73.3" r="1.75"/><circle cx="111.8" cy="86.0" r="1.75"/><circle cx="106.7" cy="84.7" r="1.75"/><circle cx="105.9" cy="60.3" r="1.75"/><circle cx="109.9" cy="90.5" r="1.75"/><circle cx="85.2" cy="42.9" r="1.75"/><circle cx="87.4" cy="62.0" r="1.75"/><circle cx="101.1" cy="49.2" r="1.75"/><circle cx="103.7" cy="50.6" r="1.75"/><circle cx="101.1" cy="88.2" r="1.75"/><circle cx="91.4" cy="91.0" r="1.75"/><circle cx="108.5" cy="91.5" r="1.75"/><circle cx="95.0" cy="67.4" r="1.75"/><circle cx="104.1" cy="71.7" r="1.75"/><circle cx="92.1" cy="39.0" r="1.75"/><circle cx="97.5" cy="39.8" r="1.75"/><circle cx="99.9" cy="51.1" r="1.75"/><circle cx="110.2" cy="81.3" r="1.75"/><circle cx="101.7" cy="50.6" r="1.75"/><circle cx="95.3" cy="70.8" r="1.75"/><circle cx="87.1" cy="64.2" r="1.75"/><circle cx="115.3" cy="93.3" r="1.75"/><circle cx="93.1" cy="36.0" r="1.75"/><circle cx="88.8" cy="78.8" r="1.75"/><circle cx="97.6" cy="66.6" r="1.75"/><circle cx="85.9" cy="44.6" r="1.75"/><circle cx="94.2" cy="65.6" r="1.75"/><circle cx="92.9" cy="90.2" r="1.75"/><circle cx="105.5" cy="80.5" r="1.75"/><circle cx="109.5" cy="63.8" r="1.75"/><circle cx="90.5" cy="40.9" r="1.75"/><circle cx="104.3" cy="80.0" r="1.75"/><circle cx="112.8" cy="90.5" r="1.75"/><circle cx="99.0" cy="64.1" r="1.75"/><circle cx="94.5" cy="67.5" r="1.75"/><circle cx="102.4" cy="71.6" r="1.75"/><circle cx="87.0" cy="65.3" r="1.75"/><circle cx="87.6" cy="57.6" r="1.75"/><circle cx="87.7" cy="53.7" r="1.75"/><circle cx="103.3" cy="58.5" r="1.75"/><circle cx="87.3" cy="62.8" r="1.75"/><circle cx="104.7" cy="52.5" r="1.75"/><circle cx="90.9" cy="60.8" r="1.75"/><circle cx="98.6" cy="49.8" r="1.75"/><circle cx="108.4" cy="81.4" r="1.75"/><circle cx="106.8" cy="59.8" r="1.75"/><circle cx="94.4" cy="55.4" r="1.75"/><circle cx="94.2" cy="69.5" r="1.75"/><circle cx="95.0" cy="41.9" r="1.75"/><circle cx="97.9" cy="94.8" r="1.75"/><circle cx="108.1" cy="78.2" r="1.75"/><circle cx="94.1" cy="82.8" r="1.75"/><circle cx="86.6" cy="72.3" r="1.75"/><circle cx="99.3" cy="81.5" r="1.75"/><circle cx="105.2" cy="51.2" r="1.75"/><circle cx="107.3" cy="94.2" r="1.75"/><circle cx="98.8" cy="94.3" r="1.75"/><circle cx="86.2" cy="59.1" r="1.75"/><circle cx="109.4" cy="82.6" r="1.75"/><circle cx="100.8" cy="90.7" r="1.75"/><circle cx="110.0" cy="88.0" r="1.75"/><circle cx="103.5" cy="49.9" r="1.75"/><circle cx="107.0" cy="78.1" r="1.75"/><circle cx="90.4" cy="57.8" r="1.75"/><circle cx="96.3" cy="50.3" r="1.75"/><circle cx="91.1" cy="89.2" r="1.75"/><circle cx="85.8" cy="58.0" r="1.75"/><circle cx="108.5" cy="66.1" r="1.75"/><circle cx="97.0" cy="88.2" r="1.75"/><circle cx="99.4" cy="51.6" r="1.75"/><circle cx="93.6" cy="51.1" r="1.75"/><circle cx="103.4" cy="61.1" r="1.75"/><circle cx="99.5" cy="73.9" r="1.75"/><circle cx="111.3" cy="76.9" r="1.75"/><circle cx="91.8" cy="74.9" r="1.75"/><circle cx="105.5" cy="89.9" r="1.75"/><circle cx="94.9" cy="66.7" r="1.75"/><circle cx="92.8" cy="72.2" r="1.75"/><circle cx="94.5" cy="86.1" r="1.75"/><circle cx="93.5" cy="47.5" r="1.75"/><circle cx="102.7" cy="70.8" r="1.75"/><circle cx="96.1" cy="61.6" r="1.75"/><circle cx="104.1" cy="65.0" r="1.75"/><circle cx="101.9" cy="58.7" r="1.75"/><circle cx="111.3" cy="88.9" r="1.75"/><circle cx="108.9" cy="80.1" r="1.75"/><circle cx="87.0" cy="49.7" r="1.75"/><circle cx="95.3" cy="56.5" r="1.75"/><circle cx="99.2" cy="62.8" r="1.75"/><circle cx="87.1" cy="55.3" r="1.75"/><circle cx="94.1" cy="56.0" r="1.75"/><circle cx="100.8" cy="68.2" r="1.75"/><circle cx="97.7" cy="61.1" r="1.75"/><circle cx="102.6" cy="63.8" r="1.75"/><circle cx="95.7" cy="86.4" r="1.75"/><circle cx="86.1" cy="67.6" r="1.75"/><circle cx="91.9" cy="72.9" r="1.75"/><circle cx="109.9" cy="73.9" r="1.75"/><circle cx="101.3" cy="91.3" r="1.75"/><circle cx="96.7" cy="72.9" r="1.75"/><circle cx="87.0" cy="67.4" r="1.75"/><circle cx="89.8" cy="82.9" r="1.75"/><circle cx="86.9" cy="74.8" r="1.75"/><circle cx="113.5" cy="84.7" r="1.75"/><circle cx="99.2" cy="52.4" r="1.75"/><circle cx="96.7" cy="78.8" r="1.75"/><circle cx="87.4" cy="38.3" r="1.75"/><circle cx="107.2" cy="84.6" r="1.75"/><circle cx="84.7" cy="42.4" r="1.75"/><circle cx="105.2" cy="54.9" r="1.75"/><circle cx="103.8" cy="62.8" r="1.75"/><circle cx="98.9" cy="94.4" r="1.75"/><circle cx="102.2" cy="93.0" r="1.75"/><circle cx="104.6" cy="82.7" r="1.75"/><circle cx="106.0" cy="73.8" r="1.75"/><circle cx="95.9" cy="65.1" r="1.75"/><circle cx="100.8" cy="86.0" r="1.75"/><circle cx="98.5" cy="68.8" r="1.75"/><circle cx="99.5" cy="75.5" r="1.75"/><circle cx="101.6" cy="58.3" r="1.75"/><circle cx="91.4" cy="87.1" r="1.75"/><circle cx="93.8" cy="77.8" r="1.75"/><circle cx="89.0" cy="59.8" r="1.75"/><circle cx="94.3" cy="88.0" r="1.75"/><circle cx="90.0" cy="79.7" r="1.75"/><circle cx="97.0" cy="45.1" r="1.75"/><circle cx="104.4" cy="83.6" r="1.75"/><circle cx="86.5" cy="69.1" r="1.75"/><circle cx="89.5" cy="48.1" r="1.75"/><circle cx="101.0" cy="44.1" r="1.75"/><circle cx="90.8" cy="80.4" r="1.75"/><circle cx="90.7" cy="52.4" r="1.75"/><circle cx="108.7" cy="68.6" r="1.75"/><circle cx="109.6" cy="87.4" r="1.75"/><circle cx="95.1" cy="61.9" r="1.75"/><circle cx="91.4" cy="87.3" r="1.75"/><circle cx="95.2" cy="91.1" r="1.75"/><circle cx="103.3" cy="82.4" r="1.75"/><circle cx="98.3" cy="89.3" r="1.75"/><circle cx="91.8" cy="55.9" r="1.75"/><circle cx="88.2" cy="45.6" r="1.75"/><circle cx="98.4" cy="79.0" r="1.75"/><circle cx="88.2" cy="64.0" r="1.75"/><circle cx="96.5" cy="94.4" r="1.75"/><circle cx="98.6" cy="83.8" r="1.75"/><circle cx="103.5" cy="66.6" r="1.75"/><circle cx="99.8" cy="72.3" r="1.75"/><circle cx="93.6" cy="74.7" r="1.75"/><circle cx="95.3" cy="70.0" r="1.75"/><circle cx="106.3" cy="53.0" r="1.75"/><circle cx="107.9" cy="84.7" r="1.75"/><circle cx="96.3" cy="44.1" r="1.75"/><circle cx="87.3" cy="63.1" r="1.75"/><circle cx="109.1" cy="85.9" r="1.75"/><circle cx="88.8" cy="78.1" r="1.75"/><circle cx="101.4" cy="50.8" r="1.75"/><circle cx="110.7" cy="88.1" r="1.75"/><circle cx="95.3" cy="42.3" r="1.75"/><circle cx="89.7" cy="50.0" r="1.75"/><circle cx="95.1" cy="78.5" r="1.75"/><circle cx="88.3" cy="53.4" r="1.75"/><circle cx="83.8" cy="49.8" r="1.75"/><circle cx="107.4" cy="73.3" r="1.75"/><circle cx="102.3" cy="89.2" r="1.75"/><circle cx="82.6" cy="51.3" r="1.75"/><circle cx="103.5" cy="56.1" r="1.75"/><circle cx="105.0" cy="91.9" r="1.75"/><circle cx="96.5" cy="54.7" r="1.75"/><circle cx="96.6" cy="79.2" r="1.75"/><circle cx="110.0" cy="72.8" r="1.75"/><circle cx="109.0" cy="74.9" r="1.75"/><circle cx="92.9" cy="42.0" r="1.75"/><circle cx="102.5" cy="47.5" r="1.75"/><circle cx="94.0" cy="67.6" r="1.75"/><circle cx="88.8" cy="48.3" r="1.75"/><circle cx="84.1" cy="55.4" r="1.75"/><circle cx="90.8" cy="42.3" r="1.75"/><circle cx="102.6" cy="79.6" r="1.75"/><circle cx="88.7" cy="52.3" r="1.75"/><circle cx="94.4" cy="91.2" r="1.75"/><circle cx="105.6" cy="68.6" r="1.75"/><circle cx="97.5" cy="68.6" r="1.75"/><circle cx="101.6" cy="93.6" r="1.75"/><circle cx="89.1" cy="45.0" r="1.75"/><circle cx="103.4" cy="62.8" r="1.75"/><circle cx="82.0" cy="47.7" r="1.75"/><circle cx="102.5" cy="64.0" r="1.75"/><circle cx="87.5" cy="37.5" r="1.75"/><circle cx="89.8" cy="65.4" r="1.75"/><circle cx="101.5" cy="80.8" r="1.75"/><circle cx="87.0" cy="60.3" r="1.75"/><circle cx="107.7" cy="74.9" r="1.75"/><circle cx="98.0" cy="73.4" r="1.75"/><circle cx="108.8" cy="87.9" r="1.75"/><circle cx="105.1" cy="61.4" r="1.75"/><circle cx="95.2" cy="57.4" r="1.75"/><circle cx="107.5" cy="93.4" r="1.75"/><circle cx="91.0" cy="40.1" r="1.75"/><circle cx="94.3" cy="87.3" r="1.75"/><circle cx="93.2" cy="63.3" r="1.75"/><circle cx="96.4" cy="93.9" r="1.75"/><circle cx="107.0" cy="89.2" r="1.75"/><circle cx="109.6" cy="94.4" r="1.75"/><circle cx="105.2" cy="82.0" r="1.75"/><circle cx="99.0" cy="75.7" r="1.75"/><circle cx="114.0" cy="92.3" r="1.75"/><circle cx="98.6" cy="59.7" r="1.75"/><circle cx="95.1" cy="92.6" r="1.75"/><circle cx="104.6" cy="83.1" r="1.75"/><circle cx="97.0" cy="55.5" r="1.75"/><circle cx="94.2" cy="65.5" r="1.75"/><circle cx="106.0" cy="56.3" r="1.75"/><circle cx="96.3" cy="81.1" r="1.75"/><circle cx="88.4" cy="75.6" r="1.75"/><circle cx="110.7" cy="95.2" r="1.75"/><circle cx="99.8" cy="71.8" r="1.75"/><circle cx="91.6" cy="83.7" r="1.75"/><circle cx="103.8" cy="65.4" r="1.75"/><circle cx="98.1" cy="52.4" r="1.75"/><circle cx="92.6" cy="94.6" r="1.75"/><circle cx="85.9" cy="66.1" r="1.75"/><circle cx="91.6" cy="47.1" r="1.75"/><circle cx="101.0" cy="47.3" r="1.75"/><circle cx="101.0" cy="64.9" r="1.75"/><circle cx="105.3" cy="80.6" r="1.75"/><circle cx="93.4" cy="69.9" r="1.75"/><circle cx="94.7" cy="75.8" r="1.75"/><circle cx="97.3" cy="77.1" r="1.75"/><circle cx="98.7" cy="56.6" r="1.75"/><circle cx="99.2" cy="86.1" r="1.75"/><circle cx="93.4" cy="88.4" r="1.75"/><circle cx="103.9" cy="82.0" r="1.75"/><circle cx="106.5" cy="51.9" r="1.75"/><circle cx="93.7" cy="45.2" r="1.75"/><circle cx="108.6" cy="64.1" r="1.75"/><circle cx="96.5" cy="91.9" r="1.75"/><circle cx="104.1" cy="88.7" r="1.75"/><circle cx="92.7" cy="53.7" r="1.75"/><circle cx="108.8" cy="75.5" r="1.75"/><circle cx="108.0" cy="78.0" r="1.75"/><circle cx="95.4" cy="41.2" r="1.75"/><circle cx="108.3" cy="87.5" r="1.75"/><circle cx="99.9" cy="53.6" r="1.75"/><circle cx="88.2" cy="69.5" r="1.75"/><circle cx="98.1" cy="80.7" r="1.75"/><circle cx="91.2" cy="64.6" r="1.75"/></g>
<g fill="#13a3ad"><circle cx="46.9" cy="33.7" r="1.75"/><circle cx="51.9" cy="37.1" r="1.75"/><circle cx="56.2" cy="34.7" r="1.75"/><circle cx="66.3" cy="35.1" r="1.75"/><circle cx="75.2" cy="34.7" r="1.75"/><circle cx="79.6" cy="16.5" r="1.75"/><circle cx="87.5" cy="19.8" r="1.75"/><circle cx="92.4" cy="12.3" r="1.75"/><circle cx="82.2" cy="24.8" r="1.75"/><circle cx="69.7" cy="48.1" r="1.75"/><circle cx="73.2" cy="48.1" r="1.75"/><circle cx="77.2" cy="48.1" r="1.75"/><circle cx="62.8" cy="54.1" r="1.75"/><circle cx="57.4" cy="59.8" r="1.75"/><circle cx="75.2" cy="58.8" r="1.75"/><circle cx="71.3" cy="70.3" r="1.75"/><circle cx="68.7" cy="72.3" r="1.75"/><circle cx="72.7" cy="75.3" r="1.75"/><circle cx="74.0" cy="83.2" r="1.75"/><circle cx="76.2" cy="84.2" r="1.75"/><circle cx="72.1" cy="94.1" r="1.75"/><circle cx="87.5" cy="92.1" r="1.75"/><circle cx="80.6" cy="62.4" r="1.75"/><circle cx="87.6" cy="93.2" r="1.75"/><circle cx="92.2" cy="90.3" r="1.75"/><circle cx="84.6" cy="21.8" r="1.75"/><circle cx="86.5" cy="25.5" r="1.75"/><circle cx="89.6" cy="24.5" r="1.75"/><circle cx="91.0" cy="26.0" r="1.75"/><circle cx="78.8" cy="44.8" r="1.75"/><circle cx="80.5" cy="50.8" r="1.75"/><circle cx="78.3" cy="56.5" r="1.75"/><circle cx="79.8" cy="66.5" r="1.75"/><circle cx="81.0" cy="72.5" r="1.75"/><circle cx="82.8" cy="77.8" r="1.75"/><circle cx="84.0" cy="84.0" r="1.75"/><circle cx="85.0" cy="88.5" r="1.75"/><circle cx="76.0" cy="64.0" r="1.75"/><circle cx="74.5" cy="68.2" r="1.75"/><circle cx="78.0" cy="78.5" r="1.75"/><circle cx="80.5" cy="86.5" r="1.75"/><circle cx="82.5" cy="90.5" r="1.75"/><circle cx="78.0" cy="91.0" r="1.75"/><circle cx="98.0" cy="32.0" r="1.75"/><circle cx="103.5" cy="35.5" r="1.75"/><circle cx="106.8" cy="43.0" r="1.75"/><circle cx="110.2" cy="51.0" r="1.75"/></g>
<g fill="#13a3ad"><circle cx="86.0" cy="28.5" r="1.75"/><circle cx="88.5" cy="27.5" r="1.75"/><circle cx="90.5" cy="29.0" r="1.75"/><circle cx="92.5" cy="30.5" r="1.75"/><circle cx="94.5" cy="32.5" r="1.75"/><circle cx="87.0" cy="31.5" r="1.75"/><circle cx="89.5" cy="31.0" r="1.75"/><circle cx="85.2" cy="33.5" r="1.75"/><circle cx="96.5" cy="34.5" r="1.75"/><circle cx="99.0" cy="36.5" r="1.75"/><circle cx="101.5" cy="38.5" r="1.75"/><circle cx="83.5" cy="37.0" r="1.75"/><circle cx="82.5" cy="40.0" r="1.75"/><circle cx="80.0" cy="44.0" r="1.75"/><circle cx="79.5" cy="46.5" r="1.75"/></g>
<polygon points="126.7,88.0 146.6,88.0 146.9,82.0 148.1,75.6 148.9,69.2 149.3,62.8 149.8,57.2 149.3,52.4 147.7,48.8 145.8,45.2 145.3,40.4 143.7,38.4 141.3,38.0 139.7,39.6 138.9,42.8 137.8,46.4 135.4,48.0 134.3,51.2 134.1,55.2 131.3,57.6 130.1,61.4 129.0,69.9 127.9,78.3" fill="#d6157a"/>
<g fill="#d6157a"><circle cx="141.3" cy="79.4" r="1.75"/><circle cx="146.3" cy="91.9" r="1.75"/><circle cx="144.7" cy="90.6" r="1.75"/><circle cx="150.6" cy="73.6" r="1.75"/><circle cx="136.9" cy="48.4" r="1.75"/><circle cx="139.0" cy="68.9" r="1.75"/><circle cx="131.4" cy="90.3" r="1.75"/><circle cx="145.4" cy="43.0" r="1.75"/><circle cx="146.3" cy="41.7" r="1.75"/><circle cx="141.1" cy="40.9" r="1.75"/><circle cx="131.7" cy="93.1" r="1.75"/><circle cx="138.9" cy="75.4" r="1.75"/><circle cx="129.2" cy="91.8" r="1.75"/><circle cx="143.3" cy="93.4" r="1.75"/><circle cx="149.1" cy="51.7" r="1.75"/><circle cx="132.0" cy="70.7" r="1.75"/><circle cx="133.1" cy="52.4" r="1.75"/><circle cx="147.0" cy="63.0" r="1.75"/><circle cx="132.4" cy="63.1" r="1.75"/><circle cx="143.7" cy="36.6" r="1.75"/><circle cx="145.0" cy="85.8" r="1.75"/><circle cx="133.9" cy="69.2" r="1.75"/><circle cx="128.5" cy="92.7" r="1.75"/><circle cx="129.0" cy="80.2" r="1.75"/><circle cx="133.3" cy="55.2" r="1.75"/><circle cx="138.5" cy="81.5" r="1.75"/><circle cx="126.4" cy="79.8" r="1.75"/><circle cx="146.3" cy="86.7" r="1.75"/><circle cx="124.4" cy="92.1" r="1.75"/><circle cx="141.0" cy="90.4" r="1.75"/><circle cx="133.1" cy="90.8" r="1.75"/><circle cx="139.1" cy="52.5" r="1.75"/><circle cx="143.2" cy="95.3" r="1.75"/><circle cx="135.0" cy="47.8" r="1.75"/><circle cx="140.5" cy="84.6" r="1.75"/><circle cx="136.5" cy="59.4" r="1.75"/><circle cx="124.9" cy="90.3" r="1.75"/><circle cx="144.4" cy="92.4" r="1.75"/><circle cx="141.5" cy="82.3" r="1.75"/><circle cx="127.6" cy="85.8" r="1.75"/><circle cx="131.8" cy="61.3" r="1.75"/><circle cx="151.5" cy="61.3" r="1.75"/><circle cx="137.4" cy="78.6" r="1.75"/><circle cx="137.1" cy="51.2" r="1.75"/><circle cx="134.2" cy="94.8" r="1.75"/><circle cx="137.7" cy="54.2" r="1.75"/><circle cx="145.9" cy="87.2" r="1.75"/><circle cx="133.7" cy="82.1" r="1.75"/><circle cx="145.7" cy="76.4" r="1.75"/><circle cx="142.5" cy="80.5" r="1.75"/><circle cx="133.8" cy="77.0" r="1.75"/><circle cx="131.4" cy="63.4" r="1.75"/><circle cx="145.5" cy="76.2" r="1.75"/><circle cx="131.8" cy="92.1" r="1.75"/><circle cx="142.1" cy="69.3" r="1.75"/><circle cx="130.5" cy="75.0" r="1.75"/><circle cx="136.7" cy="84.0" r="1.75"/><circle cx="142.0" cy="82.9" r="1.75"/><circle cx="133.4" cy="73.3" r="1.75"/><circle cx="144.6" cy="84.8" r="1.75"/><circle cx="133.4" cy="85.7" r="1.75"/><circle cx="148.4" cy="76.0" r="1.75"/><circle cx="138.3" cy="66.1" r="1.75"/><circle cx="128.1" cy="85.3" r="1.75"/><circle cx="150.4" cy="62.8" r="1.75"/><circle cx="143.3" cy="78.0" r="1.75"/><circle cx="144.4" cy="43.7" r="1.75"/><circle cx="145.9" cy="69.3" r="1.75"/><circle cx="142.5" cy="59.3" r="1.75"/><circle cx="141.3" cy="81.4" r="1.75"/><circle cx="141.7" cy="78.0" r="1.75"/><circle cx="136.0" cy="73.6" r="1.75"/><circle cx="129.6" cy="75.9" r="1.75"/><circle cx="141.5" cy="35.6" r="1.75"/><circle cx="136.9" cy="47.1" r="1.75"/><circle cx="136.7" cy="56.8" r="1.75"/><circle cx="141.0" cy="69.9" r="1.75"/><circle cx="130.2" cy="89.4" r="1.75"/><circle cx="131.3" cy="58.6" r="1.75"/><circle cx="126.6" cy="85.0" r="1.75"/><circle cx="141.0" cy="38.9" r="1.75"/><circle cx="139.1" cy="54.2" r="1.75"/><circle cx="140.1" cy="92.9" r="1.75"/><circle cx="147.0" cy="59.2" r="1.75"/><circle cx="146.8" cy="73.1" r="1.75"/><circle cx="140.5" cy="68.2" r="1.75"/><circle cx="140.9" cy="54.9" r="1.75"/><circle cx="141.1" cy="41.8" r="1.75"/><circle cx="141.5" cy="88.7" r="1.75"/><circle cx="134.2" cy="60.0" r="1.75"/><circle cx="151.4" cy="56.7" r="1.75"/><circle cx="140.5" cy="49.2" r="1.75"/><circle cx="135.3" cy="52.9" r="1.75"/><circle cx="131.6" cy="62.8" r="1.75"/><circle cx="126.8" cy="71.9" r="1.75"/><circle cx="136.1" cy="51.3" r="1.75"/><circle cx="145.9" cy="84.7" r="1.75"/><circle cx="131.2" cy="91.5" r="1.75"/><circle cx="145.9" cy="48.4" r="1.75"/><circle cx="140.9" cy="62.7" r="1.75"/><circle cx="141.9" cy="70.7" r="1.75"/><circle cx="144.8" cy="40.4" r="1.75"/><circle cx="145.3" cy="51.8" r="1.75"/><circle cx="138.7" cy="54.0" r="1.75"/><circle cx="131.9" cy="66.1" r="1.75"/><circle cx="136.7" cy="55.6" r="1.75"/><circle cx="144.8" cy="69.9" r="1.75"/><circle cx="136.5" cy="90.3" r="1.75"/><circle cx="149.0" cy="67.1" r="1.75"/><circle cx="135.7" cy="69.0" r="1.75"/><circle cx="143.8" cy="72.5" r="1.75"/><circle cx="137.2" cy="90.0" r="1.75"/><circle cx="134.4" cy="57.5" r="1.75"/><circle cx="147.9" cy="45.3" r="1.75"/><circle cx="131.9" cy="84.9" r="1.75"/><circle cx="125.2" cy="85.3" r="1.75"/><circle cx="143.4" cy="60.1" r="1.75"/><circle cx="131.6" cy="81.8" r="1.75"/><circle cx="137.1" cy="67.3" r="1.75"/><circle cx="137.7" cy="53.7" r="1.75"/><circle cx="127.7" cy="69.6" r="1.75"/><circle cx="129.9" cy="84.2" r="1.75"/><circle cx="146.2" cy="74.5" r="1.75"/><circle cx="143.6" cy="36.1" r="1.75"/><circle cx="147.6" cy="46.7" r="1.75"/><circle cx="142.0" cy="92.5" r="1.75"/><circle cx="143.9" cy="41.4" r="1.75"/><circle cx="131.8" cy="90.4" r="1.75"/><circle cx="127.6" cy="71.2" r="1.75"/><circle cx="141.3" cy="35.7" r="1.75"/><circle cx="139.9" cy="79.4" r="1.75"/><circle cx="135.8" cy="52.7" r="1.75"/><circle cx="140.6" cy="63.6" r="1.75"/><circle cx="150.4" cy="56.4" r="1.75"/><circle cx="127.7" cy="72.5" r="1.75"/><circle cx="137.9" cy="89.9" r="1.75"/><circle cx="139.3" cy="71.8" r="1.75"/><circle cx="130.9" cy="67.5" r="1.75"/><circle cx="130.6" cy="79.9" r="1.75"/><circle cx="138.2" cy="41.4" r="1.75"/><circle cx="144.6" cy="44.2" r="1.75"/><circle cx="143.9" cy="73.9" r="1.75"/><circle cx="140.5" cy="47.9" r="1.75"/><circle cx="148.6" cy="63.0" r="1.75"/><circle cx="132.6" cy="82.8" r="1.75"/><circle cx="147.0" cy="41.7" r="1.75"/><circle cx="141.4" cy="55.1" r="1.75"/><circle cx="141.0" cy="54.8" r="1.75"/><circle cx="147.3" cy="73.5" r="1.75"/><circle cx="146.6" cy="60.1" r="1.75"/><circle cx="147.9" cy="65.3" r="1.75"/><circle cx="140.4" cy="68.8" r="1.75"/><circle cx="144.7" cy="57.7" r="1.75"/><circle cx="149.0" cy="63.1" r="1.75"/><circle cx="136.9" cy="88.6" r="1.75"/><circle cx="141.2" cy="59.8" r="1.75"/><circle cx="134.1" cy="57.1" r="1.75"/><circle cx="130.1" cy="63.1" r="1.75"/><circle cx="124.2" cy="90.8" r="1.75"/><circle cx="134.0" cy="91.6" r="1.75"/><circle cx="143.2" cy="75.1" r="1.75"/><circle cx="136.9" cy="92.1" r="1.75"/><circle cx="126.7" cy="74.8" r="1.75"/><circle cx="131.7" cy="75.2" r="1.75"/><circle cx="144.4" cy="43.2" r="1.75"/><circle cx="134.9" cy="93.8" r="1.75"/><circle cx="133.8" cy="52.5" r="1.75"/><circle cx="136.8" cy="50.7" r="1.75"/><circle cx="144.5" cy="77.9" r="1.75"/><circle cx="142.7" cy="91.8" r="1.75"/><circle cx="142.0" cy="59.9" r="1.75"/><circle cx="125.1" cy="81.7" r="1.75"/><circle cx="139.1" cy="94.9" r="1.75"/><circle cx="138.3" cy="54.9" r="1.75"/><circle cx="149.3" cy="63.7" r="1.75"/><circle cx="130.7" cy="58.5" r="1.75"/><circle cx="124.4" cy="93.7" r="1.75"/><circle cx="128.5" cy="64.8" r="1.75"/><circle cx="134.9" cy="66.2" r="1.75"/><circle cx="149.9" cy="70.4" r="1.75"/><circle cx="148.1" cy="46.4" r="1.75"/><circle cx="137.4" cy="68.7" r="1.75"/><circle cx="134.2" cy="72.1" r="1.75"/><circle cx="144.3" cy="90.1" r="1.75"/><circle cx="132.2" cy="61.1" r="1.75"/><circle cx="147.2" cy="47.0" r="1.75"/><circle cx="125.8" cy="81.3" r="1.75"/><circle cx="147.0" cy="52.6" r="1.75"/><circle cx="135.7" cy="69.1" r="1.75"/><circle cx="143.5" cy="36.0" r="1.75"/><circle cx="135.5" cy="52.6" r="1.75"/><circle cx="145.0" cy="67.8" r="1.75"/><circle cx="149.2" cy="73.9" r="1.75"/><circle cx="145.3" cy="68.9" r="1.75"/><circle cx="136.1" cy="84.1" r="1.75"/><circle cx="142.2" cy="92.7" r="1.75"/><circle cx="144.3" cy="76.8" r="1.75"/><circle cx="131.0" cy="83.8" r="1.75"/><circle cx="130.9" cy="75.2" r="1.75"/><circle cx="145.4" cy="67.8" r="1.75"/><circle cx="148.1" cy="92.3" r="1.75"/><circle cx="141.0" cy="47.4" r="1.75"/><circle cx="135.7" cy="55.7" r="1.75"/><circle cx="140.2" cy="84.7" r="1.75"/><circle cx="144.3" cy="39.0" r="1.75"/><circle cx="138.6" cy="43.7" r="1.75"/><circle cx="143.8" cy="60.9" r="1.75"/><circle cx="149.7" cy="61.8" r="1.75"/><circle cx="135.8" cy="60.6" r="1.75"/><circle cx="145.5" cy="91.5" r="1.75"/><circle cx="138.7" cy="93.6" r="1.75"/><circle cx="140.5" cy="39.5" r="1.75"/><circle cx="146.8" cy="59.2" r="1.75"/><circle cx="124.8" cy="94.1" r="1.75"/><circle cx="137.2" cy="88.1" r="1.75"/><circle cx="134.6" cy="46.5" r="1.75"/><circle cx="139.6" cy="55.3" r="1.75"/><circle cx="145.0" cy="48.1" r="1.75"/><circle cx="133.5" cy="48.5" r="1.75"/><circle cx="147.9" cy="71.6" r="1.75"/><circle cx="147.3" cy="63.6" r="1.75"/><circle cx="126.2" cy="77.9" r="1.75"/><circle cx="146.3" cy="53.3" r="1.75"/><circle cx="143.0" cy="86.9" r="1.75"/><circle cx="141.3" cy="83.0" r="1.75"/><circle cx="138.1" cy="69.7" r="1.75"/><circle cx="132.3" cy="56.9" r="1.75"/><circle cx="137.1" cy="77.0" r="1.75"/><circle cx="134.8" cy="94.4" r="1.75"/><circle cx="146.9" cy="90.7" r="1.75"/><circle cx="143.3" cy="74.9" r="1.75"/><circle cx="138.8" cy="82.9" r="1.75"/><circle cx="133.8" cy="70.1" r="1.75"/><circle cx="142.9" cy="65.6" r="1.75"/><circle cx="140.1" cy="80.5" r="1.75"/><circle cx="143.9" cy="52.2" r="1.75"/><circle cx="150.2" cy="50.2" r="1.75"/><circle cx="144.0" cy="37.5" r="1.75"/><circle cx="145.1" cy="74.9" r="1.75"/><circle cx="143.2" cy="85.4" r="1.75"/><circle cx="144.6" cy="71.2" r="1.75"/><circle cx="129.3" cy="65.3" r="1.75"/><circle cx="149.2" cy="47.9" r="1.75"/><circle cx="142.2" cy="89.2" r="1.75"/><circle cx="149.6" cy="71.3" r="1.75"/><circle cx="143.2" cy="67.6" r="1.75"/><circle cx="144.0" cy="56.4" r="1.75"/><circle cx="148.9" cy="46.3" r="1.75"/><circle cx="141.3" cy="89.1" r="1.75"/><circle cx="128.1" cy="72.6" r="1.75"/><circle cx="145.5" cy="47.0" r="1.75"/><circle cx="147.3" cy="87.9" r="1.75"/><circle cx="144.3" cy="59.1" r="1.75"/><circle cx="135.6" cy="66.0" r="1.75"/><circle cx="149.4" cy="51.9" r="1.75"/><circle cx="131.4" cy="70.8" r="1.75"/><circle cx="139.6" cy="70.7" r="1.75"/><circle cx="140.5" cy="73.4" r="1.75"/><circle cx="143.2" cy="78.6" r="1.75"/><circle cx="147.4" cy="92.8" r="1.75"/><circle cx="132.5" cy="86.1" r="1.75"/><circle cx="141.9" cy="90.9" r="1.75"/><circle cx="129.9" cy="76.6" r="1.75"/><circle cx="147.6" cy="62.8" r="1.75"/><circle cx="127.7" cy="71.5" r="1.75"/><circle cx="126.3" cy="80.4" r="1.75"/><circle cx="144.6" cy="84.0" r="1.75"/><circle cx="146.5" cy="77.6" r="1.75"/><circle cx="141.4" cy="93.3" r="1.75"/><circle cx="134.1" cy="61.7" r="1.75"/><circle cx="143.0" cy="79.4" r="1.75"/><circle cx="139.0" cy="56.4" r="1.75"/><circle cx="126.7" cy="70.3" r="1.75"/><circle cx="134.1" cy="75.7" r="1.75"/><circle cx="137.6" cy="93.2" r="1.75"/><circle cx="145.3" cy="78.1" r="1.75"/><circle cx="137.1" cy="55.1" r="1.75"/><circle cx="144.6" cy="90.4" r="1.75"/><circle cx="134.3" cy="51.2" r="1.75"/><circle cx="137.7" cy="76.6" r="1.75"/><circle cx="146.1" cy="69.0" r="1.75"/><circle cx="147.8" cy="65.5" r="1.75"/><circle cx="130.2" cy="74.6" r="1.75"/><circle cx="134.5" cy="91.4" r="1.75"/><circle cx="145.4" cy="55.6" r="1.75"/><circle cx="136.5" cy="56.9" r="1.75"/><circle cx="129.6" cy="93.9" r="1.75"/><circle cx="136.1" cy="62.5" r="1.75"/><circle cx="134.6" cy="81.7" r="1.75"/><circle cx="135.9" cy="70.1" r="1.75"/><circle cx="149.4" cy="73.3" r="1.75"/><circle cx="141.7" cy="35.3" r="1.75"/><circle cx="135.2" cy="87.6" r="1.75"/><circle cx="147.2" cy="90.2" r="1.75"/><circle cx="134.2" cy="95.4" r="1.75"/><circle cx="145.2" cy="88.7" r="1.75"/><circle cx="127.6" cy="81.8" r="1.75"/><circle cx="135.5" cy="93.8" r="1.75"/><circle cx="135.5" cy="49.9" r="1.75"/><circle cx="136.9" cy="50.9" r="1.75"/><circle cx="142.6" cy="40.7" r="1.75"/><circle cx="128.2" cy="61.6" r="1.75"/><circle cx="147.2" cy="93.0" r="1.75"/><circle cx="140.6" cy="41.5" r="1.75"/><circle cx="130.1" cy="90.5" r="1.75"/><circle cx="128.6" cy="59.8" r="1.75"/><circle cx="131.0" cy="80.1" r="1.75"/><circle cx="134.1" cy="81.4" r="1.75"/><circle cx="127.7" cy="65.4" r="1.75"/><circle cx="141.9" cy="56.4" r="1.75"/><circle cx="134.0" cy="62.9" r="1.75"/><circle cx="140.1" cy="93.4" r="1.75"/><circle cx="130.3" cy="68.5" r="1.75"/><circle cx="130.9" cy="67.1" r="1.75"/><circle cx="144.4" cy="41.3" r="1.75"/><circle cx="137.2" cy="77.1" r="1.75"/><circle cx="135.4" cy="64.5" r="1.75"/><circle cx="140.9" cy="82.6" r="1.75"/><circle cx="131.9" cy="61.1" r="1.75"/><circle cx="142.2" cy="90.8" r="1.75"/><circle cx="134.0" cy="66.1" r="1.75"/><circle cx="143.9" cy="91.6" r="1.75"/><circle cx="136.3" cy="79.0" r="1.75"/><circle cx="138.6" cy="57.3" r="1.75"/><circle cx="150.0" cy="51.7" r="1.75"/><circle cx="139.2" cy="84.9" r="1.75"/><circle cx="137.6" cy="68.4" r="1.75"/><circle cx="129.3" cy="61.4" r="1.75"/><circle cx="131.3" cy="82.0" r="1.75"/><circle cx="144.7" cy="49.4" r="1.75"/><circle cx="147.3" cy="72.1" r="1.75"/><circle cx="134.5" cy="72.3" r="1.75"/><circle cx="148.6" cy="60.4" r="1.75"/><circle cx="144.7" cy="68.1" r="1.75"/><circle cx="147.1" cy="63.9" r="1.75"/><circle cx="140.3" cy="40.3" r="1.75"/><circle cx="144.1" cy="71.2" r="1.75"/><circle cx="141.0" cy="46.8" r="1.75"/><circle cx="136.6" cy="73.6" r="1.75"/><circle cx="149.1" cy="78.1" r="1.75"/><circle cx="145.1" cy="49.2" r="1.75"/><circle cx="145.2" cy="65.2" r="1.75"/><circle cx="149.4" cy="62.1" r="1.75"/><circle cx="130.9" cy="92.2" r="1.75"/><circle cx="135.6" cy="71.9" r="1.75"/><circle cx="142.1" cy="43.9" r="1.75"/><circle cx="143.2" cy="60.9" r="1.75"/><circle cx="139.9" cy="90.0" r="1.75"/><circle cx="137.6" cy="66.5" r="1.75"/><circle cx="149.3" cy="67.7" r="1.75"/><circle cx="142.4" cy="59.2" r="1.75"/><circle cx="146.0" cy="85.2" r="1.75"/><circle cx="149.0" cy="49.5" r="1.75"/><circle cx="141.5" cy="73.0" r="1.75"/><circle cx="145.5" cy="54.0" r="1.75"/><circle cx="126.3" cy="72.5" r="1.75"/><circle cx="147.7" cy="69.4" r="1.75"/><circle cx="124.7" cy="93.8" r="1.75"/><circle cx="134.4" cy="72.8" r="1.75"/><circle cx="144.2" cy="49.3" r="1.75"/><circle cx="135.1" cy="53.6" r="1.75"/><circle cx="144.0" cy="58.7" r="1.75"/><circle cx="149.2" cy="64.6" r="1.75"/><circle cx="139.6" cy="51.1" r="1.75"/><circle cx="145.5" cy="40.2" r="1.75"/><circle cx="138.8" cy="38.2" r="1.75"/><circle cx="135.9" cy="50.0" r="1.75"/><circle cx="139.2" cy="93.8" r="1.75"/><circle cx="135.7" cy="46.1" r="1.75"/><circle cx="138.2" cy="90.4" r="1.75"/><circle cx="134.3" cy="72.6" r="1.75"/><circle cx="149.9" cy="53.4" r="1.75"/><circle cx="146.7" cy="66.1" r="1.75"/><circle cx="150.4" cy="62.1" r="1.75"/><circle cx="136.1" cy="90.3" r="1.75"/><circle cx="139.9" cy="64.3" r="1.75"/><circle cx="131.5" cy="79.5" r="1.75"/><circle cx="130.7" cy="62.4" r="1.75"/><circle cx="145.2" cy="70.8" r="1.75"/><circle cx="143.4" cy="78.6" r="1.75"/><circle cx="126.3" cy="95.3" r="1.75"/><circle cx="141.2" cy="86.6" r="1.75"/><circle cx="128.0" cy="76.7" r="1.75"/><circle cx="126.8" cy="80.8" r="1.75"/><circle cx="133.0" cy="70.0" r="1.75"/><circle cx="141.8" cy="63.5" r="1.75"/><circle cx="135.4" cy="58.9" r="1.75"/><circle cx="142.2" cy="80.3" r="1.75"/><circle cx="150.6" cy="52.5" r="1.75"/><circle cx="148.0" cy="74.3" r="1.75"/><circle cx="135.5" cy="85.4" r="1.75"/><circle cx="142.8" cy="54.2" r="1.75"/><circle cx="144.5" cy="64.6" r="1.75"/><circle cx="143.9" cy="71.4" r="1.75"/><circle cx="146.3" cy="43.0" r="1.75"/><circle cx="146.2" cy="81.2" r="1.75"/><circle cx="138.8" cy="62.9" r="1.75"/><circle cx="130.2" cy="84.8" r="1.75"/><circle cx="142.1" cy="57.1" r="1.75"/><circle cx="141.9" cy="47.3" r="1.75"/><circle cx="142.3" cy="69.3" r="1.75"/><circle cx="144.8" cy="64.5" r="1.75"/><circle cx="135.9" cy="52.2" r="1.75"/><circle cx="144.6" cy="56.3" r="1.75"/><circle cx="140.5" cy="80.4" r="1.75"/><circle cx="136.1" cy="75.9" r="1.75"/><circle cx="145.4" cy="39.6" r="1.75"/><circle cx="136.5" cy="60.4" r="1.75"/><circle cx="146.5" cy="62.8" r="1.75"/><circle cx="146.3" cy="81.0" r="1.75"/><circle cx="141.3" cy="85.2" r="1.75"/><circle cx="141.0" cy="77.8" r="1.75"/><circle cx="147.9" cy="71.6" r="1.75"/><circle cx="132.0" cy="78.5" r="1.75"/><circle cx="143.2" cy="46.6" r="1.75"/><circle cx="134.9" cy="61.2" r="1.75"/><circle cx="136.5" cy="81.0" r="1.75"/><circle cx="143.3" cy="86.8" r="1.75"/><circle cx="143.0" cy="80.7" r="1.75"/><circle cx="146.2" cy="59.0" r="1.75"/><circle cx="142.4" cy="74.1" r="1.75"/><circle cx="148.8" cy="77.6" r="1.75"/><circle cx="136.1" cy="44.9" r="1.75"/><circle cx="143.0" cy="81.1" r="1.75"/><circle cx="128.9" cy="66.3" r="1.75"/><circle cx="147.6" cy="55.9" r="1.75"/><circle cx="139.2" cy="92.9" r="1.75"/><circle cx="147.4" cy="53.4" r="1.75"/><circle cx="145.2" cy="62.9" r="1.75"/><circle cx="146.5" cy="61.2" r="1.75"/><circle cx="149.9" cy="71.0" r="1.75"/><circle cx="138.8" cy="43.7" r="1.75"/><circle cx="135.6" cy="60.5" r="1.75"/><circle cx="147.1" cy="47.4" r="1.75"/><circle cx="131.8" cy="84.0" r="1.75"/><circle cx="129.6" cy="74.6" r="1.75"/><circle cx="140.5" cy="38.9" r="1.75"/><circle cx="144.4" cy="58.5" r="1.75"/><circle cx="132.6" cy="86.5" r="1.75"/><circle cx="145.8" cy="52.3" r="1.75"/><circle cx="142.9" cy="40.7" r="1.75"/><circle cx="141.8" cy="90.3" r="1.75"/><circle cx="141.7" cy="35.5" r="1.75"/><circle cx="138.1" cy="62.3" r="1.75"/><circle cx="131.3" cy="61.1" r="1.75"/><circle cx="150.2" cy="51.2" r="1.75"/><circle cx="143.0" cy="61.9" r="1.75"/><circle cx="126.1" cy="86.9" r="1.75"/><circle cx="132.8" cy="75.9" r="1.75"/><circle cx="136.4" cy="87.5" r="1.75"/><circle cx="147.1" cy="64.4" r="1.75"/><circle cx="133.3" cy="64.7" r="1.75"/><circle cx="147.7" cy="68.6" r="1.75"/><circle cx="136.3" cy="74.1" r="1.75"/><circle cx="141.1" cy="58.3" r="1.75"/><circle cx="136.0" cy="87.9" r="1.75"/><circle cx="132.1" cy="55.8" r="1.75"/><circle cx="140.7" cy="69.9" r="1.75"/><circle cx="128.4" cy="60.9" r="1.75"/><circle cx="144.5" cy="35.6" r="1.75"/><circle cx="126.4" cy="80.2" r="1.75"/><circle cx="131.5" cy="74.0" r="1.75"/><circle cx="143.3" cy="64.9" r="1.75"/><circle cx="148.0" cy="85.6" r="1.75"/><circle cx="141.2" cy="86.0" r="1.75"/><circle cx="128.4" cy="62.7" r="1.75"/><circle cx="132.5" cy="72.1" r="1.75"/><circle cx="126.5" cy="88.3" r="1.75"/><circle cx="134.0" cy="82.0" r="1.75"/><circle cx="134.6" cy="86.6" r="1.75"/><circle cx="144.9" cy="78.5" r="1.75"/><circle cx="136.5" cy="50.4" r="1.75"/><circle cx="150.2" cy="58.1" r="1.75"/><circle cx="130.7" cy="71.7" r="1.75"/><circle cx="135.9" cy="71.3" r="1.75"/><circle cx="136.4" cy="50.9" r="1.75"/><circle cx="142.3" cy="48.2" r="1.75"/><circle cx="137.7" cy="69.3" r="1.75"/><circle cx="137.9" cy="89.3" r="1.75"/><circle cx="145.8" cy="52.2" r="1.75"/></g>
<g fill="#d6157a"><circle cx="140.5" cy="31.0" r="1.75"/><circle cx="142.8" cy="30.5" r="1.75"/><circle cx="145.0" cy="31.5" r="1.75"/><circle cx="139.0" cy="33.0" r="1.75"/><circle cx="147.5" cy="34.0" r="1.75"/><circle cx="148.5" cy="37.5" r="1.75"/><circle cx="149.5" cy="41.0" r="1.75"/><circle cx="151.0" cy="44.5" r="1.75"/><circle cx="153.0" cy="48.0" r="1.75"/><circle cx="135.5" cy="44.0" r="1.75"/><circle cx="133.0" cy="47.0" r="1.75"/><circle cx="130.5" cy="51.0" r="1.75"/><circle cx="129.5" cy="54.0" r="1.75"/></g>
<g fill="#d6157a"><circle cx="148.5" cy="18.5" r="1.75"/><circle cx="152.4" cy="22.4" r="1.75"/><circle cx="136.1" cy="28.2" r="1.75"/><circle cx="154.7" cy="38.5" r="1.75"/><circle cx="159.6" cy="35.8" r="1.75"/><circle cx="165.5" cy="39.8" r="1.75"/><circle cx="168.5" cy="44.1" r="1.75"/><circle cx="162.9" cy="49.0" r="1.75"/><circle cx="163.9" cy="54.0" r="1.75"/><circle cx="157.6" cy="43.7" r="1.75"/><circle cx="157.6" cy="49.7" r="1.75"/><circle cx="156.9" cy="55.6" r="1.75"/><circle cx="160.2" cy="58.9" r="1.75"/><circle cx="164.8" cy="64.6" r="1.75"/><circle cx="169.2" cy="65.9" r="1.75"/><circle cx="172.1" cy="59.6" r="1.75"/><circle cx="163.5" cy="70.8" r="1.75"/><circle cx="161.5" cy="74.1" r="1.75"/><circle cx="162.2" cy="76.1" r="1.75"/><circle cx="163.5" cy="80.7" r="1.75"/><circle cx="161.5" cy="86.0" r="1.75"/><circle cx="162.2" cy="89.3" r="1.75"/><circle cx="167.5" cy="88.6" r="1.75"/><circle cx="167.9" cy="91.2" r="1.75"/><circle cx="157.6" cy="64.9" r="1.75"/><circle cx="155.6" cy="70.1" r="1.75"/><circle cx="154.9" cy="84.6" r="1.75"/><circle cx="149.7" cy="80.7" r="1.75"/><circle cx="157.6" cy="47.0" r="1.75"/><circle cx="153.6" cy="51.7" r="1.75"/><circle cx="174.2" cy="54.5" r="1.75"/><circle cx="173.0" cy="60.4" r="1.75"/><circle cx="182.5" cy="63.4" r="1.75"/><circle cx="180.5" cy="69.3" r="1.75"/><circle cx="173.6" cy="86.1" r="1.75"/><circle cx="148.5" cy="92.6" r="1.75"/><circle cx="162.2" cy="89.7" r="1.75"/><circle cx="150.8" cy="84.2" r="1.75"/><circle cx="154.8" cy="72.3" r="1.75"/><circle cx="156.8" cy="59.4" r="1.75"/><circle cx="142.5" cy="29.5" r="1.75"/><circle cx="144.0" cy="27.0" r="1.75"/><circle cx="146.0" cy="30.0" r="1.75"/><circle cx="150.0" cy="36.0" r="1.75"/><circle cx="151.5" cy="40.0" r="1.75"/><circle cx="153.0" cy="44.5" r="1.75"/><circle cx="156.0" cy="40.5" r="1.75"/><circle cx="158.5" cy="39.0" r="1.75"/><circle cx="155.5" cy="62.0" r="1.75"/><circle cx="157.0" cy="75.0" r="1.75"/><circle cx="152.5" cy="88.0" r="1.75"/><circle cx="150.5" cy="92.0" r="1.75"/><circle cx="146.5" cy="92.5" r="1.75"/></g>
</g>
<line x1="118.75" y1="7.40" x2="118.75" y2="122.60" stroke="#b5312f" stroke-width="0.9" stroke-dasharray="3.6,2.6"/>
<line x1="40.60" y1="95.50" x2="189.60" y2="95.50" stroke="#b5312f" stroke-width="0.9" stroke-dasharray="3.6,2.6"/>
</g>
<rect x="40.60" y="7.40" width="149.00" height="115.20" fill="none" stroke="#555" stroke-width="1.1" />
<line x1="38.40" y1="117.70" x2="40.60" y2="117.70" stroke="#333" stroke-width="0.8" />
<text x="37.30" y="121.00" font-size="10.4" text-anchor="end" fill="#4d4d4d" >0</text>
<line x1="38.40" y1="83.10" x2="40.60" y2="83.10" stroke="#333" stroke-width="0.8" />
<text x="37.30" y="86.40" font-size="10.4" text-anchor="end" fill="#4d4d4d" >2</text>
<line x1="38.40" y1="48.50" x2="40.60" y2="48.50" stroke="#333" stroke-width="0.8" />
<text x="37.30" y="51.80" font-size="10.4" text-anchor="end" fill="#4d4d4d" >4</text>
<line x1="38.40" y1="13.90" x2="40.60" y2="13.90" stroke="#333" stroke-width="0.8" />
<text x="37.30" y="17.20" font-size="10.4" text-anchor="end" fill="#4d4d4d" >6</text>
<line x1="45.55" y1="122.60" x2="45.55" y2="124.80" stroke="#333" stroke-width="0.8" />
<text x="45.55" y="134.00" font-size="10.4" text-anchor="middle" fill="#4d4d4d" >−2</text>
<line x1="82.15" y1="122.60" x2="82.15" y2="124.80" stroke="#333" stroke-width="0.8" />
<text x="82.15" y="134.00" font-size="10.4" text-anchor="middle" fill="#4d4d4d" >−1</text>
<line x1="118.75" y1="122.60" x2="118.75" y2="124.80" stroke="#333" stroke-width="0.8" />
<text x="118.75" y="134.00" font-size="10.4" text-anchor="middle" fill="#4d4d4d" >0</text>
<line x1="155.35" y1="122.60" x2="155.35" y2="124.80" stroke="#333" stroke-width="0.8" />
<text x="155.35" y="134.00" font-size="10.4" text-anchor="middle" fill="#4d4d4d" >1</text>
<text x="111.20" y="146.80" font-size="12.0" text-anchor="middle" fill="#000" >log2(FC)</text>
<text transform="translate(25.20,69.50) rotate(-90)" font-size="12.4" text-anchor="middle" fill="#000" >-log10(Pvalue)</text>
<line x1="453.80" y1="178.40" x2="453.80" y2="331.90" stroke="#000" stroke-width="0.8" />
<line x1="451.20" y1="178.40" x2="453.80" y2="178.40" stroke="#000" stroke-width="0.8" />
<text transform="translate(447.90,176.90) rotate(-90)" font-size="9.6" text-anchor="middle" fill="#000" >1.0</text>
<line x1="451.20" y1="213.24" x2="453.80" y2="213.24" stroke="#000" stroke-width="0.8" />
<text transform="translate(447.90,211.74) rotate(-90)" font-size="9.6" text-anchor="middle" fill="#000" >0.8</text>
<line x1="451.20" y1="248.08" x2="453.80" y2="248.08" stroke="#000" stroke-width="0.8" />
<text transform="translate(447.90,246.58) rotate(-90)" font-size="9.6" text-anchor="middle" fill="#000" >0.6</text>
<line x1="451.20" y1="282.92" x2="453.80" y2="282.92" stroke="#000" stroke-width="0.8" />
<text transform="translate(447.90,281.42) rotate(-90)" font-size="9.6" text-anchor="middle" fill="#000" >0.4</text>
<line x1="451.20" y1="317.76" x2="453.80" y2="317.76" stroke="#000" stroke-width="0.8" />
<text transform="translate(447.90,316.26) rotate(-90)" font-size="9.6" text-anchor="middle" fill="#000" >0.2</text>
<text x="397.60" y="350.90" font-size="10.4" text-anchor="start" fill="#000" >Module colors</text>
<path d="M472.30 190.36V331M478.43 199.28V331M484.56 203.74V331M490.68 203.74V331M496.81 199.28V331M502.94 199.28V331M509.07 199.28V331M515.20 203.74V331M521.32 203.74V331M527.45 194.82V331M533.58 199.28V331M539.71 203.74V331M545.84 203.74V331M551.96 212.66V331M558.09 221.58V331M564.22 194.82V331M570.35 199.28V331M576.48 203.74V331M582.60 239.42V331M588.73 239.42V331M594.86 239.42V331M600.99 203.74V331M607.12 208.20V331M613.24 212.66V331M619.37 226.04V331M625.50 252.80V331M631.63 208.20V331M637.76 203.74V331M643.88 199.28V331M650.01 203.74V331M656.14 203.74V331M662.27 199.28V331M668.40 199.28V331M674.52 203.74V331M680.65 203.74V331M686.78 203.74V331M692.91 203.74V331M699.04 203.74V331M705.16 199.28V331M711.29 208.20V331M717.42 199.28V331M723.55 203.74V331M729.68 203.74V331M735.80 203.74V331M741.93 212.66V331M748.06 208.20V331M754.19 217.12V331M760.32 208.20V331M766.44 217.12V331M772.57 221.58V331" stroke="#a0a0a0" stroke-width="0.8" stroke-dasharray="0.9,3.56" fill="none"/>
<polygon points="466.0,179.5 467.0,179.5 468.0,179.5 469.0,179.5 470.0,179.5 471.0,179.5 472.0,179.5 473.0,179.5 474.0,179.5 475.0,179.5 476.0,179.5 476.0,182.8 475.0,183.8 474.0,184.9 473.0,184.8 472.0,186.1 471.0,185.9 470.0,182.8 469.0,183.8 468.0,184.2 467.0,184.1 466.0,181.1" fill="#000" fill-opacity="0.88"/>
<polygon points="476.0,179.0 477.0,179.0 478.0,179.0 479.0,179.0 480.0,179.0 481.0,179.0 482.0,179.0 483.0,179.0 484.0,179.1 485.0,179.1 486.0,179.1 487.0,179.1 488.0,179.1 489.0,179.1 490.0,179.1 491.0,179.1 492.0,179.1 493.0,179.1 494.0,179.1 495.0,179.1 496.0,179.1 497.0,179.1 498.0,179.2 499.0,179.2 500.0,179.2 501.0,179.2 502.0,179.2 503.0,179.2 504.0,179.2 505.0,179.2 505.0,189.5 504.0,187.0 503.0,190.3 502.0,186.4 501.0,187.3 500.0,189.0 499.0,188.5 498.0,189.7 497.0,189.3 496.0,191.9 495.0,188.0 494.0,191.6 493.0,188.6 492.0,189.9 491.0,193.1 490.0,189.1 489.0,191.3 488.0,190.7 487.0,189.0 486.0,191.6 485.0,192.7 484.0,191.7 483.0,192.8 482.0,187.7 481.0,188.3 480.0,187.8 479.0,190.2 478.0,186.2 477.0,188.3 476.0,186.9" fill="#000" fill-opacity="0.88"/>
<polygon points="505.0,180.0 506.0,180.1 507.0,180.1 508.0,180.2 509.0,180.2 510.0,180.2 511.0,180.3 512.0,180.3 513.0,180.4 514.0,180.4 515.0,180.5 516.0,180.6 517.0,180.6 518.0,180.7 519.0,180.7 520.0,180.8 521.0,180.8 522.0,180.8 523.0,180.9 524.0,180.9 525.0,181.0 525.0,189.0 524.0,189.1 523.0,191.4 522.0,194.9 521.0,192.3 520.0,193.1 519.0,192.5 518.0,192.5 517.0,194.6 516.0,194.6 515.0,190.8 514.0,193.6 513.0,191.5 512.0,189.4 511.0,192.1 510.0,191.0 509.0,191.4 508.0,190.8 507.0,191.0 506.0,190.9 505.0,186.5" fill="#000" fill-opacity="0.88"/>
<polygon points="525.0,181.0 526.0,181.3 527.0,181.7 528.0,182.1 529.0,182.4 530.0,182.8 531.0,183.1 532.0,183.4 533.0,183.8 534.0,184.2 535.0,184.5 536.0,185.0 537.0,185.5 538.0,186.0 539.0,186.5 540.0,187.0 541.0,187.5 542.0,188.0 543.0,189.4 544.0,190.8 545.0,192.2 546.0,193.5 547.0,194.9 548.0,196.3 549.0,197.8 550.0,199.5 551.0,201.1 552.0,202.7 553.0,204.4 554.0,206.0 555.0,207.9 556.0,209.8 557.0,211.6 558.0,213.5 559.0,215.4 560.0,217.2 561.0,219.1 562.0,221.0 562.0,226.5 561.0,221.2 560.0,220.1 559.0,222.1 558.0,216.8 557.0,215.4 556.0,213.8 555.0,213.9 554.0,210.5 553.0,210.5 552.0,208.9 551.0,204.3 550.0,205.4 549.0,203.4 548.0,201.0 547.0,199.9 546.0,197.1 545.0,198.0 544.0,197.5 543.0,193.0 542.0,192.5 541.0,193.3 540.0,194.5 539.0,192.9 538.0,195.4 537.0,192.2 536.0,191.0 535.0,190.7 534.0,192.3 533.0,191.4 532.0,191.1 531.0,188.6 530.0,190.6 529.0,189.0 528.0,188.0 527.0,187.3 526.0,189.1 525.0,187.1" fill="#000" fill-opacity="0.88"/>
<polygon points="562.3,179.0 563.3,179.2 564.3,179.4 565.3,179.6 566.3,179.8 567.3,180.0 568.3,180.2 569.3,180.4 570.3,180.9 571.3,182.3 572.3,183.7 573.3,185.0 574.3,186.7 575.3,188.9 576.3,191.1 577.3,193.3 578.3,195.6 578.3,199.8 577.3,200.6 576.3,195.6 575.3,195.3 574.3,195.2 573.3,195.3 572.3,193.9 571.3,190.2 570.3,187.9 569.3,187.8 568.3,188.5 567.3,187.4 566.3,186.8 565.3,185.1 564.3,188.3 563.3,185.8 562.3,186.6" fill="#000" fill-opacity="0.88"/>
<polygon points="600.0,181.0 601.0,181.1 602.0,181.2 603.0,181.4 604.0,181.5 605.0,181.6 606.0,181.8 607.0,181.9 608.0,182.0 609.0,183.0 610.0,184.0 611.0,185.0 612.0,186.0 613.0,188.0 614.0,190.0 615.0,192.0 616.0,194.0 617.0,196.0 618.0,199.2 619.0,202.4 620.0,205.6 621.0,208.8 622.0,212.0 623.0,217.0 624.0,222.0 625.0,227.0 626.0,232.0 627.0,240.0 628.0,248.0 629.0,256.0 629.0,258.5 628.0,252.5 627.0,246.3 626.0,240.2 625.0,239.5 624.0,235.3 623.0,228.0 622.0,222.8 621.0,221.1 620.0,219.1 619.0,214.7 618.0,211.1 617.0,205.4 616.0,207.8 615.0,204.2 614.0,198.6 613.0,200.6 612.0,196.4 611.0,196.4 610.0,194.0 609.0,196.3 608.0,194.6 607.0,193.9 606.0,194.8 605.0,196.2 604.0,195.3 603.0,195.1 602.0,191.5 601.0,190.1 600.0,193.1" fill="#000" fill-opacity="0.88"/>
<polygon points="630.5,180.0 631.5,180.0 632.5,180.0 633.5,180.1 634.5,180.1 635.5,180.1 636.5,180.1 637.5,180.2 638.5,180.2 639.5,180.2 640.5,180.2 641.5,180.2 642.5,180.3 643.5,180.3 644.5,180.3 645.5,180.3 646.5,180.3 647.5,180.4 648.5,180.4 649.5,180.4 650.5,180.4 651.5,180.5 652.5,180.5 653.5,180.5 654.5,180.5 655.5,180.5 656.5,180.6 657.5,180.6 658.5,180.6 659.5,180.6 660.5,180.6 661.5,180.7 662.5,180.7 663.5,180.7 664.5,180.7 665.5,180.8 666.5,180.8 667.5,180.8 668.5,180.8 669.5,180.8 670.5,180.9 671.5,180.9 672.5,180.9 673.5,180.9 674.5,180.9 675.5,181.0 676.5,181.0 677.5,181.0 678.5,181.0 679.5,181.1 680.5,181.1 681.5,181.1 682.5,181.1 683.5,181.1 684.5,181.2 685.5,181.2 686.5,181.2 687.5,181.2 688.5,181.3 689.5,181.3 690.5,181.3 691.5,181.3 692.5,181.3 693.5,181.4 694.5,181.4 695.5,181.4 696.5,181.4 697.5,181.4 698.5,181.5 699.5,181.5 699.5,194.2 698.5,193.3 697.5,190.7 696.5,191.3 695.5,189.1 694.5,189.9 693.5,191.0 692.5,191.1 691.5,191.9 690.5,191.8 689.5,192.8 688.5,189.4 687.5,192.2 686.5,191.1 685.5,192.5 684.5,192.8 683.5,189.4 682.5,189.7 681.5,190.1 680.5,194.9 679.5,191.6 678.5,191.6 677.5,194.6 676.5,193.7 675.5,189.9 674.5,192.2 673.5,191.8 672.5,192.5 671.5,190.3 670.5,193.4 669.5,191.9 668.5,190.5 667.5,190.7 666.5,187.8 665.5,191.8 664.5,189.7 663.5,189.5 662.5,188.6 661.5,191.7 660.5,188.8 659.5,189.5 658.5,188.3 657.5,190.1 656.5,192.5 655.5,190.8 654.5,193.2 653.5,190.2 652.5,192.8 651.5,189.0 650.5,190.7 649.5,188.1 648.5,191.7 647.5,191.3 646.5,191.5 645.5,190.4 644.5,187.0 643.5,189.8 642.5,190.9 641.5,189.6 640.5,188.9 639.5,189.1 638.5,189.7 637.5,191.5 636.5,191.0 635.5,192.4 634.5,190.6 633.5,193.4 632.5,194.7 631.5,190.9 630.5,191.8" fill="#000" fill-opacity="0.88"/>
<polygon points="700.0,183.0 701.0,183.0 702.0,183.0 703.0,183.0 704.0,183.0 705.0,183.0 705.0,195.2 704.0,193.9 703.0,192.9 702.0,191.7 701.0,192.3 700.0,193.1" fill="#000" fill-opacity="0.88"/>
<polygon points="705.0,183.5 706.0,183.8 707.0,184.1 708.0,184.4 709.0,184.7 710.0,185.0 711.0,186.2 712.0,187.5 713.0,188.8 714.0,190.0 715.0,193.2 716.0,196.4 717.0,199.0 717.0,207.4 716.0,205.6 715.0,204.1 714.0,200.8 713.0,199.9 712.0,197.9 711.0,197.3 710.0,196.5 709.0,194.7 708.0,192.8 707.0,191.8 706.0,189.0 705.0,192.6" fill="#000" fill-opacity="0.88"/>
<polygon points="717.0,184.5 718.0,184.8 719.0,185.0 720.0,185.2 721.0,185.5 722.0,185.8 723.0,186.0 724.0,186.2 725.0,186.5 726.0,187.2 727.0,187.9 728.0,188.6 729.0,189.3 730.0,190.0 731.0,192.5 732.0,195.0 733.0,197.0 733.0,200.2 732.0,200.7 731.0,196.8 730.0,194.9 729.0,197.4 728.0,194.7 727.0,195.2 726.0,194.2 725.0,193.5 724.0,191.5 723.0,195.9 722.0,195.4 721.0,194.2 720.0,192.7 719.0,191.1 718.0,193.3 717.0,189.5" fill="#000" fill-opacity="0.88"/>
<polygon points="733.0,188.0 734.0,188.3 735.0,188.7 736.0,189.0 737.0,189.3 738.0,189.7 739.0,190.0 740.0,191.1 741.0,192.3 742.0,193.4 743.0,195.5 744.0,198.6 745.0,201.0 745.0,206.7 744.0,203.2 743.0,202.7 742.0,205.5 741.0,200.7 740.0,201.5 739.0,200.0 738.0,197.5 737.0,195.9 736.0,197.4 735.0,197.7 734.0,192.5 733.0,193.3" fill="#000" fill-opacity="0.88"/>
<polygon points="745.0,188.5 746.0,188.8 747.0,189.2 748.0,189.5 749.0,189.8 750.0,190.2 751.0,190.5 752.0,191.8 753.0,193.1 754.0,194.4 755.0,196.7 756.0,200.2 757.0,203.0 757.0,208.4 756.0,206.1 755.0,205.0 754.0,205.6 753.0,204.2 752.0,202.9 751.0,203.7 750.0,199.9 749.0,198.3 748.0,198.7 747.0,195.6 746.0,196.8 745.0,193.0" fill="#000" fill-opacity="0.88"/>
<polygon points="757.5,191.5 758.5,191.7 759.5,192.0 760.5,192.2 761.5,192.4 762.5,192.7 763.5,192.9 764.5,193.5 765.5,194.5 766.5,195.5 767.5,196.5 768.5,197.6 769.5,198.8 770.5,200.0 771.5,201.0 771.5,209.7 770.5,206.4 769.5,206.7 768.5,208.2 767.5,206.9 766.5,203.3 765.5,204.6 764.5,200.9 763.5,203.2 762.5,203.4 761.5,201.8 760.5,196.9 759.5,200.6 758.5,195.7 757.5,195.1" fill="#000" fill-opacity="0.88"/>
<path d="M470.51 319.00V323.00M471.00 319.00V323.00M470.51 319.00H471.00M496.69 301.80V305.80M497.10 301.80V305.80M496.69 301.80H497.10M474.10 278.80V282.80M474.59 278.80V282.80M474.10 278.80H474.59M492.04 276.50V280.50M492.39 276.50V280.50M492.04 276.50H492.39M628.59 266.20V270.20M629.06 266.20V270.20M628.59 266.20H629.06M478.21 262.70V266.70M478.61 262.70V266.70M478.21 262.70H478.61M603.40 258.10V262.10M603.87 258.10V262.10M603.40 258.10H603.87M627.47 251.50V255.50M627.91 251.50V255.50M627.47 251.50H627.91M627.69 250.10V251.50M628.25 250.10V254.10M627.69 250.10H628.25M494.93 248.00V252.00M495.43 248.00V252.00M494.93 248.00H495.43M655.56 247.60V251.60M655.90 247.60V251.60M655.56 247.60H655.90M666.96 247.60V251.60M667.45 247.60V251.60M666.96 247.60H667.45M487.39 245.50V249.50M487.90 245.50V249.50M487.39 245.50H487.90M624.06 244.00V248.00M624.48 244.00V248.00M624.06 244.00H624.48M627.02 242.74V246.74M627.97 242.74V250.10M627.02 242.74H627.97M626.10 242.00V246.00M626.53 242.00V246.00M626.10 242.00H626.53M627.50 240.20V242.74M628.82 240.20V266.20M627.50 240.20H628.82M629.46 240.20V244.20M628.16 240.20H629.46M624.82 240.19V244.19M625.22 240.19V244.19M624.82 240.19H625.22M607.61 238.60V242.60M608.03 238.60V242.60M607.61 238.60H608.03M625.02 237.04V240.19M625.69 237.04V241.04M625.02 237.04H625.69M621.96 235.54V239.54M622.37 235.54V239.54M621.96 235.54H622.37M618.72 235.00V239.00M619.10 235.00V239.00M618.72 235.00H619.10M532.59 232.70V236.70M532.99 232.70V236.70M532.59 232.70H532.99M469.16 232.00V236.00M469.57 232.00V236.00M469.16 232.00H469.57M623.11 228.69V232.69M623.60 228.69V232.69M623.11 228.69H623.60M669.53 227.50V231.50M669.96 227.50V231.50M669.53 227.50H669.96M633.93 226.90V230.90M634.39 226.90V230.90M633.93 226.90H634.39M622.72 226.62V230.62M623.36 226.62V228.69M622.72 226.62H623.36M620.33 226.15V230.15M620.68 226.15V230.15M620.33 226.15H620.68M561.50 225.69V229.69M561.99 225.69V229.69M561.50 225.69H561.99M518.44 225.20V229.20M518.86 225.20V229.20M518.44 225.20H518.86M560.40 223.61V227.61M560.80 223.61V227.61M560.40 223.61H560.80M620.50 223.49V226.15M621.05 223.49V227.49M620.50 223.49H621.05M559.48 223.41V227.41M559.98 223.41V227.41M559.48 223.41H559.98M559.05 223.28V227.28M559.73 223.28V223.41M559.05 223.28H559.73M652.14 222.90V226.90M652.64 222.90V226.90M652.14 222.90H652.64M561.15 222.61V226.61M561.74 222.61V225.69M561.15 222.61H561.74M560.60 222.55V223.61M561.45 222.55V222.61M560.60 222.55H561.45M619.51 222.34V226.34M619.91 222.34V226.34M619.51 222.34H619.91M631.84 222.30V226.30M632.30 222.30V226.30M631.84 222.30H632.30M484.17 222.00V226.00M484.66 222.00V226.00M484.17 222.00H484.66M559.39 221.88V223.28M561.02 221.88V222.55M559.39 221.88H561.02M558.30 221.70V225.70M558.71 221.70V225.70M558.30 221.70H558.71M573.51 220.00V224.00M573.91 220.00V224.00M573.51 220.00H573.91M558.50 219.99V221.70M560.21 219.99V221.88M558.50 219.99H560.21M557.49 219.85V223.85M557.84 219.85V223.85M557.49 219.85H557.84M557.66 219.26V219.85M559.36 219.26V219.99M557.66 219.26H559.36M537.44 218.80V222.80M537.85 218.80V222.80M537.44 218.80H537.85M622.17 218.04V235.54M623.04 218.04V226.62M622.17 218.04H623.04M624.27 218.00V244.00M622.60 218.00H624.27M625.36 218.00V237.04M623.43 218.00H625.36M624.40 216.00V218.00M626.32 216.00V242.00M624.40 216.00H626.32M628.81 216.00V240.20M625.36 216.00H628.81M557.15 215.77V219.77M558.51 215.77V219.26M557.15 215.77H558.51M556.24 215.65V219.65M556.65 215.65V219.65M556.24 215.65H556.65M522.71 215.30V219.30M523.12 215.30V219.30M522.71 215.30H523.12M680.22 215.30V219.30M680.64 215.30V219.30M680.22 215.30H680.64M555.80 215.25V219.25M556.45 215.25V215.65M555.80 215.25H556.45M769.73 214.94V218.94M770.07 214.94V218.94M769.73 214.94H770.07M619.71 214.93V222.34M620.78 214.93V223.49M619.71 214.93H620.78M755.83 214.71V218.71M756.17 214.71V218.71M755.83 214.71H756.17M554.48 214.71V218.71M554.86 214.71V218.71M554.48 214.71H554.86M621.55 214.59V218.59M627.08 214.59V216.00M621.55 214.59H627.08M616.71 214.37V218.37M617.18 214.37V218.37M616.71 214.37H617.18M644.58 214.20V218.20M644.94 214.20V218.20M644.58 214.20H644.94M767.65 214.16V218.16M768.09 214.16V218.16M767.65 214.16H768.09M616.31 212.12V216.12M616.94 212.12V214.37M616.31 212.12H616.94M617.98 212.05V216.05M618.38 212.05V216.05M617.98 212.05H618.38M554.12 211.99V215.99M554.67 211.99V214.71M554.12 211.99H554.67M556.12 211.46V215.25M557.83 211.46V215.77M556.12 211.46H557.83M770.83 211.44V215.44M771.28 211.44V215.44M770.83 211.44H771.28M620.24 211.29V214.93M624.32 211.29V214.59M620.24 211.29H624.32M766.78 211.10V215.10M767.20 211.10V215.10M766.78 211.10H767.20M615.07 210.70V214.70M615.47 210.70V214.70M615.07 210.70H615.47M715.25 210.67V214.67M715.67 210.67V214.67M715.25 210.67H715.67M749.13 210.45V214.45M749.62 210.45V214.45M749.13 210.45H749.62M555.31 210.43V214.43M556.98 210.43V211.46M555.31 210.43H556.98M743.28 210.34V214.34M743.70 210.34V214.34M743.28 210.34H743.70M769.90 210.25V214.94M770.44 210.25V214.25M769.90 210.25H770.44M507.96 210.10V214.10M508.34 210.10V214.10M507.96 210.10H508.34M615.27 209.95V210.70M615.96 209.95V213.95M615.27 209.95H615.96M762.55 209.89V213.89M762.93 209.89V213.89M762.55 209.89H762.93M750.99 209.82V213.82M751.43 209.82V213.82M750.99 209.82H751.43M739.58 209.67V213.67M740.07 209.67V213.67M739.58 209.67H740.07M511.79 209.60V213.60M512.14 209.60V213.60M511.79 209.60H512.14M765.86 209.47V213.47M766.35 209.47V213.47M765.86 209.47H766.35M755.11 209.39V213.39M755.49 209.39V213.39M755.11 209.39H755.49M756.00 209.21V214.71M756.62 209.21V213.21M756.00 209.21H756.62M612.64 209.02V213.02M612.99 209.02V213.02M612.64 209.02H612.99M618.91 209.00V235.00M622.28 209.00V211.29M618.91 209.00H622.28M767.87 208.94V214.16M768.50 208.94V212.94M767.87 208.94H768.50M554.39 208.83V211.99M556.14 208.83V210.43M554.39 208.83H556.14M751.21 208.67V209.82M751.87 208.67V212.67M751.21 208.67H751.87M552.40 208.57V212.57M552.82 208.57V212.57M552.40 208.57H552.82M567.87 208.40V212.40M568.36 208.40V212.40M567.87 208.40H568.36M764.23 208.37V212.37M764.62 208.37V212.37M764.23 208.37H764.62M553.66 208.34V212.34M555.27 208.34V208.83M553.66 208.34H555.27M742.93 208.16V212.16M743.49 208.16V210.34M742.93 208.16H743.49M770.17 208.06V210.25M771.06 208.06V211.44M770.17 208.06H771.06M613.72 208.04V212.04M614.14 208.04V212.04M613.72 208.04H614.14M477.32 208.00V212.00M477.82 208.00V212.00M477.32 208.00H477.82M613.93 207.95V208.04M614.64 207.95V211.95M613.93 207.95H614.64M762.05 207.94V211.94M762.74 207.94V209.89M762.05 207.94H762.74M764.99 207.82V211.82M765.42 207.82V211.82M764.99 207.82H765.42M714.91 207.72V211.72M715.46 207.72V210.67M714.91 207.72H715.46M744.48 207.71V211.71M744.96 207.71V211.71M744.48 207.71H744.96M769.33 207.70V211.70M770.61 207.70V208.06M769.33 207.70H770.61M742.55 207.67V211.67M743.21 207.67V208.16M742.55 207.67H743.21M552.61 207.65V208.57M553.20 207.65V211.65M552.61 207.65H553.20M716.40 207.37V211.37M716.78 207.37V211.37M716.40 207.37H716.78M712.86 207.32V211.32M713.27 207.32V211.32M712.86 207.32H713.27M744.07 207.08V211.08M744.72 207.08V207.71M744.07 207.08H744.72M741.75 207.06V211.06M742.18 207.06V211.06M741.75 207.06H742.18M606.34 207.03V211.03M606.83 207.03V211.03M606.34 207.03H606.83M482.10 207.00V211.00M482.45 207.00V211.00M482.10 207.00H482.45M532.13 206.70V210.70M532.79 206.70V232.70M532.13 206.70H532.79M751.54 206.57V208.67M752.34 206.57V210.57M751.54 206.57H752.34M618.18 206.33V212.05M620.59 206.33V209.00M618.18 206.33H620.59M549.28 206.10V210.10M549.65 206.10V210.10M549.28 206.10H549.65M528.20 206.10V210.10M528.56 206.10V210.10M528.20 206.10H528.56M571.47 206.10V210.10M571.84 206.10V210.10M571.47 206.10H571.84M657.25 206.10V210.10M657.70 206.10V210.10M657.25 206.10H657.70M753.16 206.07V210.07M753.57 206.07V210.07M753.16 206.07H753.57M550.71 206.06V210.06M551.12 206.06V210.06M550.71 206.06H551.12M760.71 205.61V209.61M761.15 205.61V209.61M760.71 205.61H761.15M713.06 205.60V207.32M713.70 205.60V209.60M713.06 205.60H713.70M552.91 205.57V207.65M554.46 205.57V208.34M552.91 205.57H554.46M549.47 205.41V206.10M549.99 205.41V209.41M549.47 205.41H549.99M741.97 205.35V207.06M742.88 205.35V207.67M741.97 205.35H742.88M760.00 205.28V209.28M760.38 205.28V209.28M760.00 205.28H760.38M635.16 205.27V209.27M635.49 205.27V209.27M635.16 205.27H635.49M762.40 205.20V207.94M763.39 205.20V209.20M762.40 205.20H763.39M761.62 205.07V209.07M762.89 205.07V205.20M761.62 205.07H762.89M688.08 205.00V209.00M688.44 205.00V209.00M688.08 205.00H688.44M549.73 204.71V205.41M550.37 204.71V208.71M549.73 204.71H550.37M760.93 204.65V205.61M762.26 204.65V205.07M760.93 204.65H762.26M611.07 204.60V208.60M611.41 204.60V208.60M611.07 204.60H611.41M739.83 204.53V209.67M740.52 204.53V208.53M739.83 204.53H740.52M716.06 204.50V208.50M716.59 204.50V207.37M716.06 204.50H716.59M521.41 204.26V208.26M521.82 204.26V208.26M521.41 204.26H521.82M750.50 204.14V208.14M751.94 204.14V206.57M750.50 204.14H751.94M728.96 204.07V208.07M729.35 204.07V208.07M728.96 204.07H729.35M552.01 204.06V208.06M553.68 204.06V205.57M552.01 204.06H553.68M739.09 203.99V207.99M740.17 203.99V204.53M739.09 203.99H740.17M519.67 203.96V207.96M520.08 203.96V207.96M519.67 203.96H520.08M738.29 203.93V207.93M738.75 203.93V207.93M738.29 203.93H738.75M754.72 203.89V207.89M755.30 203.89V209.39M754.72 203.89H755.30M690.46 203.72V207.72M690.80 203.72V207.72M690.46 203.72H690.80M745.82 203.67V207.67M746.21 203.67V207.67M745.82 203.67H746.21M748.71 203.50V207.50M749.38 203.50V210.45M748.71 203.50H749.38M551.62 203.37V207.37M552.85 203.37V204.06M551.62 203.37H552.85M550.92 203.25V206.06M552.23 203.25V203.37M550.92 203.25H552.23M601.19 203.02V207.02M601.64 203.02V207.02M601.19 203.02H601.64M692.91 202.73V206.73M693.35 202.73V206.73M692.91 202.73H693.35M523.96 202.63V206.63M524.35 202.63V206.63M523.96 202.63H524.35M760.19 202.63V205.28M761.59 202.63V204.65M760.19 202.63H761.59M611.82 202.60V206.60M612.19 202.60V206.60M611.82 202.60H612.19M677.27 202.60V206.60M677.63 202.60V206.60M677.27 202.60H677.63M754.27 202.53V206.53M755.01 202.53V203.89M754.27 202.53H755.01M739.63 202.50V203.99M740.86 202.50V206.50M739.63 202.50H740.86M548.01 202.47V206.47M548.46 202.47V206.47M548.01 202.47H548.46M615.61 202.36V209.95M616.63 202.36V212.12M615.61 202.36H616.63M754.64 202.36V202.53M756.31 202.36V209.21M754.64 202.36H756.31M608.48 202.33V206.33M608.95 202.33V206.33M608.48 202.33H608.95M759.09 202.28V206.28M759.54 202.28V206.28M759.09 202.28H759.54M613.37 202.24V206.24M614.29 202.24V207.95M613.37 202.24H614.29M486.23 202.02V206.02M486.58 202.02V206.02M486.23 202.02H486.58M610.64 202.00V206.00M611.24 202.00V204.60M610.64 202.00H611.24M753.93 201.86V205.86M755.48 201.86V202.36M753.93 201.86H755.48M736.99 201.77V205.77M737.48 201.77V205.77M736.99 201.77H737.48M547.62 201.75V205.75M548.23 201.75V202.47M547.62 201.75H548.23M746.01 201.75V203.67M746.60 201.75V205.75M746.01 201.75H746.60M520.96 201.63V205.63M521.61 201.63V204.26M520.96 201.63H521.61M703.89 201.50V205.50M704.36 201.50V205.50M703.89 201.50H704.36M603.63 201.47V258.10M604.32 201.47V205.47M603.63 201.47H604.32M737.23 201.45V201.77M737.91 201.45V205.45M737.23 201.45H737.91M607.23 201.43V205.43M607.82 201.43V238.60M607.23 201.43H607.82M729.16 201.35V204.07M729.77 201.35V205.35M729.16 201.35H729.77M577.35 201.30V205.30M577.77 201.30V205.30M577.35 201.30H577.77M672.03 201.27V205.27M672.46 201.27V205.27M672.03 201.27H672.46M550.05 201.14V204.71M551.57 201.14V203.25M550.05 201.14H551.57M633.57 200.90V204.90M634.16 200.90V226.90M633.57 200.90H634.16M603.98 200.89V201.47M604.71 200.89V204.89M603.98 200.89H604.71M633.09 200.85V204.85M633.86 200.85V200.90M633.09 200.85H633.86M652.99 200.85V204.85M653.46 200.85V204.85M652.99 200.85H653.46M759.32 200.83V202.28M760.89 200.83V202.63M759.32 200.83H760.89M605.48 200.81V204.81M605.88 200.81V204.81M605.48 200.81H605.88M633.48 200.79V200.85M634.77 200.79V204.79M633.48 200.79H634.77M711.20 200.73V204.73M711.62 200.73V204.73M711.20 200.73H711.62M510.03 200.70V204.70M510.44 200.70V204.70M510.03 200.70H510.44M701.36 200.60V204.60M701.79 200.60V204.60M701.36 200.60H701.79M637.28 200.53V204.53M637.64 200.53V204.53M637.28 200.53H637.64M546.33 200.45V204.45M546.82 200.45V204.45M546.33 200.45H546.82M640.01 200.44V204.44M640.36 200.44V204.44M640.01 200.44H640.36M709.55 200.44V204.44M709.99 200.44V204.44M709.55 200.44H709.99M768.18 200.44V208.94M768.88 200.44V204.44M768.18 200.44H768.88M539.34 200.42V204.42M539.74 200.42V204.42M539.34 200.42H539.74M733.45 200.35V204.35M733.84 200.35V204.35M733.45 200.35H733.84M638.89 200.30V204.30M639.26 200.30V204.30M638.89 200.30H639.26M713.38 200.26V205.60M714.07 200.26V204.26M713.38 200.26H714.07M647.53 200.20V204.20M647.93 200.20V204.20M647.53 200.20H647.93M513.81 200.16V204.16M514.20 200.16V204.16M513.81 200.16H514.20M736.29 200.03V204.03M736.64 200.03V204.03M736.29 200.03H736.64M512.60 200.01V204.01M512.99 200.01V204.01M512.60 200.01H512.99M750.03 199.94V203.94M751.22 199.94V204.14M750.03 199.94H751.22M752.79 199.94V203.94M753.37 199.94V206.07M752.79 199.94H753.37M729.47 199.93V201.35M730.12 199.93V203.93M729.47 199.93H730.12M758.72 199.85V203.85M760.10 199.85V200.83M758.72 199.85H760.10M735.88 199.85V203.85M736.47 199.85V200.03M735.88 199.85H736.47M548.92 199.84V203.84M550.81 199.84V201.14M548.92 199.84H550.81M750.63 199.83V199.94M753.08 199.83V199.94M750.63 199.83H753.08M540.62 199.70V203.70M540.98 199.70V203.70M540.62 199.70H540.98M695.13 199.69V203.69M695.52 199.69V203.69M695.13 199.69H695.52M707.83 199.58V203.58M708.26 199.58V203.58M707.83 199.58H708.26M731.74 199.58V203.58M732.22 199.58V203.58M731.74 199.58H732.22M706.56 199.55V203.55M707.02 199.55V203.55M706.56 199.55H707.02M757.90 199.51V203.51M758.26 199.51V203.51M757.90 199.51H758.26M748.26 199.51V203.51M749.04 199.51V203.50M748.26 199.51H749.04M721.35 199.39V203.39M721.84 199.39V203.39M721.35 199.39H721.84M640.76 199.30V203.30M641.20 199.30V203.30M640.76 199.30H641.20M503.07 199.20V203.20M503.47 199.20V203.20M503.07 199.20H503.47M683.91 199.20V203.20M684.36 199.20V203.20M683.91 199.20H684.36M742.42 199.20V205.35M744.39 199.20V207.08M742.42 199.20H744.39M601.42 199.16V203.02M602.06 199.16V203.16M601.42 199.16H602.06M510.23 199.09V200.70M510.89 199.09V203.09M510.23 199.09H510.89M514.62 199.08V203.08M515.03 199.08V203.08M514.62 199.08H515.03M576.14 199.07V203.07M576.54 199.07V203.07M576.14 199.07H576.54M656.40 199.07V203.07M656.80 199.07V203.07M656.40 199.07H656.80M617.52 199.06V203.06M619.39 199.06V206.33M617.52 199.06H619.39M501.05 199.00V203.00M501.51 199.00V203.00M501.05 199.00H501.51M575.21 198.96V202.96M575.70 198.96V202.96M575.21 198.96H575.70M600.36 198.96V202.96M600.79 198.96V202.96M600.36 198.96H600.79M759.41 198.95V199.85M763.80 198.95V202.95M759.41 198.95H763.80M501.92 198.94V202.94M502.31 198.94V202.94M501.92 198.94H502.31M616.12 198.93V202.36M618.45 198.93V199.06M616.12 198.93H618.45M604.34 198.89V200.89M605.06 198.89V202.89M604.34 198.89H605.06M768.53 198.84V200.44M769.97 198.84V207.70M768.53 198.84H769.97M488.26 198.81V202.81M488.60 198.81V202.81M488.26 198.81H488.60M700.00 198.71V202.71M700.42 198.71V202.71M700.00 198.71H700.42M545.91 198.70V202.70M546.57 198.70V200.45M545.91 198.70H546.57M725.45 198.65V202.65M725.91 198.65V202.65M725.45 198.65H725.91M642.37 198.64V202.64M642.79 198.64V202.64M642.37 198.64H642.79M489.53 198.62V202.62M489.93 198.62V202.62M489.53 198.62H489.93M674.65 198.49V202.49M675.05 198.49V202.49M674.65 198.49H675.05M725.68 198.48V198.65M726.41 198.48V202.48M725.68 198.48H726.41M576.89 198.45V202.45M577.56 198.45V201.30M576.89 198.45H577.56M574.72 198.34V202.34M575.45 198.34V198.96M574.72 198.34H575.45M687.16 198.32V202.32M687.60 198.32V202.32M687.16 198.32H687.60M699.40 198.30V202.30M699.73 198.30V202.30M699.40 198.30H699.73M518.65 198.28V225.20M519.20 198.28V202.28M518.65 198.28H519.20M727.24 198.26V202.26M727.69 198.26V202.26M727.24 198.26H727.69M740.25 198.23V202.50M741.27 198.23V202.23M740.25 198.23H741.27M609.39 198.21V202.21M609.77 198.21V202.21M609.39 198.21H609.77M494.11 198.20V202.20M494.47 198.20V202.20M494.11 198.20H494.47M575.09 198.03V198.34M576.34 198.03V199.07M575.09 198.03H576.34M740.76 198.02V198.23M743.41 198.02V199.20M740.76 198.02H743.41M515.43 198.02V202.02M515.89 198.02V202.02M515.43 198.02H515.89M542.11 197.99V201.99M542.49 197.99V201.99M542.11 197.99H542.49M542.87 197.96V201.96M542.30 197.96H542.87M491.22 197.87V201.87M491.63 197.87V201.87M491.22 197.87H491.63M766.10 197.83V209.47M766.99 197.83V211.10M766.10 197.83H766.99M766.55 197.76V197.83M769.25 197.76V198.84M766.55 197.76H769.25M532.46 197.76V206.70M533.34 197.76V201.76M532.46 197.76H533.34M683.18 197.75V201.75M683.54 197.75V201.75M683.18 197.75H683.54M547.18 197.67V201.67M547.93 197.67V201.75M547.18 197.67H547.93M549.86 197.62V199.84M547.55 197.62H549.86M720.12 197.61V201.61M720.59 197.61V201.61M720.12 197.61H720.59M757.50 197.57V201.57M758.08 197.57V199.51M757.50 197.57H758.08M765.21 197.54V207.82M767.90 197.54V197.76M765.21 197.54H767.90M738.52 197.50V203.93M742.08 197.50V198.02M738.52 197.50H742.08M735.02 197.50V201.50M735.40 197.50V201.50M735.02 197.50H735.40M724.08 197.47V201.47M724.53 197.47V201.47M724.08 197.47H724.53M721.59 197.43V199.39M722.33 197.43V201.43M721.59 197.43H722.33M494.29 197.42V198.20M495.18 197.42V248.00M494.29 197.42H495.18M655.13 197.41V201.41M655.73 197.41V247.60M655.13 197.41H655.73M714.42 197.34V201.34M715.19 197.34V207.72M714.42 197.34H715.19M544.12 197.33V201.33M544.52 197.33V201.33M544.12 197.33H544.52M730.48 197.30V201.30M730.98 197.30V201.30M730.48 197.30H730.98M546.24 197.28V198.70M548.71 197.28V197.62M546.24 197.28H548.71M711.41 197.23V200.73M712.06 197.23V201.23M711.41 197.23H712.06M538.61 197.22V201.22M538.98 197.22V201.22M538.61 197.22H538.98M662.52 197.18V201.18M662.99 197.18V201.18M662.52 197.18H662.99M698.94 197.14V201.14M699.56 197.14V198.30M698.94 197.14H699.56M757.79 197.07V197.57M761.61 197.07V198.95M757.79 197.07H761.61M604.70 197.04V198.89M605.68 197.04V200.81M604.70 197.04H605.68M682.28 196.96V200.96M682.74 196.96V200.96M682.28 196.96H682.74M563.48 196.90V200.90M563.94 196.90V200.90M563.48 196.90H563.94M652.39 196.90V222.90M653.23 196.90V200.85M652.39 196.90H653.23M543.63 196.90V200.90M544.32 196.90V197.33M543.63 196.90H544.32M759.70 196.89V197.07M764.42 196.89V208.37M759.70 196.89H764.42M698.03 196.87V200.87M698.48 196.87V200.87M698.03 196.87H698.48M577.23 196.86V198.45M578.23 196.86V200.86M577.23 196.86H578.23M499.24 196.84V200.84M499.72 196.84V200.84M499.24 196.84H499.72M636.87 196.81V200.81M637.46 196.81V200.53M636.87 196.81H637.46M600.00 196.80V200.80M600.57 196.80V198.96M600.00 196.80H600.57M712.50 196.78V200.78M713.73 196.78V200.26M712.50 196.78H713.73M601.74 196.75V199.16M600.29 196.75H601.74M649.26 196.72V200.72M649.62 196.72V200.72M649.26 196.72H649.62M490.31 196.66V200.66M490.75 196.66V200.66M490.31 196.66H490.75M713.11 196.59V196.78M714.81 196.59V197.34M713.11 196.59H714.81M713.96 196.53V196.59M716.32 196.53V204.50M713.96 196.53H716.32M540.14 196.53V200.53M540.80 196.53V199.70M540.14 196.53H540.80M735.21 196.46V197.50M736.17 196.46V199.85M735.21 196.46H736.17M485.09 196.40V200.40M485.48 196.40V200.40M485.09 196.40H485.48M729.79 196.33V199.93M730.73 196.33V197.30M729.79 196.33H730.73M731.36 196.32V200.32M730.26 196.32H731.36M724.97 196.29V200.29M726.04 196.29V198.48M724.97 196.29H726.04M640.98 196.29V199.30M641.65 196.29V200.29M640.98 196.29H641.65M504.47 196.26V200.26M504.91 196.26V200.26M504.47 196.26H504.91M748.65 196.23V199.51M751.85 196.23V199.83M748.65 196.23H751.85M696.77 196.15V200.15M697.17 196.15V200.15M696.77 196.15H697.17M514.00 196.14V200.16M514.83 196.14V199.08M514.00 196.14H514.83M664.65 196.10V200.10M665.03 196.10V200.10M664.65 196.10H665.03M607.52 196.10V201.43M608.72 196.10V202.33M607.52 196.10H608.72M541.75 196.08V200.08M542.58 196.08V197.96M541.75 196.08H542.58M671.65 196.08V200.08M672.25 196.08V201.27M671.65 196.08H672.25M535.76 196.06V200.06M536.10 196.06V200.06M535.76 196.06H536.10M746.99 196.04V200.04M747.42 196.04V200.04M746.99 196.04H747.42M731.98 196.02V199.58M732.59 196.02V200.02M731.98 196.02H732.59M540.47 196.02V196.53M541.36 196.02V200.02M540.47 196.02H541.36M483.78 196.00V200.00M484.41 196.00V222.00M483.78 196.00H484.41M509.20 195.92V199.92M509.59 195.92V199.92M509.20 195.92H509.59M693.13 195.88V202.73M693.77 195.88V199.88M693.13 195.88H693.77M630.50 195.87V199.87M630.91 195.87V199.87M630.50 195.87H630.91M648.40 195.85V199.85M648.88 195.85V199.85M648.40 195.85H648.88M669.18 195.75V199.75M669.75 195.75V227.50M669.18 195.75H669.75M612.81 195.72V209.02M613.83 195.72V202.24M612.81 195.72H613.83M691.62 195.69V199.69M692.08 195.69V199.69M691.62 195.69H692.08M476.37 195.66V199.66M476.83 195.66V199.66M476.37 195.66H476.83M762.06 195.65V196.89M766.55 195.65V197.54M762.06 195.65H766.55M684.82 195.65V199.65M685.17 195.65V199.65M684.82 195.65H685.17M569.75 195.61V199.61M570.19 195.61V199.61M569.75 195.61H570.19M545.46 195.51V199.51M547.47 195.51V197.28M545.46 195.51H547.47M745.37 195.50V199.50M746.31 195.50V201.75M745.37 195.50H746.31M665.37 195.37V199.37M665.80 195.37V199.37M665.37 195.37H665.80M668.71 195.35V199.35M669.46 195.35V195.75M668.71 195.35H669.46M632.65 195.22V199.22M634.12 195.22V200.79M632.65 195.22H634.12M651.70 195.22V199.22M652.81 195.22V196.90M651.70 195.22H652.81M664.25 195.22V199.22M664.84 195.22V196.10M664.25 195.22H664.84M572.34 195.19V199.19M572.77 195.19V199.19M572.34 195.19H572.77M490.53 195.18V196.66M491.43 195.18V197.87M490.53 195.18H491.43M750.25 195.17V196.23M754.70 195.17V201.86M750.25 195.17H754.70M575.71 195.17V198.03M577.73 195.17V196.86M575.71 195.17H577.73M660.04 195.14V199.14M660.44 195.14V199.14M660.04 195.14H660.44M653.85 195.12V199.12M654.21 195.12V199.12M653.85 195.12H654.21M538.26 195.12V199.12M538.79 195.12V197.22M538.26 195.12H538.79M719.15 195.09V199.09M719.65 195.09V199.09M719.15 195.09H719.65M512.80 195.01V200.01M513.42 195.01V199.01M512.80 195.01H513.42M718.70 194.85V198.85M719.40 194.85V195.09M718.70 194.85H719.40M496.89 194.84V301.80M497.46 194.84V198.84M496.89 194.84H497.46M708.73 194.84V198.84M709.12 194.84V198.84M708.73 194.84H709.12M572.56 194.79V195.19M573.17 194.79V198.79M572.56 194.79H573.17M608.12 194.78V196.10M609.58 194.78V198.21M608.12 194.78H609.58M694.25 194.78V198.78M694.74 194.78V198.78M694.25 194.78H694.74M569.97 194.75V195.61M570.56 194.75V198.75M569.97 194.75H570.56M531.69 194.74V198.74M532.90 194.74V197.76M531.69 194.74H532.90M667.95 194.72V198.72M668.36 194.72V198.72M667.95 194.72H668.36M745.00 194.72V198.72M745.84 194.72V195.50M745.00 194.72H745.84M672.96 194.66V198.66M673.37 194.66V198.66M672.96 194.66H673.37M733.00 194.65V198.65M733.65 194.65V200.35M733.00 194.65H733.65M717.84 194.64V198.64M718.26 194.64V198.64M717.84 194.64H718.26M724.30 194.59V197.47M725.51 194.59V196.29M724.30 194.59H725.51M696.00 194.55V198.55M696.36 194.55V198.55M696.00 194.55H696.36M706.21 194.48V198.48M706.79 194.48V199.55M706.21 194.48H706.79M730.81 194.45V196.32M732.29 194.45V196.02M730.81 194.45H732.29M574.28 194.44V198.44M576.72 194.44V195.17M574.28 194.44H576.72M650.39 194.43V198.43M650.88 194.43V198.43M650.39 194.43H650.88M710.82 194.43V198.43M711.73 194.43V197.23M710.82 194.43H711.73M566.47 194.40V198.40M566.93 194.40V198.40M566.47 194.40H566.93M705.37 194.39V198.39M705.78 194.39V198.39M705.37 194.39H705.78M692.47 194.30V198.30M693.45 194.30V195.88M692.47 194.30H693.45M534.88 194.26V198.26M535.30 194.26V198.26M534.88 194.26H535.30M700.21 194.24V198.71M700.89 194.24V198.24M700.21 194.24H700.89M506.24 194.22V198.22M506.62 194.22V198.22M506.24 194.22H506.62M659.23 194.22V198.22M659.58 194.22V198.22M659.23 194.22H659.58M483.28 194.21V198.21M484.09 194.21V196.00M483.28 194.21H484.09M518.93 194.19V198.28M519.87 194.19V203.96M518.93 194.19H519.87M529.95 194.03V198.03M530.36 194.03V198.03M529.95 194.03H530.36M572.87 194.00V194.79M573.71 194.00V220.00M572.87 194.00H573.71M575.50 194.00V194.44M573.29 194.00H575.50M489.73 193.98V198.62M490.98 193.98V195.18M489.73 193.98H490.98M660.92 193.94V197.94M661.27 193.94V197.94M660.92 193.94H661.27M727.47 193.92V198.26M728.12 193.92V197.92M727.47 193.92H728.12M534.05 193.89V197.89M534.40 193.89V197.89M534.05 193.89H534.40M728.47 193.88V197.88M731.55 193.88V194.45M728.47 193.88H731.55M666.18 193.86V197.86M666.54 193.86V197.86M666.18 193.86H666.54M686.40 193.79V197.79M686.75 193.79V197.79M686.40 193.79H686.75M726.83 193.78V197.78M727.79 193.78V193.92M726.83 193.78H727.79M538.53 193.77V195.12M539.54 193.77V200.42M538.53 193.77H539.54M702.97 193.76V197.76M703.41 193.76V197.76M702.97 193.76H703.41M694.50 193.75V194.78M695.32 193.75V199.69M694.50 193.75H695.32M533.68 193.65V197.65M534.23 193.65V193.89M533.68 193.65H534.23M524.16 193.62V202.63M524.82 193.62V197.62M524.16 193.62H524.82M526.96 193.61V197.61M527.40 193.61V197.61M526.96 193.61H527.40M737.57 193.57V201.45M740.30 193.57V197.50M737.57 193.57H740.30M718.05 193.44V194.64M719.05 193.44V194.85M718.05 193.44H719.05M717.00 193.30V197.30M717.48 193.30V197.30M717.00 193.30H717.48M497.94 193.30V197.30M498.32 193.30V197.30M497.94 193.30H498.32M632.07 193.26V222.30M633.39 193.26V195.22M632.07 193.26H633.39M705.00 193.25V197.25M705.57 193.25V194.39M705.00 193.25H705.57M668.15 193.24V194.72M669.09 193.24V195.35M668.15 193.24H669.09M658.08 193.20V197.20M658.49 193.20V197.20M658.08 193.20H658.49M545.01 193.19V197.19M546.47 193.19V195.51M545.01 193.19H546.47M531.26 193.16V197.16M532.30 193.16V194.74M531.26 193.16H532.30M570.26 193.11V194.75M570.98 193.11V197.11M570.26 193.11H570.98M692.96 193.02V194.30M694.91 193.02V193.75M692.96 193.02H694.91M640.18 193.01V200.44M641.32 193.01V196.29M640.18 193.01H641.32M650.63 192.99V194.43M651.26 192.99V196.99M650.63 192.99H651.26M676.37 192.94V196.94M676.85 192.94V196.94M676.37 192.94H676.85M667.21 192.86V247.60M668.62 192.86V193.24M667.21 192.86H668.62M540.92 192.72V196.02M542.16 192.72V196.08M540.92 192.72H542.16M708.93 192.53V194.84M709.77 192.53V200.44M708.93 192.53H709.77M679.29 192.42V196.42M679.78 192.42V196.42M679.29 192.42H679.78M637.16 192.38V196.81M638.01 192.38V196.38M637.16 192.38H638.01M543.29 192.36V196.36M543.97 192.36V196.90M543.29 192.36H543.97M498.13 192.34V193.30M498.74 192.34V196.34M498.13 192.34H498.74M696.18 192.32V194.55M696.97 192.32V196.15M696.18 192.32H696.97M747.84 192.30V196.30M752.48 192.30V195.17M747.84 192.30H752.48M494.74 192.28V197.42M495.87 192.28V196.28M494.74 192.28H495.87M631.36 192.27V196.27M632.73 192.27V193.26M631.36 192.27H632.73M658.88 192.25V196.25M659.41 192.25V194.22M658.88 192.25H659.41M643.65 192.22V196.22M644.09 192.22V196.22M643.65 192.22H644.09M543.63 192.17V192.36M545.74 192.17V193.19M543.63 192.17H545.74M733.32 192.16V194.65M734.22 192.16V196.16M733.32 192.16H734.22M564.40 192.09V196.09M564.79 192.09V196.09M564.40 192.09H564.79M505.81 192.08V196.08M506.43 192.08V194.22M505.81 192.08H506.43M495.30 192.07V192.28M496.34 192.07V196.07M495.30 192.07H496.34M640.75 192.07V193.01M642.01 192.07V196.07M640.75 192.07H642.01M660.24 191.96V195.14M661.10 191.96V193.94M660.24 191.96H661.10M613.32 191.83V195.72M617.29 191.83V198.93M613.32 191.83H617.29M485.86 191.81V195.81M486.41 191.81V202.02M485.86 191.81H486.41M537.64 191.71V218.80M539.03 191.71V193.77M537.64 191.71H539.03M527.18 191.60V193.61M527.80 191.60V195.60M527.18 191.60H527.80M658.29 191.59V193.20M659.14 191.59V192.25M658.29 191.59H659.14M727.31 191.55V193.78M730.01 191.55V193.88M727.31 191.55H730.01M745.42 191.55V194.72M747.20 191.55V196.04M745.42 191.55H747.20M646.16 191.47V195.47M646.65 191.47V195.47M646.16 191.47H646.65M510.56 191.30V199.09M511.32 191.30V195.30M510.56 191.30H511.32M721.96 191.25V197.43M722.80 191.25V195.25M721.96 191.25H722.80M475.42 191.22V195.22M475.89 191.22V195.22M475.42 191.22H475.89M610.16 191.20V195.20M610.94 191.20V202.00M610.16 191.20H610.94M537.00 191.14V195.14M538.34 191.14V191.71M537.00 191.14H538.34M734.61 191.05V195.05M735.69 191.05V196.46M734.61 191.05H735.69M635.95 191.00V195.00M636.38 191.00V195.00M635.95 191.00H636.38M541.54 190.86V192.72M544.68 190.86V192.17M541.54 190.86H544.68M663.47 190.86V194.86M663.89 190.86V194.86M663.47 190.86H663.89M485.28 190.84V196.40M486.13 190.84V191.81M485.28 190.84H486.13M686.57 190.78V193.79M687.38 190.78V198.32M686.57 190.78H687.38M636.17 190.71V191.00M637.59 190.71V192.38M636.17 190.71H637.59M509.40 190.61V195.92M510.94 190.61V191.30M509.40 190.61H510.94M649.44 190.59V196.72M650.00 190.59V194.59M649.44 190.59H650.00M733.77 190.58V192.16M735.15 190.58V191.05M733.77 190.58H735.15M485.71 190.53V190.84M486.94 190.53V194.53M485.71 190.53H486.94M649.72 190.51V190.59M650.95 190.51V192.99M649.72 190.51H650.95M650.33 190.44V190.51M652.25 190.44V195.22M650.33 190.44H652.25M746.31 190.41V191.55M750.16 190.41V192.30M746.31 190.41H750.16M533.95 190.38V193.65M535.09 190.38V194.26M533.95 190.38H535.09M748.24 190.30V190.41M764.31 190.30V195.65M748.24 190.30H764.31M723.65 190.25V194.25M724.91 190.25V194.59M723.65 190.25H724.91M479.03 190.24V194.24M479.50 190.24V194.24M479.03 190.24H479.50M514.41 190.23V196.14M515.66 190.23V198.02M514.41 190.23H515.66M675.49 190.17V194.17M675.98 190.17V194.17M675.49 190.17H675.98M711.28 190.16V194.43M715.14 190.16V196.53M711.28 190.16H715.14M673.74 190.14V194.14M674.16 190.14V194.14M673.74 190.14H674.16M705.29 190.14V193.25M706.50 190.14V194.48M705.29 190.14H706.50M569.29 190.08V194.08M570.62 190.08V193.11M569.29 190.08H570.62M526.20 190.02V194.02M526.57 190.02V194.02M526.20 190.02H526.57M647.73 190.01V200.20M648.64 190.01V195.85M647.73 190.01H648.64M710.43 189.96V193.96M713.21 189.96V190.16M710.43 189.96H713.21M708.04 189.85V199.58M709.35 189.85V192.53M708.04 189.85H709.35M564.59 189.85V192.09M565.28 189.85V193.85M564.59 189.85H565.28M489.10 189.75V193.75M490.36 189.75V193.98M489.10 189.75H490.36M486.32 189.69V190.53M487.64 189.69V245.50M486.32 189.69H487.64M517.05 189.65V193.65M517.46 189.65V193.65M517.05 189.65H517.46M734.46 189.46V190.58M738.94 189.46V193.57M734.46 189.46H738.94M707.42 189.41V193.41M708.70 189.41V189.85M707.42 189.41H708.70M522.91 189.30V215.30M523.59 189.30V193.30M522.91 189.30H523.59M679.54 189.30V192.42M680.43 189.30V215.30M679.54 189.30H680.43M663.68 189.15V190.86M664.54 189.15V195.22M663.68 189.15H664.54M530.84 189.08V193.08M531.78 189.08V193.16M530.84 189.08H531.78M608.85 188.89V194.78M610.55 188.89V191.20M608.85 188.89H610.55M708.06 188.88V189.41M711.82 188.88V189.96M708.06 188.88H711.82M489.73 188.81V189.75M492.21 188.81V276.50M489.73 188.81H492.21M724.28 188.70V190.25M728.66 188.70V191.55M724.28 188.70H728.66M722.38 188.70V191.25M723.19 188.70V192.70M722.38 188.70H723.19M471.35 188.57V192.57M471.77 188.57V192.57M471.35 188.57H471.77M526.38 188.57V190.02M527.49 188.57V191.60M526.38 188.57H527.49M516.67 188.56V192.56M517.25 188.56V189.65M516.67 188.56H517.25M664.11 188.47V189.15M665.58 188.47V195.37M664.11 188.47H665.58M568.81 188.47V192.47M569.96 188.47V190.08M568.81 188.47H569.96M642.58 188.46V198.64M643.24 188.46V192.46M642.58 188.46H643.24M468.82 188.45V192.45M469.36 188.45V232.00M468.82 188.45H469.36M479.85 188.33V192.33M480.31 188.33V192.33M479.85 188.33H480.31M644.76 188.20V214.20M645.32 188.20V192.20M644.76 188.20H645.32M642.91 188.20V188.46M643.87 188.20V192.22M642.91 188.20H643.87M530.15 188.18V194.03M531.31 188.18V189.08M530.15 188.18H531.31M505.00 188.09V192.09M505.47 188.09V192.09M505.00 188.09H505.47M536.51 188.03V192.03M537.67 188.03V191.14M536.51 188.03H537.67M662.02 187.95V191.95M662.75 187.95V197.18M662.02 187.95H662.75M497.18 187.80V194.84M498.43 187.80V192.34M497.18 187.80H498.43M537.09 187.76V188.03M543.11 187.76V190.86M537.09 187.76H543.11M497.81 187.74V187.80M499.48 187.74V196.84M497.81 187.74H499.48M529.03 187.73V191.73M529.48 187.73V191.73M529.03 187.73H529.48M525.36 187.66V191.66M525.80 187.66V191.66M525.36 187.66H525.80M720.94 187.60V191.60M722.78 187.60V188.70M720.94 187.60H722.78M736.70 187.60V189.46M756.27 187.60V190.30M736.70 187.60H756.27M658.72 187.25V191.59M660.67 187.25V191.96M658.72 187.25H660.67M717.24 187.07V193.30M718.55 187.07V193.44M717.24 187.07H718.55M673.16 187.04V194.66M673.95 187.04V190.14M673.16 187.04H673.95M720.36 187.03V197.61M717.89 187.03H720.36M686.03 187.02V191.02M686.98 187.02V190.78M686.03 187.02H686.98M726.47 187.00V188.70M746.48 187.00V187.60M726.47 187.00H746.48M641.38 186.93V192.07M643.39 186.93V188.20M641.38 186.93H643.39M670.81 186.74V190.74M671.24 186.74V190.74M670.81 186.74H671.24M673.56 186.71V187.04M674.85 186.71V198.49M673.56 186.71H674.85M685.67 186.70V190.70M686.50 186.70V187.02M685.67 186.70H686.50M530.73 186.60V188.18M534.52 186.60V190.38M530.73 186.60H534.52M475.05 186.48V190.48M475.65 186.48V191.22M475.05 186.48H475.65M630.71 186.48V195.87M632.04 186.48V192.27M630.71 186.48H632.04M466.44 186.45V190.45M466.90 186.45V190.45M466.44 186.45H466.90M473.72 186.44V190.44M474.34 186.44V278.80M473.72 186.44H474.34M705.89 186.35V190.14M709.94 186.35V188.88M705.89 186.35H709.94M721.86 186.31V187.60M736.48 186.31V187.00M721.86 186.31H736.48M696.57 186.28V192.32M697.67 186.28V190.28M696.57 186.28H697.67M636.88 186.18V190.71M638.39 186.18V190.18M636.88 186.18H638.39M719.13 186.14V187.03M729.17 186.14V186.31M719.13 186.14H729.17M682.51 186.10V196.96M683.36 186.10V197.75M682.51 186.10H683.36M701.57 186.08V200.60M702.18 186.08V190.08M701.57 186.08H702.18M681.86 185.88V189.88M682.93 185.88V186.10M681.86 185.88H682.93M506.12 185.83V192.08M507.11 185.83V189.83M506.12 185.83H507.11M535.93 185.75V196.06M540.10 185.75V187.76M535.93 185.75H540.10M664.85 185.72V188.47M666.36 185.72V193.86M664.85 185.72H666.36M467.87 185.64V189.64M468.33 185.64V189.64M467.87 185.64H468.33M654.65 185.53V189.53M655.43 185.53V197.41M654.65 185.53H655.43M648.18 185.41V190.01M651.29 185.41V190.44M648.18 185.41H651.29M481.26 185.36V189.36M481.61 185.36V189.36M481.26 185.36H481.61M565.66 185.35V189.35M566.12 185.35V189.35M565.66 185.35H566.12M700.55 185.24V194.24M701.88 185.24V186.08M700.55 185.24H701.88M603.05 185.21V189.21M605.19 185.21V197.04M603.05 185.21H605.19M671.95 185.19V196.08M674.20 185.19V186.71M671.95 185.19H674.20M681.02 185.12V189.12M681.48 185.12V189.12M681.02 185.12H681.48M521.29 185.11V201.63M522.31 185.11V189.11M521.29 185.11H522.31M701.21 185.10V185.24M702.58 185.10V189.10M701.21 185.10H702.58M532.63 185.00V186.60M538.02 185.00V185.75M532.63 185.00H538.02M691.85 184.98V195.69M693.93 184.98V193.02M691.85 184.98H693.93M602.56 184.85V188.85M604.12 184.85V185.21M602.56 184.85H604.12M647.08 184.82V188.82M649.74 184.82V185.41M647.08 184.82H649.74M673.08 184.76V185.19M675.74 184.76V190.17M673.08 184.76H675.74M697.12 184.74V186.28M698.25 184.74V196.87M697.12 184.74H698.25M670.31 184.69V188.69M671.03 184.69V186.74M670.31 184.69H671.03M467.37 184.67V188.67M468.10 184.67V185.64M467.37 184.67H468.10M466.67 184.62V186.45M466.67 184.62H467.73M677.98 184.56V188.56M678.47 184.56V188.56M677.98 184.56H678.47M689.68 184.49V188.49M690.06 184.49V188.49M689.68 184.49H690.06M503.97 184.23V188.23M504.69 184.23V196.26M503.97 184.23H504.69M507.58 184.10V188.10M508.15 184.10V210.10M507.58 184.10H508.15M508.70 184.10V188.10M507.86 184.10H508.70M516.96 184.09V188.56M517.95 184.09V188.09M516.96 184.09H517.95M529.25 184.06V187.73M535.32 184.06V185.00M529.25 184.06H535.32M701.90 184.04V185.10M703.19 184.04V193.76M701.90 184.04H703.19M493.64 184.01V188.01M495.82 184.01V192.07M493.64 184.01H495.82M502.12 183.99V198.94M502.71 183.99V187.99M502.12 183.99H502.71M517.46 183.98V184.09M519.40 183.98V194.19M517.46 183.98H519.40M662.39 183.93V187.95M665.60 183.93V185.72M662.39 183.93H665.60M684.99 183.90V195.65M686.09 183.90V186.70M684.99 183.90H686.09M601.01 183.87V196.75M603.34 183.87V184.85M601.01 183.87H603.34M474.03 183.86V186.44M475.35 183.86V186.48M474.03 183.86H475.35M494.73 183.75V184.01M498.64 183.75V187.74M494.73 183.75H498.64M690.63 183.70V203.72M691.26 183.70V187.70M690.63 183.70H691.26M564.94 183.65V189.85M565.89 183.65V185.35M564.94 183.65H565.89M482.85 183.64V187.64M483.69 183.64V194.21M482.85 183.64H483.69M496.68 183.61V183.75M500.22 183.61V187.61M496.68 183.61H500.22M470.75 183.60V319.00M471.56 183.60V188.57M470.75 183.60H471.56M510.17 183.60V190.61M511.96 183.60V209.60M510.17 183.60H511.96M513.11 183.60V195.01M511.07 183.60H513.11M574.39 183.60V194.00M602.18 183.60V183.87M574.39 183.60H602.18M467.20 183.57V184.62M469.09 183.57V188.45M467.20 183.57H469.09M707.92 183.50V186.35M724.15 183.50V186.14M707.92 183.50H724.15M646.41 183.49V191.47M648.41 183.49V184.82M646.41 183.49H648.41M523.25 183.36V189.30M524.49 183.36V193.62M523.25 183.36H524.49M588.29 183.26V183.60M606.58 183.26V207.03M588.29 183.26H606.58M635.32 183.09V205.27M637.64 183.09V186.18M635.32 183.09H637.64M679.98 182.98V189.30M681.25 182.98V185.12M679.98 182.98H681.25M688.90 182.87V186.87M689.25 182.87V186.87M688.90 182.87H689.25M674.41 182.84V184.76M676.61 182.84V192.94M674.41 182.84H676.61M678.88 182.75V186.75M680.62 182.75V182.98M678.88 182.75H680.62M472.57 182.72V186.72M473.01 182.72V186.72M472.57 182.72H473.01M661.66 182.68V186.68M664.00 182.68V183.93M661.66 182.68H664.00M472.15 182.68V186.68M472.15 182.68H472.79M505.24 182.65V188.09M506.62 182.65V185.83M505.24 182.65H506.62M647.41 182.63V183.49M654.03 182.63V195.12M647.41 182.63H654.03M697.69 182.58V184.74M699.25 182.58V197.14M697.69 182.58H699.25M565.41 182.55V183.65M566.70 182.55V194.40M565.41 182.55H566.70M492.88 182.51V186.51M493.22 182.51V186.51M492.88 182.51H493.22M567.38 182.40V186.40M568.12 182.40V208.40M567.38 182.40H568.12M569.38 182.40V188.47M567.75 182.40H569.38M704.75 182.40V186.40M716.03 182.40V183.50M704.75 182.40H716.03M479.27 182.29V190.24M480.08 182.29V188.33M479.27 182.29H480.08M516.33 182.22V186.22M518.43 182.22V183.98M516.33 182.22H518.43M679.75 182.11V182.75M682.40 182.11V185.88M679.75 182.11H682.40M597.43 182.10V183.26M609.70 182.10V188.89M597.43 182.10H609.70M476.60 182.00V195.66M477.57 182.00V208.00M476.60 182.00H477.57M478.41 182.00V262.70M477.09 182.00H478.41M479.67 181.99V182.29M477.75 181.99H479.67M480.78 181.84V185.84M481.44 181.84V185.36M480.78 181.84H481.44M488.43 181.81V198.81M490.97 181.81V188.81M488.43 181.81H490.97M520.51 181.66V185.66M521.80 181.66V185.11M520.51 181.66H521.80M667.91 181.65V192.86M670.67 181.65V184.69M667.91 181.65H670.67M689.87 181.60V184.49M690.94 181.60V183.70M689.87 181.60H690.94M689.07 181.58V182.87M689.07 181.58H690.41M517.38 181.58V182.22M521.16 181.58V181.66M517.38 181.58H521.16M525.58 181.57V187.66M526.94 181.57V188.57M525.58 181.57H526.94M689.74 181.51V181.58M692.89 181.51V184.98M689.74 181.51H692.89M655.04 181.51V185.53M656.60 181.51V199.07M655.04 181.51H656.60M566.05 181.48V182.55M568.57 181.48V182.40M566.05 181.48H568.57M691.32 181.45V181.51M698.47 181.45V182.58M691.32 181.45H698.47M498.45 181.45V183.61M500.63 181.45V185.45M498.45 181.45H500.63M505.93 181.39V182.65M508.28 181.39V184.10M505.93 181.39H508.28M650.72 181.38V182.63M655.82 181.38V181.51M650.72 181.38H655.82M631.38 181.33V186.48M636.48 181.33V183.09M631.38 181.33H636.48M669.29 181.29V181.65M675.51 181.29V182.84M669.29 181.29H675.51M471.16 181.27V183.60M472.47 181.27V182.68M471.16 181.27H472.47M678.22 181.27V184.56M681.07 181.27V182.11M678.22 181.27H681.07M662.83 181.25V182.68M662.83 181.25H672.40M525.00 181.24V185.24M526.26 181.24V181.57M525.00 181.24H526.26M659.69 181.13V187.25M667.61 181.13V181.25M659.69 181.13H667.61M519.27 181.06V181.58M523.87 181.06V183.36M519.27 181.06H523.87M468.15 181.06V183.57M470.07 181.06V185.06M468.15 181.06H470.07M645.04 181.05V188.20M645.74 181.05V185.05M645.04 181.05H645.74M512.09 181.03V183.60M515.04 181.03V190.23M512.09 181.03H515.04M521.57 181.00V181.06M513.56 181.00H521.57M481.11 181.00V181.84M482.28 181.00V207.00M481.11 181.00H482.28M483.27 181.00V183.64M481.69 181.00H483.27M562.65 180.97V184.97M563.05 180.97V184.97M562.65 180.97H563.05M645.39 180.96V181.05M653.27 180.96V181.38M645.39 180.96H653.27M482.48 180.87V181.00M486.98 180.87V189.69M482.48 180.87H486.98M694.89 180.70V181.45M702.55 180.70V184.04M694.89 180.70H702.55M639.61 180.65V184.65M642.39 180.65V186.93M639.61 180.65H642.39M641.00 180.39V180.65M649.33 180.39V180.96M641.00 180.39H649.33M562.30 180.38V184.38M562.85 180.38V180.97M562.30 180.38H562.85M507.11 180.33V181.39M517.57 180.33V181.00M507.11 180.33H517.57M469.11 180.24V181.06M471.81 180.24V181.27M469.11 180.24H471.81M493.05 180.19V182.51M499.54 180.19V181.45M493.05 180.19H499.54M512.34 180.10V180.33M525.63 180.10V181.24M512.34 180.10H525.63M528.38 180.10V206.10M518.98 180.10H528.38M532.29 180.10V184.06M523.68 180.10H532.29M567.31 180.10V181.48M571.66 180.10V206.10M567.31 180.10H571.66M603.57 180.10V182.10M569.48 180.10H603.57M645.16 180.10V180.39M657.48 180.10V206.10M645.16 180.10H657.48M663.65 180.10V181.13M651.32 180.10H663.65M496.29 180.00V180.19M501.28 180.00V199.00M496.29 180.00H501.28M502.41 180.00V183.99M498.79 180.00H502.41M503.27 180.00V199.20M500.60 180.00H503.27M504.33 180.00V184.23M501.94 180.00H504.33M562.57 180.00V180.38M563.71 180.00V196.90M562.57 180.00H563.71M586.52 180.00V180.10M563.14 180.00H586.52M612.00 180.00V202.60M574.83 180.00H612.00M615.30 180.00V191.83M593.42 180.00H615.30M633.93 180.00V181.33M639.07 180.00V200.30M633.93 180.00H639.07M657.49 180.00V180.10M636.50 180.00H657.49M677.45 180.00V202.60M646.99 180.00H677.45M679.65 180.00V181.27M662.22 180.00H679.65M684.13 180.00V199.20M670.94 180.00H684.13M685.54 180.00V183.90M677.53 180.00H685.54M688.26 180.00V205.00M681.54 180.00H688.26M698.72 180.00V180.70M684.90 180.00H698.72M704.13 180.00V201.50M691.81 180.00H704.13M710.39 180.00V182.40M697.97 180.00H710.39M466.00 179.86V183.86M470.46 179.86V180.24M466.00 179.86H470.46M468.23 179.70V179.86M473.34 179.70V183.70M468.23 179.70H473.34M476.00 179.59V183.59M478.71 179.59V181.99M476.00 179.59H478.71M470.79 179.56V179.70M474.69 179.56V183.86M470.79 179.56H474.69M484.73 179.27V180.87M489.70 179.27V181.81M484.73 179.27H489.70M604.36 179.20V180.00M704.18 179.20V180.00M604.36 179.20H704.18M487.22 179.12V179.27M503.13 179.12V180.00M487.22 179.12H503.13M477.36 179.08V179.59M477.36 179.08H495.18M472.74 179.00V179.56M486.27 179.00V179.08M472.74 179.00H486.27M479.50 178.80V179.00M527.98 178.80V180.10M479.50 178.80H527.98M503.74 178.60V178.80M654.27 178.60V179.20M503.74 178.60H654.27" stroke="#000" stroke-width="0.9" fill="none"/>
<path d="M580.5 183.6V196.8M578.9 196.8V231.5M582.3 201.8V231.5M578.9 201.8H582.3M579.5 231.5L580.9 287.0M578.9 196.8H582.3M589.2 225.0V251.3M591.8 234.4H599.7M599.7 234.4V245.3M591.8 234.4L599.7 261.2M586.0 214.0V236.0M594.5 243.0V255.0" stroke="#000" stroke-width="0.8" fill="none"/>
<polyline points="582.3,201.8 589.8,225.5 597.7,257.2 599.7,261.2" stroke="#000" stroke-width="1.5" fill="none"/>
<polyline points="584.5,204 591.5,229 598.5,259" stroke="#000" stroke-width="0.9" fill="none"/>
<line x1="465.70" y1="178.40" x2="772.20" y2="178.40" stroke="#000" stroke-width="1.1" />
<line x1="772.20" y1="178.40" x2="772.20" y2="218.20" stroke="#000" stroke-width="0.9" />
<rect x="465.80" y="332.80" width="6.15" height="35.70" fill="#bebebe" stroke="none" stroke-width="1" />
<rect x="471.90" y="332.80" width="0.95" height="35.70" fill="#c8a8d0" stroke="none" stroke-width="1" />
<rect x="472.80" y="332.80" width="3.15" height="35.70" fill="#bebebe" stroke="none" stroke-width="1" />
<rect x="475.90" y="332.80" width="0.95" height="35.70" fill="#c8a0c8" stroke="none" stroke-width="1" />
<rect x="476.80" y="332.80" width="1.85" height="35.70" fill="#bebebe" stroke="none" stroke-width="1" />
<rect x="478.60" y="332.80" width="1.45" height="35.70" fill="#e0a0c0" stroke="none" stroke-width="1" />
<rect x="480.00" y="332.80" width="1.85" height="35.70" fill="#c4bcc8" stroke="none" stroke-width="1" />
<rect x="481.80" y="332.80" width="2.65" height="35.70" fill="#c8c0b0" stroke="none" stroke-width="1" />
<rect x="484.40" y="332.80" width="0.95" height="35.70" fill="#d8a8c0" stroke="none" stroke-width="1" />
<rect x="485.30" y="332.80" width="1.45" height="35.70" fill="#c0d060" stroke="none" stroke-width="1" />
<rect x="486.70" y="332.80" width="2.25" height="35.70" fill="#bebebe" stroke="none" stroke-width="1" />
<rect x="488.90" y="332.80" width="0.95" height="35.70" fill="#80b0b0" stroke="none" stroke-width="1" />
<rect x="489.80" y="332.80" width="4.95" height="35.70" fill="#c4c2b8" stroke="none" stroke-width="1" />
<rect x="494.70" y="332.80" width="0.95" height="35.70" fill="#707070" stroke="none" stroke-width="1" />
<rect x="495.60" y="332.80" width="2.25" height="35.70" fill="#80e0c0" stroke="none" stroke-width="1" />
<rect x="497.80" y="332.80" width="0.55" height="35.70" fill="#bebebe" stroke="none" stroke-width="1" />
<rect x="498.30" y="332.80" width="1.85" height="35.70" fill="#e07070" stroke="none" stroke-width="1" />
<rect x="500.10" y="332.80" width="0.95" height="35.70" fill="#d8b090" stroke="none" stroke-width="1" />
<rect x="501.00" y="332.80" width="1.35" height="35.70" fill="#f08070" stroke="none" stroke-width="1" />
<rect x="502.30" y="332.80" width="1.35" height="35.70" fill="#606070" stroke="none" stroke-width="1" />
<rect x="503.60" y="332.80" width="1.45" height="35.70" fill="#e06060" stroke="none" stroke-width="1" />
<rect x="505.00" y="332.80" width="1.35" height="35.70" fill="#709090" stroke="none" stroke-width="1" />
<rect x="506.30" y="332.80" width="2.75" height="35.70" fill="#c04080" stroke="none" stroke-width="1" />
<rect x="509.00" y="332.80" width="16.05" height="35.70" fill="#ff0000" stroke="none" stroke-width="1" />
<rect x="525.00" y="332.80" width="1.35" height="35.70" fill="#a06050" stroke="none" stroke-width="1" />
<rect x="526.30" y="332.80" width="3.65" height="35.70" fill="#c86060" stroke="none" stroke-width="1" />
<rect x="529.90" y="332.80" width="0.95" height="35.70" fill="#a03030" stroke="none" stroke-width="1" />
<rect x="530.80" y="332.80" width="1.85" height="35.70" fill="#b03030" stroke="none" stroke-width="1" />
<rect x="532.60" y="332.80" width="0.95" height="35.70" fill="#a52a2a" stroke="none" stroke-width="1" />
<rect x="533.50" y="332.80" width="5.35" height="35.70" fill="#ffc0cb" stroke="none" stroke-width="1" />
<rect x="538.80" y="332.80" width="22.45" height="35.70" fill="#a52a2a" stroke="none" stroke-width="1" />
<rect x="561.20" y="332.80" width="1.35" height="35.70" fill="#6080a0" stroke="none" stroke-width="1" />
<rect x="562.50" y="332.80" width="0.95" height="35.70" fill="#80c0c0" stroke="none" stroke-width="1" />
<rect x="563.40" y="332.80" width="2.25" height="35.70" fill="#bebebe" stroke="none" stroke-width="1" />
<rect x="565.60" y="332.80" width="1.45" height="35.70" fill="#309090" stroke="none" stroke-width="1" />
<rect x="567.00" y="332.80" width="1.80" height="35.70" fill="#b0b0a0" stroke="none" stroke-width="1" />
<rect x="568.75" y="332.80" width="4.50" height="35.70" fill="#30c050" stroke="none" stroke-width="1" />
<rect x="573.20" y="332.80" width="1.45" height="35.70" fill="#6060c0" stroke="none" stroke-width="1" />
<rect x="574.60" y="332.80" width="3.15" height="35.70" fill="#00ff00" stroke="none" stroke-width="1" />
<rect x="577.70" y="332.80" width="4.45" height="35.70" fill="#a020f0" stroke="none" stroke-width="1" />
<rect x="582.10" y="332.80" width="18.05" height="35.70" fill="#00ff00" stroke="none" stroke-width="1" />
<rect x="600.10" y="332.80" width="3.15" height="35.70" fill="#bebebe" stroke="none" stroke-width="1" />
<rect x="603.20" y="332.80" width="0.75" height="35.70" fill="#b8b0c8" stroke="none" stroke-width="1" />
<rect x="603.90" y="332.80" width="1.05" height="35.70" fill="#d8a080" stroke="none" stroke-width="1" />
<rect x="604.90" y="332.80" width="2.85" height="35.70" fill="#a8b8c8" stroke="none" stroke-width="1" />
<rect x="607.70" y="332.80" width="1.05" height="35.70" fill="#503020" stroke="none" stroke-width="1" />
<rect x="608.70" y="332.80" width="1.15" height="35.70" fill="#40d0d0" stroke="none" stroke-width="1" />
<rect x="609.80" y="332.80" width="1.45" height="35.70" fill="#40e0d0" stroke="none" stroke-width="1" />
<rect x="611.20" y="332.80" width="1.05" height="35.70" fill="#c060c0" stroke="none" stroke-width="1" />
<rect x="612.20" y="332.80" width="1.75" height="35.70" fill="#b030b0" stroke="none" stroke-width="1" />
<rect x="613.90" y="332.80" width="1.85" height="35.70" fill="#c040a0" stroke="none" stroke-width="1" />
<rect x="615.70" y="332.80" width="4.85" height="35.70" fill="#ff00ff" stroke="none" stroke-width="1" />
<rect x="620.50" y="332.80" width="0.75" height="35.70" fill="#300030" stroke="none" stroke-width="1" />
<rect x="621.20" y="332.80" width="7.65" height="35.70" fill="#000000" stroke="none" stroke-width="1" />
<rect x="628.80" y="332.80" width="7.45" height="35.70" fill="#adff2f" stroke="none" stroke-width="1" />
<rect x="636.20" y="332.80" width="0.95" height="35.70" fill="#8090b0" stroke="none" stroke-width="1" />
<rect x="637.10" y="332.80" width="1.85" height="35.70" fill="#4a6fd0" stroke="none" stroke-width="1" />
<rect x="638.90" y="332.80" width="0.95" height="35.70" fill="#f0e020" stroke="none" stroke-width="1" />
<rect x="639.80" y="332.80" width="1.45" height="35.70" fill="#7080b0" stroke="none" stroke-width="1" />
<rect x="641.20" y="332.80" width="1.35" height="35.70" fill="#80c8c0" stroke="none" stroke-width="1" />
<rect x="642.50" y="332.80" width="0.95" height="35.70" fill="#e0a060" stroke="none" stroke-width="1" />
<rect x="643.40" y="332.80" width="1.85" height="35.70" fill="#ff4500" stroke="none" stroke-width="1" />
<rect x="645.20" y="332.80" width="0.95" height="35.70" fill="#ffa030" stroke="none" stroke-width="1" />
<rect x="646.10" y="332.80" width="1.35" height="35.70" fill="#4040ff" stroke="none" stroke-width="1" />
<rect x="647.40" y="332.80" width="2.25" height="35.70" fill="#5a5ad0" stroke="none" stroke-width="1" />
<rect x="649.60" y="332.80" width="1.45" height="35.70" fill="#00e020" stroke="none" stroke-width="1" />
<rect x="651.00" y="332.80" width="1.85" height="35.70" fill="#5a4a8a" stroke="none" stroke-width="1" />
<rect x="652.80" y="332.80" width="2.25" height="35.70" fill="#7fdfd0" stroke="none" stroke-width="1" />
<rect x="655.00" y="332.80" width="1.85" height="35.70" fill="#90d0c0" stroke="none" stroke-width="1" />
<rect x="656.80" y="332.80" width="1.35" height="35.70" fill="#f0c030" stroke="none" stroke-width="1" />
<rect x="658.10" y="332.80" width="1.45" height="35.70" fill="#90e0d0" stroke="none" stroke-width="1" />
<rect x="659.50" y="332.80" width="1.35" height="35.70" fill="#e0c8a0" stroke="none" stroke-width="1" />
<rect x="660.80" y="332.80" width="1.35" height="35.70" fill="#40e0d0" stroke="none" stroke-width="1" />
<rect x="662.10" y="332.80" width="0.95" height="35.70" fill="#3040f0" stroke="none" stroke-width="1" />
<rect x="663.00" y="332.80" width="0.95" height="35.70" fill="#d8b080" stroke="none" stroke-width="1" />
<rect x="663.90" y="332.80" width="2.75" height="35.70" fill="#d0a060" stroke="none" stroke-width="1" />
<rect x="666.60" y="332.80" width="1.85" height="35.70" fill="#70c0e0" stroke="none" stroke-width="1" />
<rect x="668.40" y="332.80" width="1.65" height="35.70" fill="#50e0c8" stroke="none" stroke-width="1" />
<rect x="670.00" y="332.80" width="2.05" height="35.70" fill="#40e0d0" stroke="none" stroke-width="1" />
<rect x="672.00" y="332.80" width="1.80" height="35.70" fill="#0000ff" stroke="none" stroke-width="1" />
<rect x="673.75" y="332.80" width="1.40" height="35.70" fill="#40d0d0" stroke="none" stroke-width="1" />
<rect x="675.10" y="332.80" width="1.35" height="35.70" fill="#8060a0" stroke="none" stroke-width="1" />
<rect x="676.40" y="332.80" width="1.85" height="35.70" fill="#2020f0" stroke="none" stroke-width="1" />
<rect x="678.20" y="332.80" width="1.45" height="35.70" fill="#5060a0" stroke="none" stroke-width="1" />
<rect x="679.60" y="332.80" width="3.55" height="35.70" fill="#2020ff" stroke="none" stroke-width="1" />
<rect x="683.10" y="332.80" width="1.85" height="35.70" fill="#40e0d0" stroke="none" stroke-width="1" />
<rect x="684.90" y="332.80" width="2.75" height="35.70" fill="#f08080" stroke="none" stroke-width="1" />
<rect x="687.60" y="332.80" width="1.35" height="35.70" fill="#f0b030" stroke="none" stroke-width="1" />
<rect x="688.90" y="332.80" width="2.75" height="35.70" fill="#1010ff" stroke="none" stroke-width="1" />
<rect x="691.60" y="332.80" width="0.95" height="35.70" fill="#40e0d0" stroke="none" stroke-width="1" />
<rect x="692.50" y="332.80" width="1.35" height="35.70" fill="#f0b020" stroke="none" stroke-width="1" />
<rect x="693.80" y="332.80" width="1.45" height="35.70" fill="#f0e020" stroke="none" stroke-width="1" />
<rect x="695.20" y="332.80" width="1.35" height="35.70" fill="#c0b060" stroke="none" stroke-width="1" />
<rect x="696.50" y="332.80" width="1.15" height="35.70" fill="#7090b0" stroke="none" stroke-width="1" />
<rect x="697.60" y="332.80" width="6.65" height="35.70" fill="#40e0d0" stroke="none" stroke-width="1" />
<rect x="704.20" y="332.80" width="1.55" height="35.70" fill="#4a80c0" stroke="none" stroke-width="1" />
<rect x="705.70" y="332.80" width="12.85" height="35.70" fill="#40e0d0" stroke="none" stroke-width="1" />
<rect x="718.50" y="332.80" width="1.05" height="35.70" fill="#5070b0" stroke="none" stroke-width="1" />
<rect x="719.50" y="332.80" width="1.55" height="35.70" fill="#b0b060" stroke="none" stroke-width="1" />
<rect x="721.00" y="332.80" width="1.65" height="35.70" fill="#40e0d0" stroke="none" stroke-width="1" />
<rect x="722.60" y="332.80" width="2.05" height="35.70" fill="#1030ff" stroke="none" stroke-width="1" />
<rect x="724.60" y="332.80" width="1.05" height="35.70" fill="#40e0d0" stroke="none" stroke-width="1" />
<rect x="725.60" y="332.80" width="1.05" height="35.70" fill="#707890" stroke="none" stroke-width="1" />
<rect x="726.60" y="332.80" width="1.65" height="35.70" fill="#80c8a0" stroke="none" stroke-width="1" />
<rect x="728.20" y="332.80" width="1.55" height="35.70" fill="#6080b0" stroke="none" stroke-width="1" />
<rect x="729.70" y="332.80" width="1.25" height="35.70" fill="#40a0e0" stroke="none" stroke-width="1" />
<rect x="730.90" y="332.80" width="12.15" height="35.70" fill="#ffff00" stroke="none" stroke-width="1" />
<rect x="743.00" y="332.80" width="13.25" height="35.70" fill="#0000ff" stroke="none" stroke-width="1" />
<rect x="756.20" y="332.80" width="14.85" height="35.70" fill="#40e0d0" stroke="none" stroke-width="1" />
<rect x="771.00" y="332.80" width="1.65" height="35.70" fill="#bebebe" stroke="none" stroke-width="1" />
<line x1="465.80" y1="333.10" x2="772.60" y2="333.10" stroke="#444" stroke-width="1.1" />
<line x1="465.80" y1="368.40" x2="772.60" y2="368.40" stroke="#444" stroke-width="1.1" />
</svg></body></html>
